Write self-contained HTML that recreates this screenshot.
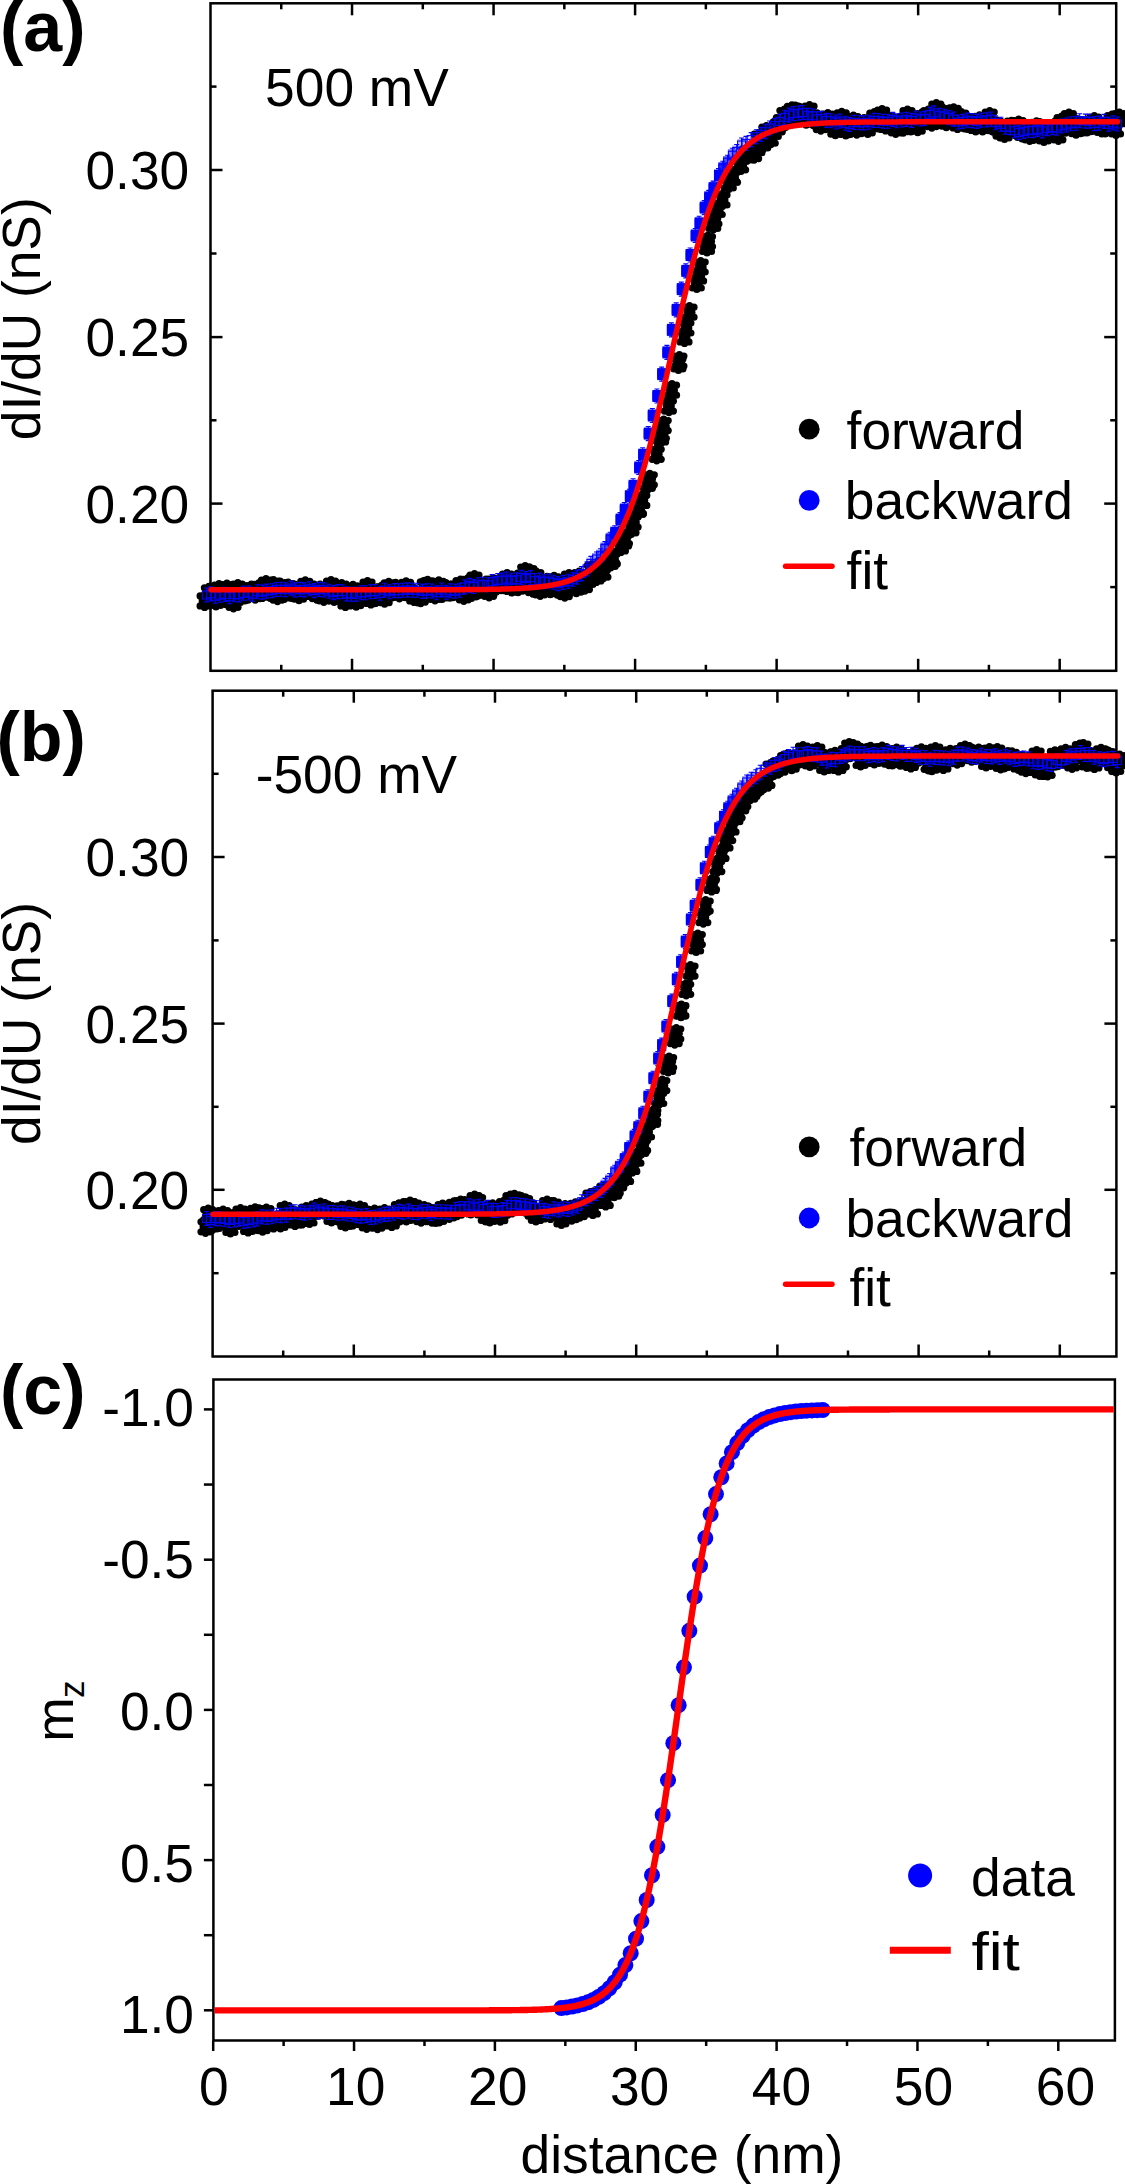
<!DOCTYPE html>
<html><head><meta charset="utf-8"><style>html,body{margin:0;padding:0;background:#fff;overflow:hidden}svg{display:block}</style></head><body>
<svg width="1125" height="2184" viewBox="0 0 1125 2184" font-family='"Liberation Sans", sans-serif'>
<rect width="1125" height="2184" fill="#fff"/>
<rect x="210.50" y="3.30" width="905.70" height="667.50" fill="none" stroke="#000" stroke-width="2.5"/>
<line x1="210.50" y1="170.00" x2="222.50" y2="170.00" stroke="#000" stroke-width="2.5" stroke-linecap="butt"/>
<line x1="1116.20" y1="170.00" x2="1104.20" y2="170.00" stroke="#000" stroke-width="2.5" stroke-linecap="butt"/>
<line x1="210.50" y1="337.10" x2="222.50" y2="337.10" stroke="#000" stroke-width="2.5" stroke-linecap="butt"/>
<line x1="1116.20" y1="337.10" x2="1104.20" y2="337.10" stroke="#000" stroke-width="2.5" stroke-linecap="butt"/>
<line x1="210.50" y1="503.60" x2="222.50" y2="503.60" stroke="#000" stroke-width="2.5" stroke-linecap="butt"/>
<line x1="1116.20" y1="503.60" x2="1104.20" y2="503.60" stroke="#000" stroke-width="2.5" stroke-linecap="butt"/>
<line x1="210.50" y1="86.60" x2="216.50" y2="86.60" stroke="#000" stroke-width="2.5" stroke-linecap="butt"/>
<line x1="1116.20" y1="86.60" x2="1110.20" y2="86.60" stroke="#000" stroke-width="2.5" stroke-linecap="butt"/>
<line x1="210.50" y1="253.50" x2="216.50" y2="253.50" stroke="#000" stroke-width="2.5" stroke-linecap="butt"/>
<line x1="1116.20" y1="253.50" x2="1110.20" y2="253.50" stroke="#000" stroke-width="2.5" stroke-linecap="butt"/>
<line x1="210.50" y1="420.30" x2="216.50" y2="420.30" stroke="#000" stroke-width="2.5" stroke-linecap="butt"/>
<line x1="1116.20" y1="420.30" x2="1110.20" y2="420.30" stroke="#000" stroke-width="2.5" stroke-linecap="butt"/>
<line x1="210.50" y1="587.10" x2="216.50" y2="587.10" stroke="#000" stroke-width="2.5" stroke-linecap="butt"/>
<line x1="1116.20" y1="587.10" x2="1110.20" y2="587.10" stroke="#000" stroke-width="2.5" stroke-linecap="butt"/>
<line x1="281.26" y1="3.30" x2="281.26" y2="9.30" stroke="#000" stroke-width="2.5" stroke-linecap="butt"/>
<line x1="281.26" y1="670.80" x2="281.26" y2="664.80" stroke="#000" stroke-width="2.5" stroke-linecap="butt"/>
<line x1="352.03" y1="3.30" x2="352.03" y2="15.30" stroke="#000" stroke-width="2.5" stroke-linecap="butt"/>
<line x1="352.03" y1="670.80" x2="352.03" y2="658.80" stroke="#000" stroke-width="2.5" stroke-linecap="butt"/>
<line x1="422.80" y1="3.30" x2="422.80" y2="9.30" stroke="#000" stroke-width="2.5" stroke-linecap="butt"/>
<line x1="422.80" y1="670.80" x2="422.80" y2="664.80" stroke="#000" stroke-width="2.5" stroke-linecap="butt"/>
<line x1="493.56" y1="3.30" x2="493.56" y2="15.30" stroke="#000" stroke-width="2.5" stroke-linecap="butt"/>
<line x1="493.56" y1="670.80" x2="493.56" y2="658.80" stroke="#000" stroke-width="2.5" stroke-linecap="butt"/>
<line x1="564.33" y1="3.30" x2="564.33" y2="9.30" stroke="#000" stroke-width="2.5" stroke-linecap="butt"/>
<line x1="564.33" y1="670.80" x2="564.33" y2="664.80" stroke="#000" stroke-width="2.5" stroke-linecap="butt"/>
<line x1="635.09" y1="3.30" x2="635.09" y2="15.30" stroke="#000" stroke-width="2.5" stroke-linecap="butt"/>
<line x1="635.09" y1="670.80" x2="635.09" y2="658.80" stroke="#000" stroke-width="2.5" stroke-linecap="butt"/>
<line x1="705.86" y1="3.30" x2="705.86" y2="9.30" stroke="#000" stroke-width="2.5" stroke-linecap="butt"/>
<line x1="705.86" y1="670.80" x2="705.86" y2="664.80" stroke="#000" stroke-width="2.5" stroke-linecap="butt"/>
<line x1="776.62" y1="3.30" x2="776.62" y2="15.30" stroke="#000" stroke-width="2.5" stroke-linecap="butt"/>
<line x1="776.62" y1="670.80" x2="776.62" y2="658.80" stroke="#000" stroke-width="2.5" stroke-linecap="butt"/>
<line x1="847.38" y1="3.30" x2="847.38" y2="9.30" stroke="#000" stroke-width="2.5" stroke-linecap="butt"/>
<line x1="847.38" y1="670.80" x2="847.38" y2="664.80" stroke="#000" stroke-width="2.5" stroke-linecap="butt"/>
<line x1="918.15" y1="3.30" x2="918.15" y2="15.30" stroke="#000" stroke-width="2.5" stroke-linecap="butt"/>
<line x1="918.15" y1="670.80" x2="918.15" y2="658.80" stroke="#000" stroke-width="2.5" stroke-linecap="butt"/>
<line x1="988.92" y1="3.30" x2="988.92" y2="9.30" stroke="#000" stroke-width="2.5" stroke-linecap="butt"/>
<line x1="988.92" y1="670.80" x2="988.92" y2="664.80" stroke="#000" stroke-width="2.5" stroke-linecap="butt"/>
<line x1="1059.68" y1="3.30" x2="1059.68" y2="15.30" stroke="#000" stroke-width="2.5" stroke-linecap="butt"/>
<line x1="1059.68" y1="670.80" x2="1059.68" y2="658.80" stroke="#000" stroke-width="2.5" stroke-linecap="butt"/>
<g fill="#000"><circle cx="204.6" cy="600.9" r="6"/><circle cx="200.1" cy="595.9" r="3.6"/><circle cx="209.1" cy="595.9" r="3.6"/><circle cx="200.1" cy="605.9" r="3.6"/><circle cx="209.1" cy="605.9" r="3.6"/><circle cx="204.6" cy="594.4" r="3.6"/><circle cx="204.6" cy="607.4" r="3.6"/><circle cx="208.9" cy="592.8" r="6"/><circle cx="204.4" cy="587.8" r="3.6"/><circle cx="213.4" cy="587.8" r="3.6"/><circle cx="204.4" cy="597.8" r="3.6"/><circle cx="213.4" cy="597.8" r="3.6"/><circle cx="208.9" cy="586.3" r="3.6"/><circle cx="208.9" cy="599.3" r="3.6"/><circle cx="212.2" cy="595.6" r="6"/><circle cx="207.7" cy="590.6" r="3.6"/><circle cx="216.7" cy="590.6" r="3.6"/><circle cx="207.7" cy="600.6" r="3.6"/><circle cx="216.7" cy="600.6" r="3.6"/><circle cx="212.2" cy="589.1" r="3.6"/><circle cx="212.2" cy="602.1" r="3.6"/><circle cx="216.0" cy="600.5" r="6"/><circle cx="211.5" cy="595.5" r="3.6"/><circle cx="220.5" cy="595.5" r="3.6"/><circle cx="211.5" cy="605.5" r="3.6"/><circle cx="220.5" cy="605.5" r="3.6"/><circle cx="216.0" cy="594.0" r="3.6"/><circle cx="216.0" cy="607.0" r="3.6"/><circle cx="219.0" cy="590.0" r="6"/><circle cx="214.5" cy="585.0" r="3.6"/><circle cx="223.5" cy="585.0" r="3.6"/><circle cx="214.5" cy="595.0" r="3.6"/><circle cx="223.5" cy="595.0" r="3.6"/><circle cx="219.0" cy="583.5" r="3.6"/><circle cx="219.0" cy="596.5" r="3.6"/><circle cx="223.3" cy="595.8" r="6"/><circle cx="218.8" cy="590.8" r="3.6"/><circle cx="227.8" cy="590.8" r="3.6"/><circle cx="218.8" cy="600.8" r="3.6"/><circle cx="227.8" cy="600.8" r="3.6"/><circle cx="223.3" cy="589.3" r="3.6"/><circle cx="223.3" cy="602.3" r="3.6"/><circle cx="226.9" cy="589.7" r="6"/><circle cx="222.4" cy="584.7" r="3.6"/><circle cx="231.4" cy="584.7" r="3.6"/><circle cx="222.4" cy="594.7" r="3.6"/><circle cx="231.4" cy="594.7" r="3.6"/><circle cx="226.9" cy="583.2" r="3.6"/><circle cx="226.9" cy="596.2" r="3.6"/><circle cx="230.1" cy="599.4" r="6"/><circle cx="225.6" cy="594.4" r="3.6"/><circle cx="234.6" cy="594.4" r="3.6"/><circle cx="225.6" cy="604.4" r="3.6"/><circle cx="234.6" cy="604.4" r="3.6"/><circle cx="230.1" cy="592.9" r="3.6"/><circle cx="230.1" cy="605.9" r="3.6"/><circle cx="233.5" cy="602.3" r="6"/><circle cx="229.0" cy="597.3" r="3.6"/><circle cx="238.0" cy="597.3" r="3.6"/><circle cx="229.0" cy="607.3" r="3.6"/><circle cx="238.0" cy="607.3" r="3.6"/><circle cx="233.5" cy="595.8" r="3.6"/><circle cx="233.5" cy="608.8" r="3.6"/><circle cx="237.8" cy="589.1" r="6"/><circle cx="233.3" cy="584.1" r="3.6"/><circle cx="242.3" cy="584.1" r="3.6"/><circle cx="233.3" cy="594.1" r="3.6"/><circle cx="242.3" cy="594.1" r="3.6"/><circle cx="237.8" cy="582.6" r="3.6"/><circle cx="237.8" cy="595.6" r="3.6"/><circle cx="240.5" cy="596.0" r="6"/><circle cx="236.0" cy="591.0" r="3.6"/><circle cx="245.0" cy="591.0" r="3.6"/><circle cx="236.0" cy="601.0" r="3.6"/><circle cx="245.0" cy="601.0" r="3.6"/><circle cx="240.5" cy="589.5" r="3.6"/><circle cx="240.5" cy="602.5" r="3.6"/><circle cx="245.0" cy="593.4" r="6"/><circle cx="240.5" cy="588.4" r="3.6"/><circle cx="249.5" cy="588.4" r="3.6"/><circle cx="240.5" cy="598.4" r="3.6"/><circle cx="249.5" cy="598.4" r="3.6"/><circle cx="245.0" cy="586.9" r="3.6"/><circle cx="245.0" cy="599.9" r="3.6"/><circle cx="247.9" cy="593.7" r="6"/><circle cx="243.4" cy="588.7" r="3.6"/><circle cx="252.4" cy="588.7" r="3.6"/><circle cx="243.4" cy="598.7" r="3.6"/><circle cx="252.4" cy="598.7" r="3.6"/><circle cx="247.9" cy="587.2" r="3.6"/><circle cx="247.9" cy="600.2" r="3.6"/><circle cx="251.3" cy="590.5" r="6"/><circle cx="246.8" cy="585.5" r="3.6"/><circle cx="255.8" cy="585.5" r="3.6"/><circle cx="246.8" cy="595.5" r="3.6"/><circle cx="255.8" cy="595.5" r="3.6"/><circle cx="251.3" cy="584.0" r="3.6"/><circle cx="251.3" cy="597.0" r="3.6"/><circle cx="255.3" cy="593.6" r="6"/><circle cx="250.8" cy="588.6" r="3.6"/><circle cx="259.8" cy="588.6" r="3.6"/><circle cx="250.8" cy="598.6" r="3.6"/><circle cx="259.8" cy="598.6" r="3.6"/><circle cx="255.3" cy="587.1" r="3.6"/><circle cx="255.3" cy="600.1" r="3.6"/><circle cx="258.7" cy="589.3" r="6"/><circle cx="254.2" cy="584.3" r="3.6"/><circle cx="263.2" cy="584.3" r="3.6"/><circle cx="254.2" cy="594.3" r="3.6"/><circle cx="263.2" cy="594.3" r="3.6"/><circle cx="258.7" cy="582.8" r="3.6"/><circle cx="258.7" cy="595.8" r="3.6"/><circle cx="262.3" cy="591.9" r="6"/><circle cx="257.8" cy="586.9" r="3.6"/><circle cx="266.8" cy="586.9" r="3.6"/><circle cx="257.8" cy="596.9" r="3.6"/><circle cx="266.8" cy="596.9" r="3.6"/><circle cx="262.3" cy="585.4" r="3.6"/><circle cx="262.3" cy="598.4" r="3.6"/><circle cx="266.0" cy="585.1" r="6"/><circle cx="261.5" cy="580.1" r="3.6"/><circle cx="270.5" cy="580.1" r="3.6"/><circle cx="261.5" cy="590.1" r="3.6"/><circle cx="270.5" cy="590.1" r="3.6"/><circle cx="266.0" cy="578.6" r="3.6"/><circle cx="266.0" cy="591.6" r="3.6"/><circle cx="270.1" cy="591.8" r="6"/><circle cx="265.6" cy="586.8" r="3.6"/><circle cx="274.6" cy="586.8" r="3.6"/><circle cx="265.6" cy="596.8" r="3.6"/><circle cx="274.6" cy="596.8" r="3.6"/><circle cx="270.1" cy="585.3" r="3.6"/><circle cx="270.1" cy="598.3" r="3.6"/><circle cx="273.5" cy="586.1" r="6"/><circle cx="269.0" cy="581.1" r="3.6"/><circle cx="278.0" cy="581.1" r="3.6"/><circle cx="269.0" cy="591.1" r="3.6"/><circle cx="278.0" cy="591.1" r="3.6"/><circle cx="273.5" cy="579.6" r="3.6"/><circle cx="273.5" cy="592.6" r="3.6"/><circle cx="277.5" cy="595.1" r="6"/><circle cx="273.0" cy="590.1" r="3.6"/><circle cx="282.0" cy="590.1" r="3.6"/><circle cx="273.0" cy="600.1" r="3.6"/><circle cx="282.0" cy="600.1" r="3.6"/><circle cx="277.5" cy="588.6" r="3.6"/><circle cx="277.5" cy="601.6" r="3.6"/><circle cx="280.2" cy="587.7" r="6"/><circle cx="275.7" cy="582.7" r="3.6"/><circle cx="284.7" cy="582.7" r="3.6"/><circle cx="275.7" cy="592.7" r="3.6"/><circle cx="284.7" cy="592.7" r="3.6"/><circle cx="280.2" cy="581.2" r="3.6"/><circle cx="280.2" cy="594.2" r="3.6"/><circle cx="284.4" cy="592.8" r="6"/><circle cx="279.9" cy="587.8" r="3.6"/><circle cx="288.9" cy="587.8" r="3.6"/><circle cx="279.9" cy="597.8" r="3.6"/><circle cx="288.9" cy="597.8" r="3.6"/><circle cx="284.4" cy="586.3" r="3.6"/><circle cx="284.4" cy="599.3" r="3.6"/><circle cx="288.2" cy="588.6" r="6"/><circle cx="283.7" cy="583.6" r="3.6"/><circle cx="292.7" cy="583.6" r="3.6"/><circle cx="283.7" cy="593.6" r="3.6"/><circle cx="292.7" cy="593.6" r="3.6"/><circle cx="288.2" cy="582.1" r="3.6"/><circle cx="288.2" cy="595.1" r="3.6"/><circle cx="291.7" cy="592.0" r="6"/><circle cx="287.2" cy="587.0" r="3.6"/><circle cx="296.2" cy="587.0" r="3.6"/><circle cx="287.2" cy="597.0" r="3.6"/><circle cx="296.2" cy="597.0" r="3.6"/><circle cx="291.7" cy="585.5" r="3.6"/><circle cx="291.7" cy="598.5" r="3.6"/><circle cx="294.8" cy="590.7" r="6"/><circle cx="290.3" cy="585.7" r="3.6"/><circle cx="299.3" cy="585.7" r="3.6"/><circle cx="290.3" cy="595.7" r="3.6"/><circle cx="299.3" cy="595.7" r="3.6"/><circle cx="294.8" cy="584.2" r="3.6"/><circle cx="294.8" cy="597.2" r="3.6"/><circle cx="299.0" cy="594.2" r="6"/><circle cx="294.5" cy="589.2" r="3.6"/><circle cx="303.5" cy="589.2" r="3.6"/><circle cx="294.5" cy="599.2" r="3.6"/><circle cx="303.5" cy="599.2" r="3.6"/><circle cx="299.0" cy="587.7" r="3.6"/><circle cx="299.0" cy="600.7" r="3.6"/><circle cx="302.2" cy="590.8" r="6"/><circle cx="297.7" cy="585.8" r="3.6"/><circle cx="306.7" cy="585.8" r="3.6"/><circle cx="297.7" cy="595.8" r="3.6"/><circle cx="306.7" cy="595.8" r="3.6"/><circle cx="302.2" cy="584.3" r="3.6"/><circle cx="302.2" cy="597.3" r="3.6"/><circle cx="305.3" cy="586.3" r="6"/><circle cx="300.8" cy="581.3" r="3.6"/><circle cx="309.8" cy="581.3" r="3.6"/><circle cx="300.8" cy="591.3" r="3.6"/><circle cx="309.8" cy="591.3" r="3.6"/><circle cx="305.3" cy="579.8" r="3.6"/><circle cx="305.3" cy="592.8" r="3.6"/><circle cx="309.7" cy="589.1" r="6"/><circle cx="305.2" cy="584.1" r="3.6"/><circle cx="314.2" cy="584.1" r="3.6"/><circle cx="305.2" cy="594.1" r="3.6"/><circle cx="314.2" cy="594.1" r="3.6"/><circle cx="309.7" cy="582.6" r="3.6"/><circle cx="309.7" cy="595.6" r="3.6"/><circle cx="312.7" cy="591.4" r="6"/><circle cx="308.2" cy="586.4" r="3.6"/><circle cx="317.2" cy="586.4" r="3.6"/><circle cx="308.2" cy="596.4" r="3.6"/><circle cx="317.2" cy="596.4" r="3.6"/><circle cx="312.7" cy="584.9" r="3.6"/><circle cx="312.7" cy="597.9" r="3.6"/><circle cx="316.8" cy="593.6" r="6"/><circle cx="312.3" cy="588.6" r="3.6"/><circle cx="321.3" cy="588.6" r="3.6"/><circle cx="312.3" cy="598.6" r="3.6"/><circle cx="321.3" cy="598.6" r="3.6"/><circle cx="316.8" cy="587.1" r="3.6"/><circle cx="316.8" cy="600.1" r="3.6"/><circle cx="320.1" cy="590.6" r="6"/><circle cx="315.6" cy="585.6" r="3.6"/><circle cx="324.6" cy="585.6" r="3.6"/><circle cx="315.6" cy="595.6" r="3.6"/><circle cx="324.6" cy="595.6" r="3.6"/><circle cx="320.1" cy="584.1" r="3.6"/><circle cx="320.1" cy="597.1" r="3.6"/><circle cx="323.8" cy="595.8" r="6"/><circle cx="319.3" cy="590.8" r="3.6"/><circle cx="328.3" cy="590.8" r="3.6"/><circle cx="319.3" cy="600.8" r="3.6"/><circle cx="328.3" cy="600.8" r="3.6"/><circle cx="323.8" cy="589.3" r="3.6"/><circle cx="323.8" cy="602.3" r="3.6"/><circle cx="327.4" cy="590.8" r="6"/><circle cx="322.9" cy="585.8" r="3.6"/><circle cx="331.9" cy="585.8" r="3.6"/><circle cx="322.9" cy="595.8" r="3.6"/><circle cx="331.9" cy="595.8" r="3.6"/><circle cx="327.4" cy="584.3" r="3.6"/><circle cx="327.4" cy="597.3" r="3.6"/><circle cx="331.0" cy="586.0" r="6"/><circle cx="326.5" cy="581.0" r="3.6"/><circle cx="335.5" cy="581.0" r="3.6"/><circle cx="326.5" cy="591.0" r="3.6"/><circle cx="335.5" cy="591.0" r="3.6"/><circle cx="331.0" cy="579.5" r="3.6"/><circle cx="331.0" cy="592.5" r="3.6"/><circle cx="334.1" cy="595.8" r="6"/><circle cx="329.6" cy="590.8" r="3.6"/><circle cx="338.6" cy="590.8" r="3.6"/><circle cx="329.6" cy="600.8" r="3.6"/><circle cx="338.6" cy="600.8" r="3.6"/><circle cx="334.1" cy="589.3" r="3.6"/><circle cx="334.1" cy="602.3" r="3.6"/><circle cx="338.7" cy="594.7" r="6"/><circle cx="334.2" cy="589.7" r="3.6"/><circle cx="343.2" cy="589.7" r="3.6"/><circle cx="334.2" cy="599.7" r="3.6"/><circle cx="343.2" cy="599.7" r="3.6"/><circle cx="338.7" cy="588.2" r="3.6"/><circle cx="338.7" cy="601.2" r="3.6"/><circle cx="341.7" cy="589.1" r="6"/><circle cx="337.2" cy="584.1" r="3.6"/><circle cx="346.2" cy="584.1" r="3.6"/><circle cx="337.2" cy="594.1" r="3.6"/><circle cx="346.2" cy="594.1" r="3.6"/><circle cx="341.7" cy="582.6" r="3.6"/><circle cx="341.7" cy="595.6" r="3.6"/><circle cx="345.4" cy="600.9" r="6"/><circle cx="340.9" cy="595.9" r="3.6"/><circle cx="349.9" cy="595.9" r="3.6"/><circle cx="340.9" cy="605.9" r="3.6"/><circle cx="349.9" cy="605.9" r="3.6"/><circle cx="345.4" cy="594.4" r="3.6"/><circle cx="345.4" cy="607.4" r="3.6"/><circle cx="349.3" cy="595.1" r="6"/><circle cx="344.8" cy="590.1" r="3.6"/><circle cx="353.8" cy="590.1" r="3.6"/><circle cx="344.8" cy="600.1" r="3.6"/><circle cx="353.8" cy="600.1" r="3.6"/><circle cx="349.3" cy="588.6" r="3.6"/><circle cx="349.3" cy="601.6" r="3.6"/><circle cx="353.0" cy="590.8" r="6"/><circle cx="348.5" cy="585.8" r="3.6"/><circle cx="357.5" cy="585.8" r="3.6"/><circle cx="348.5" cy="595.8" r="3.6"/><circle cx="357.5" cy="595.8" r="3.6"/><circle cx="353.0" cy="584.3" r="3.6"/><circle cx="353.0" cy="597.3" r="3.6"/><circle cx="356.2" cy="600.7" r="6"/><circle cx="351.7" cy="595.7" r="3.6"/><circle cx="360.7" cy="595.7" r="3.6"/><circle cx="351.7" cy="605.7" r="3.6"/><circle cx="360.7" cy="605.7" r="3.6"/><circle cx="356.2" cy="594.2" r="3.6"/><circle cx="356.2" cy="607.2" r="3.6"/><circle cx="359.9" cy="593.7" r="6"/><circle cx="355.4" cy="588.7" r="3.6"/><circle cx="364.4" cy="588.7" r="3.6"/><circle cx="355.4" cy="598.7" r="3.6"/><circle cx="364.4" cy="598.7" r="3.6"/><circle cx="359.9" cy="587.2" r="3.6"/><circle cx="359.9" cy="600.2" r="3.6"/><circle cx="363.2" cy="594.9" r="6"/><circle cx="358.7" cy="589.9" r="3.6"/><circle cx="367.7" cy="589.9" r="3.6"/><circle cx="358.7" cy="599.9" r="3.6"/><circle cx="367.7" cy="599.9" r="3.6"/><circle cx="363.2" cy="588.4" r="3.6"/><circle cx="363.2" cy="601.4" r="3.6"/><circle cx="367.5" cy="587.1" r="6"/><circle cx="363.0" cy="582.1" r="3.6"/><circle cx="372.0" cy="582.1" r="3.6"/><circle cx="363.0" cy="592.1" r="3.6"/><circle cx="372.0" cy="592.1" r="3.6"/><circle cx="367.5" cy="580.6" r="3.6"/><circle cx="367.5" cy="593.6" r="3.6"/><circle cx="370.9" cy="598.4" r="6"/><circle cx="366.4" cy="593.4" r="3.6"/><circle cx="375.4" cy="593.4" r="3.6"/><circle cx="366.4" cy="603.4" r="3.6"/><circle cx="375.4" cy="603.4" r="3.6"/><circle cx="370.9" cy="591.9" r="3.6"/><circle cx="370.9" cy="604.9" r="3.6"/><circle cx="374.6" cy="597.2" r="6"/><circle cx="370.1" cy="592.2" r="3.6"/><circle cx="379.1" cy="592.2" r="3.6"/><circle cx="370.1" cy="602.2" r="3.6"/><circle cx="379.1" cy="602.2" r="3.6"/><circle cx="374.6" cy="590.7" r="3.6"/><circle cx="374.6" cy="603.7" r="3.6"/><circle cx="378.1" cy="593.7" r="6"/><circle cx="373.6" cy="588.7" r="3.6"/><circle cx="382.6" cy="588.7" r="3.6"/><circle cx="373.6" cy="598.7" r="3.6"/><circle cx="382.6" cy="598.7" r="3.6"/><circle cx="378.1" cy="587.2" r="3.6"/><circle cx="378.1" cy="600.2" r="3.6"/><circle cx="381.5" cy="591.9" r="6"/><circle cx="377.0" cy="586.9" r="3.6"/><circle cx="386.0" cy="586.9" r="3.6"/><circle cx="377.0" cy="596.9" r="3.6"/><circle cx="386.0" cy="596.9" r="3.6"/><circle cx="381.5" cy="585.4" r="3.6"/><circle cx="381.5" cy="598.4" r="3.6"/><circle cx="384.6" cy="597.7" r="6"/><circle cx="380.1" cy="592.7" r="3.6"/><circle cx="389.1" cy="592.7" r="3.6"/><circle cx="380.1" cy="602.7" r="3.6"/><circle cx="389.1" cy="602.7" r="3.6"/><circle cx="384.6" cy="591.2" r="3.6"/><circle cx="384.6" cy="604.2" r="3.6"/><circle cx="388.7" cy="587.8" r="6"/><circle cx="384.2" cy="582.8" r="3.6"/><circle cx="393.2" cy="582.8" r="3.6"/><circle cx="384.2" cy="592.8" r="3.6"/><circle cx="393.2" cy="592.8" r="3.6"/><circle cx="388.7" cy="581.3" r="3.6"/><circle cx="388.7" cy="594.3" r="3.6"/><circle cx="392.2" cy="591.3" r="6"/><circle cx="387.7" cy="586.3" r="3.6"/><circle cx="396.7" cy="586.3" r="3.6"/><circle cx="387.7" cy="596.3" r="3.6"/><circle cx="396.7" cy="596.3" r="3.6"/><circle cx="392.2" cy="584.8" r="3.6"/><circle cx="392.2" cy="597.8" r="3.6"/><circle cx="395.7" cy="588.9" r="6"/><circle cx="391.2" cy="583.9" r="3.6"/><circle cx="400.2" cy="583.9" r="3.6"/><circle cx="391.2" cy="593.9" r="3.6"/><circle cx="400.2" cy="593.9" r="3.6"/><circle cx="395.7" cy="582.4" r="3.6"/><circle cx="395.7" cy="595.4" r="3.6"/><circle cx="399.4" cy="592.3" r="6"/><circle cx="394.9" cy="587.3" r="3.6"/><circle cx="403.9" cy="587.3" r="3.6"/><circle cx="394.9" cy="597.3" r="3.6"/><circle cx="403.9" cy="597.3" r="3.6"/><circle cx="399.4" cy="585.8" r="3.6"/><circle cx="399.4" cy="598.8" r="3.6"/><circle cx="403.1" cy="590.2" r="6"/><circle cx="398.6" cy="585.2" r="3.6"/><circle cx="407.6" cy="585.2" r="3.6"/><circle cx="398.6" cy="595.2" r="3.6"/><circle cx="407.6" cy="595.2" r="3.6"/><circle cx="403.1" cy="583.7" r="3.6"/><circle cx="403.1" cy="596.7" r="3.6"/><circle cx="406.1" cy="587.3" r="6"/><circle cx="401.6" cy="582.3" r="3.6"/><circle cx="410.6" cy="582.3" r="3.6"/><circle cx="401.6" cy="592.3" r="3.6"/><circle cx="410.6" cy="592.3" r="3.6"/><circle cx="406.1" cy="580.8" r="3.6"/><circle cx="406.1" cy="593.8" r="3.6"/><circle cx="409.9" cy="592.6" r="6"/><circle cx="405.4" cy="587.6" r="3.6"/><circle cx="414.4" cy="587.6" r="3.6"/><circle cx="405.4" cy="597.6" r="3.6"/><circle cx="414.4" cy="597.6" r="3.6"/><circle cx="409.9" cy="586.1" r="3.6"/><circle cx="409.9" cy="599.1" r="3.6"/><circle cx="414.2" cy="595.9" r="6"/><circle cx="409.7" cy="590.9" r="3.6"/><circle cx="418.7" cy="590.9" r="3.6"/><circle cx="409.7" cy="600.9" r="3.6"/><circle cx="418.7" cy="600.9" r="3.6"/><circle cx="414.2" cy="589.4" r="3.6"/><circle cx="414.2" cy="602.4" r="3.6"/><circle cx="417.7" cy="596.5" r="6"/><circle cx="413.2" cy="591.5" r="3.6"/><circle cx="422.2" cy="591.5" r="3.6"/><circle cx="413.2" cy="601.5" r="3.6"/><circle cx="422.2" cy="601.5" r="3.6"/><circle cx="417.7" cy="590.0" r="3.6"/><circle cx="417.7" cy="603.0" r="3.6"/><circle cx="420.8" cy="597.1" r="6"/><circle cx="416.3" cy="592.1" r="3.6"/><circle cx="425.3" cy="592.1" r="3.6"/><circle cx="416.3" cy="602.1" r="3.6"/><circle cx="425.3" cy="602.1" r="3.6"/><circle cx="420.8" cy="590.6" r="3.6"/><circle cx="420.8" cy="603.6" r="3.6"/><circle cx="424.8" cy="586.9" r="6"/><circle cx="420.3" cy="581.9" r="3.6"/><circle cx="429.3" cy="581.9" r="3.6"/><circle cx="420.3" cy="591.9" r="3.6"/><circle cx="429.3" cy="591.9" r="3.6"/><circle cx="424.8" cy="580.4" r="3.6"/><circle cx="424.8" cy="593.4" r="3.6"/><circle cx="427.7" cy="585.9" r="6"/><circle cx="423.2" cy="580.9" r="3.6"/><circle cx="432.2" cy="580.9" r="3.6"/><circle cx="423.2" cy="590.9" r="3.6"/><circle cx="432.2" cy="590.9" r="3.6"/><circle cx="427.7" cy="579.4" r="3.6"/><circle cx="427.7" cy="592.4" r="3.6"/><circle cx="432.1" cy="589.1" r="6"/><circle cx="427.6" cy="584.1" r="3.6"/><circle cx="436.6" cy="584.1" r="3.6"/><circle cx="427.6" cy="594.1" r="3.6"/><circle cx="436.6" cy="594.1" r="3.6"/><circle cx="432.1" cy="582.6" r="3.6"/><circle cx="432.1" cy="595.6" r="3.6"/><circle cx="435.0" cy="594.3" r="6"/><circle cx="430.5" cy="589.3" r="3.6"/><circle cx="439.5" cy="589.3" r="3.6"/><circle cx="430.5" cy="599.3" r="3.6"/><circle cx="439.5" cy="599.3" r="3.6"/><circle cx="435.0" cy="587.8" r="3.6"/><circle cx="435.0" cy="600.8" r="3.6"/><circle cx="438.8" cy="586.4" r="6"/><circle cx="434.3" cy="581.4" r="3.6"/><circle cx="443.3" cy="581.4" r="3.6"/><circle cx="434.3" cy="591.4" r="3.6"/><circle cx="443.3" cy="591.4" r="3.6"/><circle cx="438.8" cy="579.9" r="3.6"/><circle cx="438.8" cy="592.9" r="3.6"/><circle cx="442.3" cy="592.8" r="6"/><circle cx="437.8" cy="587.8" r="3.6"/><circle cx="446.8" cy="587.8" r="3.6"/><circle cx="437.8" cy="597.8" r="3.6"/><circle cx="446.8" cy="597.8" r="3.6"/><circle cx="442.3" cy="586.3" r="3.6"/><circle cx="442.3" cy="599.3" r="3.6"/><circle cx="445.9" cy="589.1" r="6"/><circle cx="441.4" cy="584.1" r="3.6"/><circle cx="450.4" cy="584.1" r="3.6"/><circle cx="441.4" cy="594.1" r="3.6"/><circle cx="450.4" cy="594.1" r="3.6"/><circle cx="445.9" cy="582.6" r="3.6"/><circle cx="445.9" cy="595.6" r="3.6"/><circle cx="450.0" cy="591.6" r="6"/><circle cx="445.5" cy="586.6" r="3.6"/><circle cx="454.5" cy="586.6" r="3.6"/><circle cx="445.5" cy="596.6" r="3.6"/><circle cx="454.5" cy="596.6" r="3.6"/><circle cx="450.0" cy="585.1" r="3.6"/><circle cx="450.0" cy="598.1" r="3.6"/><circle cx="453.2" cy="591.2" r="6"/><circle cx="448.7" cy="586.2" r="3.6"/><circle cx="457.7" cy="586.2" r="3.6"/><circle cx="448.7" cy="596.2" r="3.6"/><circle cx="457.7" cy="596.2" r="3.6"/><circle cx="453.2" cy="584.7" r="3.6"/><circle cx="453.2" cy="597.7" r="3.6"/><circle cx="456.5" cy="589.2" r="6"/><circle cx="452.0" cy="584.2" r="3.6"/><circle cx="461.0" cy="584.2" r="3.6"/><circle cx="452.0" cy="594.2" r="3.6"/><circle cx="461.0" cy="594.2" r="3.6"/><circle cx="456.5" cy="582.7" r="3.6"/><circle cx="456.5" cy="595.7" r="3.6"/><circle cx="460.5" cy="585.6" r="6"/><circle cx="456.0" cy="580.6" r="3.6"/><circle cx="465.0" cy="580.6" r="3.6"/><circle cx="456.0" cy="590.6" r="3.6"/><circle cx="465.0" cy="590.6" r="3.6"/><circle cx="460.5" cy="579.1" r="3.6"/><circle cx="460.5" cy="592.1" r="3.6"/><circle cx="463.8" cy="594.8" r="6"/><circle cx="459.3" cy="589.8" r="3.6"/><circle cx="468.3" cy="589.8" r="3.6"/><circle cx="459.3" cy="599.8" r="3.6"/><circle cx="468.3" cy="599.8" r="3.6"/><circle cx="463.8" cy="588.3" r="3.6"/><circle cx="463.8" cy="601.3" r="3.6"/><circle cx="467.8" cy="584.3" r="6"/><circle cx="463.3" cy="579.3" r="3.6"/><circle cx="472.3" cy="579.3" r="3.6"/><circle cx="463.3" cy="589.3" r="3.6"/><circle cx="472.3" cy="589.3" r="3.6"/><circle cx="467.8" cy="577.8" r="3.6"/><circle cx="467.8" cy="590.8" r="3.6"/><circle cx="471.5" cy="592.0" r="6"/><circle cx="467.0" cy="587.0" r="3.6"/><circle cx="476.0" cy="587.0" r="3.6"/><circle cx="467.0" cy="597.0" r="3.6"/><circle cx="476.0" cy="597.0" r="3.6"/><circle cx="471.5" cy="585.5" r="3.6"/><circle cx="471.5" cy="598.5" r="3.6"/><circle cx="474.5" cy="580.1" r="6"/><circle cx="470.0" cy="575.1" r="3.6"/><circle cx="479.0" cy="575.1" r="3.6"/><circle cx="470.0" cy="585.1" r="3.6"/><circle cx="479.0" cy="585.1" r="3.6"/><circle cx="474.5" cy="573.6" r="3.6"/><circle cx="474.5" cy="586.6" r="3.6"/><circle cx="478.2" cy="589.3" r="6"/><circle cx="473.7" cy="584.3" r="3.6"/><circle cx="482.7" cy="584.3" r="3.6"/><circle cx="473.7" cy="594.3" r="3.6"/><circle cx="482.7" cy="594.3" r="3.6"/><circle cx="478.2" cy="582.8" r="3.6"/><circle cx="478.2" cy="595.8" r="3.6"/><circle cx="481.9" cy="588.6" r="6"/><circle cx="477.4" cy="583.6" r="3.6"/><circle cx="486.4" cy="583.6" r="3.6"/><circle cx="477.4" cy="593.6" r="3.6"/><circle cx="486.4" cy="593.6" r="3.6"/><circle cx="481.9" cy="582.1" r="3.6"/><circle cx="481.9" cy="595.1" r="3.6"/><circle cx="486.0" cy="585.7" r="6"/><circle cx="481.5" cy="580.7" r="3.6"/><circle cx="490.5" cy="580.7" r="3.6"/><circle cx="481.5" cy="590.7" r="3.6"/><circle cx="490.5" cy="590.7" r="3.6"/><circle cx="486.0" cy="579.2" r="3.6"/><circle cx="486.0" cy="592.2" r="3.6"/><circle cx="489.1" cy="591.3" r="6"/><circle cx="484.6" cy="586.3" r="3.6"/><circle cx="493.6" cy="586.3" r="3.6"/><circle cx="484.6" cy="596.3" r="3.6"/><circle cx="493.6" cy="596.3" r="3.6"/><circle cx="489.1" cy="584.8" r="3.6"/><circle cx="489.1" cy="597.8" r="3.6"/><circle cx="493.3" cy="584.2" r="6"/><circle cx="488.8" cy="579.2" r="3.6"/><circle cx="497.8" cy="579.2" r="3.6"/><circle cx="488.8" cy="589.2" r="3.6"/><circle cx="497.8" cy="589.2" r="3.6"/><circle cx="493.3" cy="577.7" r="3.6"/><circle cx="493.3" cy="590.7" r="3.6"/><circle cx="496.3" cy="585.6" r="6"/><circle cx="491.8" cy="580.6" r="3.6"/><circle cx="500.8" cy="580.6" r="3.6"/><circle cx="491.8" cy="590.6" r="3.6"/><circle cx="500.8" cy="590.6" r="3.6"/><circle cx="496.3" cy="579.1" r="3.6"/><circle cx="496.3" cy="592.1" r="3.6"/><circle cx="500.1" cy="583.9" r="6"/><circle cx="495.6" cy="578.9" r="3.6"/><circle cx="504.6" cy="578.9" r="3.6"/><circle cx="495.6" cy="588.9" r="3.6"/><circle cx="504.6" cy="588.9" r="3.6"/><circle cx="500.1" cy="577.4" r="3.6"/><circle cx="500.1" cy="590.4" r="3.6"/><circle cx="503.6" cy="584.2" r="6"/><circle cx="499.1" cy="579.2" r="3.6"/><circle cx="508.1" cy="579.2" r="3.6"/><circle cx="499.1" cy="589.2" r="3.6"/><circle cx="508.1" cy="589.2" r="3.6"/><circle cx="503.6" cy="577.7" r="3.6"/><circle cx="503.6" cy="590.7" r="3.6"/><circle cx="507.0" cy="579.0" r="6"/><circle cx="502.5" cy="574.0" r="3.6"/><circle cx="511.5" cy="574.0" r="3.6"/><circle cx="502.5" cy="584.0" r="3.6"/><circle cx="511.5" cy="584.0" r="3.6"/><circle cx="507.0" cy="572.5" r="3.6"/><circle cx="507.0" cy="585.5" r="3.6"/><circle cx="511.5" cy="586.4" r="6"/><circle cx="507.0" cy="581.4" r="3.6"/><circle cx="516.0" cy="581.4" r="3.6"/><circle cx="507.0" cy="591.4" r="3.6"/><circle cx="516.0" cy="591.4" r="3.6"/><circle cx="511.5" cy="579.9" r="3.6"/><circle cx="511.5" cy="592.9" r="3.6"/><circle cx="514.4" cy="585.6" r="6"/><circle cx="509.9" cy="580.6" r="3.6"/><circle cx="518.9" cy="580.6" r="3.6"/><circle cx="509.9" cy="590.6" r="3.6"/><circle cx="518.9" cy="590.6" r="3.6"/><circle cx="514.4" cy="579.1" r="3.6"/><circle cx="514.4" cy="592.1" r="3.6"/><circle cx="518.0" cy="586.2" r="6"/><circle cx="513.5" cy="581.2" r="3.6"/><circle cx="522.5" cy="581.2" r="3.6"/><circle cx="513.5" cy="591.2" r="3.6"/><circle cx="522.5" cy="591.2" r="3.6"/><circle cx="518.0" cy="579.7" r="3.6"/><circle cx="518.0" cy="592.7" r="3.6"/><circle cx="522.0" cy="578.1" r="6"/><circle cx="517.5" cy="573.1" r="3.6"/><circle cx="526.5" cy="573.1" r="3.6"/><circle cx="517.5" cy="583.1" r="3.6"/><circle cx="526.5" cy="583.1" r="3.6"/><circle cx="522.0" cy="571.6" r="3.6"/><circle cx="522.0" cy="584.6" r="3.6"/><circle cx="525.2" cy="572.0" r="6"/><circle cx="520.7" cy="567.0" r="3.6"/><circle cx="529.7" cy="567.0" r="3.6"/><circle cx="520.7" cy="577.0" r="3.6"/><circle cx="529.7" cy="577.0" r="3.6"/><circle cx="525.2" cy="565.5" r="3.6"/><circle cx="525.2" cy="578.5" r="3.6"/><circle cx="529.4" cy="573.7" r="6"/><circle cx="524.9" cy="568.7" r="3.6"/><circle cx="533.9" cy="568.7" r="3.6"/><circle cx="524.9" cy="578.7" r="3.6"/><circle cx="533.9" cy="578.7" r="3.6"/><circle cx="529.4" cy="567.2" r="3.6"/><circle cx="529.4" cy="580.2" r="3.6"/><circle cx="532.9" cy="587.6" r="6"/><circle cx="528.4" cy="582.6" r="3.6"/><circle cx="537.4" cy="582.6" r="3.6"/><circle cx="528.4" cy="592.6" r="3.6"/><circle cx="537.4" cy="592.6" r="3.6"/><circle cx="532.9" cy="581.1" r="3.6"/><circle cx="532.9" cy="594.1" r="3.6"/><circle cx="536.3" cy="577.5" r="6"/><circle cx="531.8" cy="572.5" r="3.6"/><circle cx="540.8" cy="572.5" r="3.6"/><circle cx="531.8" cy="582.5" r="3.6"/><circle cx="540.8" cy="582.5" r="3.6"/><circle cx="536.3" cy="571.0" r="3.6"/><circle cx="536.3" cy="584.0" r="3.6"/><circle cx="540.2" cy="589.8" r="6"/><circle cx="535.7" cy="584.8" r="3.6"/><circle cx="544.7" cy="584.8" r="3.6"/><circle cx="535.7" cy="594.8" r="3.6"/><circle cx="544.7" cy="594.8" r="3.6"/><circle cx="540.2" cy="583.3" r="3.6"/><circle cx="540.2" cy="596.3" r="3.6"/><circle cx="543.6" cy="584.2" r="6"/><circle cx="539.1" cy="579.2" r="3.6"/><circle cx="548.1" cy="579.2" r="3.6"/><circle cx="539.1" cy="589.2" r="3.6"/><circle cx="548.1" cy="589.2" r="3.6"/><circle cx="543.6" cy="577.7" r="3.6"/><circle cx="543.6" cy="590.7" r="3.6"/><circle cx="546.9" cy="582.8" r="6"/><circle cx="542.4" cy="577.8" r="3.6"/><circle cx="551.4" cy="577.8" r="3.6"/><circle cx="542.4" cy="587.8" r="3.6"/><circle cx="551.4" cy="587.8" r="3.6"/><circle cx="546.9" cy="576.3" r="3.6"/><circle cx="546.9" cy="589.3" r="3.6"/><circle cx="550.3" cy="588.2" r="6"/><circle cx="545.8" cy="583.2" r="3.6"/><circle cx="554.8" cy="583.2" r="3.6"/><circle cx="545.8" cy="593.2" r="3.6"/><circle cx="554.8" cy="593.2" r="3.6"/><circle cx="550.3" cy="581.7" r="3.6"/><circle cx="550.3" cy="594.7" r="3.6"/><circle cx="554.1" cy="581.8" r="6"/><circle cx="549.6" cy="576.8" r="3.6"/><circle cx="558.6" cy="576.8" r="3.6"/><circle cx="549.6" cy="586.8" r="3.6"/><circle cx="558.6" cy="586.8" r="3.6"/><circle cx="554.1" cy="575.3" r="3.6"/><circle cx="554.1" cy="588.3" r="3.6"/><circle cx="557.4" cy="588.7" r="6"/><circle cx="552.9" cy="583.7" r="3.6"/><circle cx="561.9" cy="583.7" r="3.6"/><circle cx="552.9" cy="593.7" r="3.6"/><circle cx="561.9" cy="593.7" r="3.6"/><circle cx="557.4" cy="582.2" r="3.6"/><circle cx="557.4" cy="595.2" r="3.6"/><circle cx="561.2" cy="586.6" r="6"/><circle cx="556.7" cy="581.6" r="3.6"/><circle cx="565.7" cy="581.6" r="3.6"/><circle cx="556.7" cy="591.6" r="3.6"/><circle cx="565.7" cy="591.6" r="3.6"/><circle cx="561.2" cy="580.1" r="3.6"/><circle cx="561.2" cy="593.1" r="3.6"/><circle cx="564.8" cy="591.6" r="6"/><circle cx="560.3" cy="586.6" r="3.6"/><circle cx="569.3" cy="586.6" r="3.6"/><circle cx="560.3" cy="596.6" r="3.6"/><circle cx="569.3" cy="596.6" r="3.6"/><circle cx="564.8" cy="585.1" r="3.6"/><circle cx="564.8" cy="598.1" r="3.6"/><circle cx="569.0" cy="579.0" r="6"/><circle cx="564.5" cy="574.0" r="3.6"/><circle cx="573.5" cy="574.0" r="3.6"/><circle cx="564.5" cy="584.0" r="3.6"/><circle cx="573.5" cy="584.0" r="3.6"/><circle cx="569.0" cy="572.5" r="3.6"/><circle cx="569.0" cy="585.5" r="3.6"/><circle cx="571.9" cy="582.6" r="6"/><circle cx="567.4" cy="577.6" r="3.6"/><circle cx="576.4" cy="577.6" r="3.6"/><circle cx="567.4" cy="587.6" r="3.6"/><circle cx="576.4" cy="587.6" r="3.6"/><circle cx="571.9" cy="576.1" r="3.6"/><circle cx="571.9" cy="589.1" r="3.6"/><circle cx="576.3" cy="587.2" r="6"/><circle cx="571.8" cy="582.2" r="3.6"/><circle cx="580.8" cy="582.2" r="3.6"/><circle cx="571.8" cy="592.2" r="3.6"/><circle cx="580.8" cy="592.2" r="3.6"/><circle cx="576.3" cy="580.7" r="3.6"/><circle cx="576.3" cy="593.7" r="3.6"/><circle cx="579.2" cy="577.7" r="6"/><circle cx="574.7" cy="572.7" r="3.6"/><circle cx="583.7" cy="572.7" r="3.6"/><circle cx="574.7" cy="582.7" r="3.6"/><circle cx="583.7" cy="582.7" r="3.6"/><circle cx="579.2" cy="571.2" r="3.6"/><circle cx="579.2" cy="584.2" r="3.6"/><circle cx="584.9" cy="584.6" r="6"/><circle cx="580.4" cy="579.6" r="3.6"/><circle cx="589.4" cy="579.6" r="3.6"/><circle cx="580.4" cy="589.6" r="3.6"/><circle cx="589.4" cy="589.6" r="3.6"/><circle cx="584.9" cy="578.1" r="3.6"/><circle cx="584.9" cy="591.1" r="3.6"/><circle cx="588.4" cy="579.5" r="6"/><circle cx="583.9" cy="574.5" r="3.6"/><circle cx="592.9" cy="574.5" r="3.6"/><circle cx="583.9" cy="584.5" r="3.6"/><circle cx="592.9" cy="584.5" r="3.6"/><circle cx="588.4" cy="573.0" r="3.6"/><circle cx="588.4" cy="586.0" r="3.6"/><circle cx="592.6" cy="570.9" r="6"/><circle cx="588.1" cy="565.9" r="3.6"/><circle cx="597.1" cy="565.9" r="3.6"/><circle cx="588.1" cy="575.9" r="3.6"/><circle cx="597.1" cy="575.9" r="3.6"/><circle cx="592.6" cy="564.4" r="3.6"/><circle cx="592.6" cy="577.4" r="3.6"/><circle cx="591.9" cy="570.4" r="6"/><circle cx="587.4" cy="565.4" r="3.6"/><circle cx="596.4" cy="565.4" r="3.6"/><circle cx="587.4" cy="575.4" r="3.6"/><circle cx="596.4" cy="575.4" r="3.6"/><circle cx="591.9" cy="563.9" r="3.6"/><circle cx="591.9" cy="576.9" r="3.6"/><circle cx="596.4" cy="575.9" r="6"/><circle cx="591.9" cy="570.9" r="3.6"/><circle cx="600.9" cy="570.9" r="3.6"/><circle cx="591.9" cy="580.9" r="3.6"/><circle cx="600.9" cy="580.9" r="3.6"/><circle cx="596.4" cy="569.4" r="3.6"/><circle cx="596.4" cy="582.4" r="3.6"/><circle cx="602.8" cy="565.6" r="6"/><circle cx="598.3" cy="560.6" r="3.6"/><circle cx="607.3" cy="560.6" r="3.6"/><circle cx="598.3" cy="570.6" r="3.6"/><circle cx="607.3" cy="570.6" r="3.6"/><circle cx="602.8" cy="559.1" r="3.6"/><circle cx="602.8" cy="572.1" r="3.6"/><circle cx="603.4" cy="572.1" r="6"/><circle cx="598.9" cy="567.1" r="3.6"/><circle cx="607.9" cy="567.1" r="3.6"/><circle cx="598.9" cy="577.1" r="3.6"/><circle cx="607.9" cy="577.1" r="3.6"/><circle cx="603.4" cy="565.6" r="3.6"/><circle cx="603.4" cy="578.6" r="3.6"/><circle cx="610.6" cy="561.5" r="6"/><circle cx="606.1" cy="556.5" r="3.6"/><circle cx="615.1" cy="556.5" r="3.6"/><circle cx="606.1" cy="566.5" r="3.6"/><circle cx="615.1" cy="566.5" r="3.6"/><circle cx="610.6" cy="555.0" r="3.6"/><circle cx="610.6" cy="568.0" r="3.6"/><circle cx="611.7" cy="557.2" r="6"/><circle cx="607.2" cy="552.2" r="3.6"/><circle cx="616.2" cy="552.2" r="3.6"/><circle cx="607.2" cy="562.2" r="3.6"/><circle cx="616.2" cy="562.2" r="3.6"/><circle cx="611.7" cy="550.7" r="3.6"/><circle cx="611.7" cy="563.7" r="3.6"/><circle cx="612.8" cy="558.9" r="6"/><circle cx="608.3" cy="553.9" r="3.6"/><circle cx="617.3" cy="553.9" r="3.6"/><circle cx="608.3" cy="563.9" r="3.6"/><circle cx="617.3" cy="563.9" r="3.6"/><circle cx="612.8" cy="552.4" r="3.6"/><circle cx="612.8" cy="565.4" r="3.6"/><circle cx="620.9" cy="545.9" r="6"/><circle cx="616.4" cy="540.9" r="3.6"/><circle cx="625.4" cy="540.9" r="3.6"/><circle cx="616.4" cy="550.9" r="3.6"/><circle cx="625.4" cy="550.9" r="3.6"/><circle cx="620.9" cy="539.4" r="3.6"/><circle cx="620.9" cy="552.4" r="3.6"/><circle cx="624.1" cy="540.9" r="6"/><circle cx="619.6" cy="535.9" r="3.6"/><circle cx="628.6" cy="535.9" r="3.6"/><circle cx="619.6" cy="545.9" r="3.6"/><circle cx="628.6" cy="545.9" r="3.6"/><circle cx="624.1" cy="534.4" r="3.6"/><circle cx="624.1" cy="547.4" r="3.6"/><circle cx="624.9" cy="538.5" r="6"/><circle cx="620.4" cy="533.5" r="3.6"/><circle cx="629.4" cy="533.5" r="3.6"/><circle cx="620.4" cy="543.5" r="3.6"/><circle cx="629.4" cy="543.5" r="3.6"/><circle cx="624.9" cy="532.0" r="3.6"/><circle cx="624.9" cy="545.0" r="3.6"/><circle cx="631.5" cy="527.8" r="6"/><circle cx="627.0" cy="522.8" r="3.6"/><circle cx="636.0" cy="522.8" r="3.6"/><circle cx="627.0" cy="532.8" r="3.6"/><circle cx="636.0" cy="532.8" r="3.6"/><circle cx="631.5" cy="521.3" r="3.6"/><circle cx="631.5" cy="534.3" r="3.6"/><circle cx="633.6" cy="522.1" r="6"/><circle cx="629.1" cy="517.1" r="3.6"/><circle cx="638.1" cy="517.1" r="3.6"/><circle cx="629.1" cy="527.1" r="3.6"/><circle cx="638.1" cy="527.1" r="3.6"/><circle cx="633.6" cy="515.6" r="3.6"/><circle cx="633.6" cy="528.6" r="3.6"/><circle cx="638.9" cy="508.4" r="6"/><circle cx="634.4" cy="503.4" r="3.6"/><circle cx="643.4" cy="503.4" r="3.6"/><circle cx="634.4" cy="513.4" r="3.6"/><circle cx="643.4" cy="513.4" r="3.6"/><circle cx="638.9" cy="501.9" r="3.6"/><circle cx="638.9" cy="514.9" r="3.6"/><circle cx="638.7" cy="509.3" r="6"/><circle cx="634.2" cy="504.3" r="3.6"/><circle cx="643.2" cy="504.3" r="3.6"/><circle cx="634.2" cy="514.3" r="3.6"/><circle cx="643.2" cy="514.3" r="3.6"/><circle cx="638.7" cy="502.8" r="3.6"/><circle cx="638.7" cy="515.8" r="3.6"/><circle cx="642.3" cy="500.4" r="6"/><circle cx="637.8" cy="495.4" r="3.6"/><circle cx="646.8" cy="495.4" r="3.6"/><circle cx="637.8" cy="505.4" r="3.6"/><circle cx="646.8" cy="505.4" r="3.6"/><circle cx="642.3" cy="493.9" r="3.6"/><circle cx="642.3" cy="506.9" r="3.6"/><circle cx="647.9" cy="483.3" r="6"/><circle cx="643.4" cy="478.3" r="3.6"/><circle cx="652.4" cy="478.3" r="3.6"/><circle cx="643.4" cy="488.3" r="3.6"/><circle cx="652.4" cy="488.3" r="3.6"/><circle cx="647.9" cy="476.8" r="3.6"/><circle cx="647.9" cy="489.8" r="3.6"/><circle cx="649.8" cy="479.8" r="6"/><circle cx="645.3" cy="474.8" r="3.6"/><circle cx="654.3" cy="474.8" r="3.6"/><circle cx="645.3" cy="484.8" r="3.6"/><circle cx="654.3" cy="484.8" r="3.6"/><circle cx="649.8" cy="473.3" r="3.6"/><circle cx="649.8" cy="486.3" r="3.6"/><circle cx="656.7" cy="454.3" r="6"/><circle cx="652.2" cy="449.3" r="3.6"/><circle cx="661.2" cy="449.3" r="3.6"/><circle cx="652.2" cy="459.3" r="3.6"/><circle cx="661.2" cy="459.3" r="3.6"/><circle cx="656.7" cy="447.8" r="3.6"/><circle cx="656.7" cy="460.8" r="3.6"/><circle cx="661.1" cy="436.9" r="6"/><circle cx="656.6" cy="431.9" r="3.6"/><circle cx="665.6" cy="431.9" r="3.6"/><circle cx="656.6" cy="441.9" r="3.6"/><circle cx="665.6" cy="441.9" r="3.6"/><circle cx="661.1" cy="430.4" r="3.6"/><circle cx="661.1" cy="443.4" r="3.6"/><circle cx="661.8" cy="433.3" r="6"/><circle cx="657.3" cy="428.3" r="3.6"/><circle cx="666.3" cy="428.3" r="3.6"/><circle cx="657.3" cy="438.3" r="3.6"/><circle cx="666.3" cy="438.3" r="3.6"/><circle cx="661.8" cy="426.8" r="3.6"/><circle cx="661.8" cy="439.8" r="3.6"/><circle cx="663.7" cy="425.6" r="6"/><circle cx="659.2" cy="420.6" r="3.6"/><circle cx="668.2" cy="420.6" r="3.6"/><circle cx="659.2" cy="430.6" r="3.6"/><circle cx="668.2" cy="430.6" r="3.6"/><circle cx="663.7" cy="419.1" r="3.6"/><circle cx="663.7" cy="432.1" r="3.6"/><circle cx="668.9" cy="406.1" r="6"/><circle cx="664.4" cy="401.1" r="3.6"/><circle cx="673.4" cy="401.1" r="3.6"/><circle cx="664.4" cy="411.1" r="3.6"/><circle cx="673.4" cy="411.1" r="3.6"/><circle cx="668.9" cy="399.6" r="3.6"/><circle cx="668.9" cy="412.6" r="3.6"/><circle cx="672.0" cy="390.2" r="6"/><circle cx="667.5" cy="385.2" r="3.6"/><circle cx="676.5" cy="385.2" r="3.6"/><circle cx="667.5" cy="395.2" r="3.6"/><circle cx="676.5" cy="395.2" r="3.6"/><circle cx="672.0" cy="383.7" r="3.6"/><circle cx="672.0" cy="396.7" r="3.6"/><circle cx="679.4" cy="361.0" r="6"/><circle cx="674.9" cy="356.0" r="3.6"/><circle cx="683.9" cy="356.0" r="3.6"/><circle cx="674.9" cy="366.0" r="3.6"/><circle cx="683.9" cy="366.0" r="3.6"/><circle cx="679.4" cy="354.5" r="3.6"/><circle cx="679.4" cy="367.5" r="3.6"/><circle cx="678.4" cy="364.0" r="6"/><circle cx="673.9" cy="359.0" r="3.6"/><circle cx="682.9" cy="359.0" r="3.6"/><circle cx="673.9" cy="369.0" r="3.6"/><circle cx="682.9" cy="369.0" r="3.6"/><circle cx="678.4" cy="357.5" r="3.6"/><circle cx="678.4" cy="370.5" r="3.6"/><circle cx="684.5" cy="336.9" r="6"/><circle cx="680.0" cy="331.9" r="3.6"/><circle cx="689.0" cy="331.9" r="3.6"/><circle cx="680.0" cy="341.9" r="3.6"/><circle cx="689.0" cy="341.9" r="3.6"/><circle cx="684.5" cy="330.4" r="3.6"/><circle cx="684.5" cy="343.4" r="3.6"/><circle cx="686.4" cy="328.0" r="6"/><circle cx="681.9" cy="323.0" r="3.6"/><circle cx="690.9" cy="323.0" r="3.6"/><circle cx="681.9" cy="333.0" r="3.6"/><circle cx="690.9" cy="333.0" r="3.6"/><circle cx="686.4" cy="321.5" r="3.6"/><circle cx="686.4" cy="334.5" r="3.6"/><circle cx="689.5" cy="312.2" r="6"/><circle cx="685.0" cy="307.2" r="3.6"/><circle cx="694.0" cy="307.2" r="3.6"/><circle cx="685.0" cy="317.2" r="3.6"/><circle cx="694.0" cy="317.2" r="3.6"/><circle cx="689.5" cy="305.7" r="3.6"/><circle cx="689.5" cy="318.7" r="3.6"/><circle cx="696.8" cy="283.0" r="6"/><circle cx="692.3" cy="278.0" r="3.6"/><circle cx="701.3" cy="278.0" r="3.6"/><circle cx="692.3" cy="288.0" r="3.6"/><circle cx="701.3" cy="288.0" r="3.6"/><circle cx="696.8" cy="276.5" r="3.6"/><circle cx="696.8" cy="289.5" r="3.6"/><circle cx="699.1" cy="275.9" r="6"/><circle cx="694.6" cy="270.9" r="3.6"/><circle cx="703.6" cy="270.9" r="3.6"/><circle cx="694.6" cy="280.9" r="3.6"/><circle cx="703.6" cy="280.9" r="3.6"/><circle cx="699.1" cy="269.4" r="3.6"/><circle cx="699.1" cy="282.4" r="3.6"/><circle cx="700.7" cy="267.0" r="6"/><circle cx="696.2" cy="262.0" r="3.6"/><circle cx="705.2" cy="262.0" r="3.6"/><circle cx="696.2" cy="272.0" r="3.6"/><circle cx="705.2" cy="272.0" r="3.6"/><circle cx="700.7" cy="260.5" r="3.6"/><circle cx="700.7" cy="273.5" r="3.6"/><circle cx="707.0" cy="246.4" r="6"/><circle cx="702.5" cy="241.4" r="3.6"/><circle cx="711.5" cy="241.4" r="3.6"/><circle cx="702.5" cy="251.4" r="3.6"/><circle cx="711.5" cy="251.4" r="3.6"/><circle cx="707.0" cy="239.9" r="3.6"/><circle cx="707.0" cy="252.9" r="3.6"/><circle cx="708.0" cy="241.5" r="6"/><circle cx="703.5" cy="236.5" r="3.6"/><circle cx="712.5" cy="236.5" r="3.6"/><circle cx="703.5" cy="246.5" r="3.6"/><circle cx="712.5" cy="246.5" r="3.6"/><circle cx="708.0" cy="235.0" r="3.6"/><circle cx="708.0" cy="248.0" r="3.6"/><circle cx="713.2" cy="223.5" r="6"/><circle cx="708.7" cy="218.5" r="3.6"/><circle cx="717.7" cy="218.5" r="3.6"/><circle cx="708.7" cy="228.5" r="3.6"/><circle cx="717.7" cy="228.5" r="3.6"/><circle cx="713.2" cy="217.0" r="3.6"/><circle cx="713.2" cy="230.0" r="3.6"/><circle cx="714.4" cy="218.9" r="6"/><circle cx="709.9" cy="213.9" r="3.6"/><circle cx="718.9" cy="213.9" r="3.6"/><circle cx="709.9" cy="223.9" r="3.6"/><circle cx="718.9" cy="223.9" r="3.6"/><circle cx="714.4" cy="212.4" r="3.6"/><circle cx="714.4" cy="225.4" r="3.6"/><circle cx="717.7" cy="209.5" r="6"/><circle cx="713.2" cy="204.5" r="3.6"/><circle cx="722.2" cy="204.5" r="3.6"/><circle cx="713.2" cy="214.5" r="3.6"/><circle cx="722.2" cy="214.5" r="3.6"/><circle cx="717.7" cy="203.0" r="3.6"/><circle cx="717.7" cy="216.0" r="3.6"/><circle cx="722.5" cy="199.9" r="6"/><circle cx="718.0" cy="194.9" r="3.6"/><circle cx="727.0" cy="194.9" r="3.6"/><circle cx="718.0" cy="204.9" r="3.6"/><circle cx="727.0" cy="204.9" r="3.6"/><circle cx="722.5" cy="193.4" r="3.6"/><circle cx="722.5" cy="206.4" r="3.6"/><circle cx="728.8" cy="183.0" r="6"/><circle cx="724.3" cy="178.0" r="3.6"/><circle cx="733.3" cy="178.0" r="3.6"/><circle cx="724.3" cy="188.0" r="3.6"/><circle cx="733.3" cy="188.0" r="3.6"/><circle cx="728.8" cy="176.5" r="3.6"/><circle cx="728.8" cy="189.5" r="3.6"/><circle cx="732.1" cy="176.3" r="6"/><circle cx="727.6" cy="171.3" r="3.6"/><circle cx="736.6" cy="171.3" r="3.6"/><circle cx="727.6" cy="181.3" r="3.6"/><circle cx="736.6" cy="181.3" r="3.6"/><circle cx="732.1" cy="169.8" r="3.6"/><circle cx="732.1" cy="182.8" r="3.6"/><circle cx="733.0" cy="177.3" r="6"/><circle cx="728.5" cy="172.3" r="3.6"/><circle cx="737.5" cy="172.3" r="3.6"/><circle cx="728.5" cy="182.3" r="3.6"/><circle cx="737.5" cy="182.3" r="3.6"/><circle cx="733.0" cy="170.8" r="3.6"/><circle cx="733.0" cy="183.8" r="3.6"/><circle cx="739.9" cy="164.1" r="6"/><circle cx="735.4" cy="159.1" r="3.6"/><circle cx="744.4" cy="159.1" r="3.6"/><circle cx="735.4" cy="169.1" r="3.6"/><circle cx="744.4" cy="169.1" r="3.6"/><circle cx="739.9" cy="157.6" r="3.6"/><circle cx="739.9" cy="170.6" r="3.6"/><circle cx="741.1" cy="164.8" r="6"/><circle cx="736.6" cy="159.8" r="3.6"/><circle cx="745.6" cy="159.8" r="3.6"/><circle cx="736.6" cy="169.8" r="3.6"/><circle cx="745.6" cy="169.8" r="3.6"/><circle cx="741.1" cy="158.3" r="3.6"/><circle cx="741.1" cy="171.3" r="3.6"/><circle cx="746.8" cy="154.2" r="6"/><circle cx="742.3" cy="149.2" r="3.6"/><circle cx="751.3" cy="149.2" r="3.6"/><circle cx="742.3" cy="159.2" r="3.6"/><circle cx="751.3" cy="159.2" r="3.6"/><circle cx="746.8" cy="147.7" r="3.6"/><circle cx="746.8" cy="160.7" r="3.6"/><circle cx="746.7" cy="155.0" r="6"/><circle cx="742.2" cy="150.0" r="3.6"/><circle cx="751.2" cy="150.0" r="3.6"/><circle cx="742.2" cy="160.0" r="3.6"/><circle cx="751.2" cy="160.0" r="3.6"/><circle cx="746.7" cy="148.5" r="3.6"/><circle cx="746.7" cy="161.5" r="3.6"/><circle cx="754.1" cy="153.6" r="6"/><circle cx="749.6" cy="148.6" r="3.6"/><circle cx="758.6" cy="148.6" r="3.6"/><circle cx="749.6" cy="158.6" r="3.6"/><circle cx="758.6" cy="158.6" r="3.6"/><circle cx="754.1" cy="147.1" r="3.6"/><circle cx="754.1" cy="160.1" r="3.6"/><circle cx="757.4" cy="147.7" r="6"/><circle cx="752.9" cy="142.7" r="3.6"/><circle cx="761.9" cy="142.7" r="3.6"/><circle cx="752.9" cy="152.7" r="3.6"/><circle cx="761.9" cy="152.7" r="3.6"/><circle cx="757.4" cy="141.2" r="3.6"/><circle cx="757.4" cy="154.2" r="3.6"/><circle cx="758.7" cy="139.1" r="6"/><circle cx="754.2" cy="134.1" r="3.6"/><circle cx="763.2" cy="134.1" r="3.6"/><circle cx="754.2" cy="144.1" r="3.6"/><circle cx="763.2" cy="144.1" r="3.6"/><circle cx="758.7" cy="132.6" r="3.6"/><circle cx="758.7" cy="145.6" r="3.6"/><circle cx="763.2" cy="143.0" r="6"/><circle cx="758.7" cy="138.0" r="3.6"/><circle cx="767.7" cy="138.0" r="3.6"/><circle cx="758.7" cy="148.0" r="3.6"/><circle cx="767.7" cy="148.0" r="3.6"/><circle cx="763.2" cy="136.5" r="3.6"/><circle cx="763.2" cy="149.5" r="3.6"/><circle cx="766.4" cy="132.0" r="6"/><circle cx="761.9" cy="127.0" r="3.6"/><circle cx="770.9" cy="127.0" r="3.6"/><circle cx="761.9" cy="137.0" r="3.6"/><circle cx="770.9" cy="137.0" r="3.6"/><circle cx="766.4" cy="125.5" r="3.6"/><circle cx="766.4" cy="138.5" r="3.6"/><circle cx="770.7" cy="138.2" r="6"/><circle cx="766.2" cy="133.2" r="3.6"/><circle cx="775.2" cy="133.2" r="3.6"/><circle cx="766.2" cy="143.2" r="3.6"/><circle cx="775.2" cy="143.2" r="3.6"/><circle cx="770.7" cy="131.7" r="3.6"/><circle cx="770.7" cy="144.7" r="3.6"/><circle cx="773.8" cy="131.4" r="6"/><circle cx="769.3" cy="126.4" r="3.6"/><circle cx="778.3" cy="126.4" r="3.6"/><circle cx="769.3" cy="136.4" r="3.6"/><circle cx="778.3" cy="136.4" r="3.6"/><circle cx="773.8" cy="124.9" r="3.6"/><circle cx="773.8" cy="137.9" r="3.6"/><circle cx="777.8" cy="126.8" r="6"/><circle cx="773.3" cy="121.8" r="3.6"/><circle cx="782.3" cy="121.8" r="3.6"/><circle cx="773.3" cy="131.8" r="3.6"/><circle cx="782.3" cy="131.8" r="3.6"/><circle cx="777.8" cy="120.3" r="3.6"/><circle cx="777.8" cy="133.3" r="3.6"/><circle cx="780.9" cy="122.6" r="6"/><circle cx="776.4" cy="117.6" r="3.6"/><circle cx="785.4" cy="117.6" r="3.6"/><circle cx="776.4" cy="127.6" r="3.6"/><circle cx="785.4" cy="127.6" r="3.6"/><circle cx="780.9" cy="116.1" r="3.6"/><circle cx="780.9" cy="129.1" r="3.6"/><circle cx="784.4" cy="115.5" r="6"/><circle cx="779.9" cy="110.5" r="3.6"/><circle cx="788.9" cy="110.5" r="3.6"/><circle cx="779.9" cy="120.5" r="3.6"/><circle cx="788.9" cy="120.5" r="3.6"/><circle cx="784.4" cy="109.0" r="3.6"/><circle cx="784.4" cy="122.0" r="3.6"/><circle cx="788.3" cy="118.0" r="6"/><circle cx="783.8" cy="113.0" r="3.6"/><circle cx="792.8" cy="113.0" r="3.6"/><circle cx="783.8" cy="123.0" r="3.6"/><circle cx="792.8" cy="123.0" r="3.6"/><circle cx="788.3" cy="111.5" r="3.6"/><circle cx="788.3" cy="124.5" r="3.6"/><circle cx="791.9" cy="111.4" r="6"/><circle cx="787.4" cy="106.4" r="3.6"/><circle cx="796.4" cy="106.4" r="3.6"/><circle cx="787.4" cy="116.4" r="3.6"/><circle cx="796.4" cy="116.4" r="3.6"/><circle cx="791.9" cy="104.9" r="3.6"/><circle cx="791.9" cy="117.9" r="3.6"/><circle cx="795.3" cy="111.7" r="6"/><circle cx="790.8" cy="106.7" r="3.6"/><circle cx="799.8" cy="106.7" r="3.6"/><circle cx="790.8" cy="116.7" r="3.6"/><circle cx="799.8" cy="116.7" r="3.6"/><circle cx="795.3" cy="105.2" r="3.6"/><circle cx="795.3" cy="118.2" r="3.6"/><circle cx="798.6" cy="112.6" r="6"/><circle cx="794.1" cy="107.6" r="3.6"/><circle cx="803.1" cy="107.6" r="3.6"/><circle cx="794.1" cy="117.6" r="3.6"/><circle cx="803.1" cy="117.6" r="3.6"/><circle cx="798.6" cy="106.1" r="3.6"/><circle cx="798.6" cy="119.1" r="3.6"/><circle cx="802.9" cy="115.0" r="6"/><circle cx="798.4" cy="110.0" r="3.6"/><circle cx="807.4" cy="110.0" r="3.6"/><circle cx="798.4" cy="120.0" r="3.6"/><circle cx="807.4" cy="120.0" r="3.6"/><circle cx="802.9" cy="108.5" r="3.6"/><circle cx="802.9" cy="121.5" r="3.6"/><circle cx="806.1" cy="118.7" r="6"/><circle cx="801.6" cy="113.7" r="3.6"/><circle cx="810.6" cy="113.7" r="3.6"/><circle cx="801.6" cy="123.7" r="3.6"/><circle cx="810.6" cy="123.7" r="3.6"/><circle cx="806.1" cy="112.2" r="3.6"/><circle cx="806.1" cy="125.2" r="3.6"/><circle cx="809.5" cy="111.2" r="6"/><circle cx="805.0" cy="106.2" r="3.6"/><circle cx="814.0" cy="106.2" r="3.6"/><circle cx="805.0" cy="116.2" r="3.6"/><circle cx="814.0" cy="116.2" r="3.6"/><circle cx="809.5" cy="104.7" r="3.6"/><circle cx="809.5" cy="117.7" r="3.6"/><circle cx="813.4" cy="119.2" r="6"/><circle cx="808.9" cy="114.2" r="3.6"/><circle cx="817.9" cy="114.2" r="3.6"/><circle cx="808.9" cy="124.2" r="3.6"/><circle cx="817.9" cy="124.2" r="3.6"/><circle cx="813.4" cy="112.7" r="3.6"/><circle cx="813.4" cy="125.7" r="3.6"/><circle cx="817.1" cy="119.4" r="6"/><circle cx="812.6" cy="114.4" r="3.6"/><circle cx="821.6" cy="114.4" r="3.6"/><circle cx="812.6" cy="124.4" r="3.6"/><circle cx="821.6" cy="124.4" r="3.6"/><circle cx="817.1" cy="112.9" r="3.6"/><circle cx="817.1" cy="125.9" r="3.6"/><circle cx="820.8" cy="124.6" r="6"/><circle cx="816.3" cy="119.6" r="3.6"/><circle cx="825.3" cy="119.6" r="3.6"/><circle cx="816.3" cy="129.6" r="3.6"/><circle cx="825.3" cy="129.6" r="3.6"/><circle cx="820.8" cy="118.1" r="3.6"/><circle cx="820.8" cy="131.1" r="3.6"/><circle cx="823.9" cy="122.3" r="6"/><circle cx="819.4" cy="117.3" r="3.6"/><circle cx="828.4" cy="117.3" r="3.6"/><circle cx="819.4" cy="127.3" r="3.6"/><circle cx="828.4" cy="127.3" r="3.6"/><circle cx="823.9" cy="115.8" r="3.6"/><circle cx="823.9" cy="128.8" r="3.6"/><circle cx="827.8" cy="119.0" r="6"/><circle cx="823.3" cy="114.0" r="3.6"/><circle cx="832.3" cy="114.0" r="3.6"/><circle cx="823.3" cy="124.0" r="3.6"/><circle cx="832.3" cy="124.0" r="3.6"/><circle cx="827.8" cy="112.5" r="3.6"/><circle cx="827.8" cy="125.5" r="3.6"/><circle cx="831.3" cy="123.9" r="6"/><circle cx="826.8" cy="118.9" r="3.6"/><circle cx="835.8" cy="118.9" r="3.6"/><circle cx="826.8" cy="128.9" r="3.6"/><circle cx="835.8" cy="128.9" r="3.6"/><circle cx="831.3" cy="117.4" r="3.6"/><circle cx="831.3" cy="130.4" r="3.6"/><circle cx="835.4" cy="129.2" r="6"/><circle cx="830.9" cy="124.2" r="3.6"/><circle cx="839.9" cy="124.2" r="3.6"/><circle cx="830.9" cy="134.2" r="3.6"/><circle cx="839.9" cy="134.2" r="3.6"/><circle cx="835.4" cy="122.7" r="3.6"/><circle cx="835.4" cy="135.7" r="3.6"/><circle cx="838.4" cy="125.6" r="6"/><circle cx="833.9" cy="120.6" r="3.6"/><circle cx="842.9" cy="120.6" r="3.6"/><circle cx="833.9" cy="130.6" r="3.6"/><circle cx="842.9" cy="130.6" r="3.6"/><circle cx="838.4" cy="119.1" r="3.6"/><circle cx="838.4" cy="132.1" r="3.6"/><circle cx="841.7" cy="117.9" r="6"/><circle cx="837.2" cy="112.9" r="3.6"/><circle cx="846.2" cy="112.9" r="3.6"/><circle cx="837.2" cy="122.9" r="3.6"/><circle cx="846.2" cy="122.9" r="3.6"/><circle cx="841.7" cy="111.4" r="3.6"/><circle cx="841.7" cy="124.4" r="3.6"/><circle cx="845.8" cy="129.5" r="6"/><circle cx="841.3" cy="124.5" r="3.6"/><circle cx="850.3" cy="124.5" r="3.6"/><circle cx="841.3" cy="134.5" r="3.6"/><circle cx="850.3" cy="134.5" r="3.6"/><circle cx="845.8" cy="123.0" r="3.6"/><circle cx="845.8" cy="136.0" r="3.6"/><circle cx="849.1" cy="128.2" r="6"/><circle cx="844.6" cy="123.2" r="3.6"/><circle cx="853.6" cy="123.2" r="3.6"/><circle cx="844.6" cy="133.2" r="3.6"/><circle cx="853.6" cy="133.2" r="3.6"/><circle cx="849.1" cy="121.7" r="3.6"/><circle cx="849.1" cy="134.7" r="3.6"/><circle cx="853.4" cy="121.5" r="6"/><circle cx="848.9" cy="116.5" r="3.6"/><circle cx="857.9" cy="116.5" r="3.6"/><circle cx="848.9" cy="126.5" r="3.6"/><circle cx="857.9" cy="126.5" r="3.6"/><circle cx="853.4" cy="115.0" r="3.6"/><circle cx="853.4" cy="128.0" r="3.6"/><circle cx="856.8" cy="128.6" r="6"/><circle cx="852.3" cy="123.6" r="3.6"/><circle cx="861.3" cy="123.6" r="3.6"/><circle cx="852.3" cy="133.6" r="3.6"/><circle cx="861.3" cy="133.6" r="3.6"/><circle cx="856.8" cy="122.1" r="3.6"/><circle cx="856.8" cy="135.1" r="3.6"/><circle cx="860.1" cy="126.1" r="6"/><circle cx="855.6" cy="121.1" r="3.6"/><circle cx="864.6" cy="121.1" r="3.6"/><circle cx="855.6" cy="131.1" r="3.6"/><circle cx="864.6" cy="131.1" r="3.6"/><circle cx="860.1" cy="119.6" r="3.6"/><circle cx="860.1" cy="132.6" r="3.6"/><circle cx="864.0" cy="124.2" r="6"/><circle cx="859.5" cy="119.2" r="3.6"/><circle cx="868.5" cy="119.2" r="3.6"/><circle cx="859.5" cy="129.2" r="3.6"/><circle cx="868.5" cy="129.2" r="3.6"/><circle cx="864.0" cy="117.7" r="3.6"/><circle cx="864.0" cy="130.7" r="3.6"/><circle cx="867.8" cy="128.0" r="6"/><circle cx="863.3" cy="123.0" r="3.6"/><circle cx="872.3" cy="123.0" r="3.6"/><circle cx="863.3" cy="133.0" r="3.6"/><circle cx="872.3" cy="133.0" r="3.6"/><circle cx="867.8" cy="121.5" r="3.6"/><circle cx="867.8" cy="134.5" r="3.6"/><circle cx="871.5" cy="123.0" r="6"/><circle cx="867.0" cy="118.0" r="3.6"/><circle cx="876.0" cy="118.0" r="3.6"/><circle cx="867.0" cy="128.0" r="3.6"/><circle cx="876.0" cy="128.0" r="3.6"/><circle cx="871.5" cy="116.5" r="3.6"/><circle cx="871.5" cy="129.5" r="3.6"/><circle cx="874.3" cy="118.2" r="6"/><circle cx="869.8" cy="113.2" r="3.6"/><circle cx="878.8" cy="113.2" r="3.6"/><circle cx="869.8" cy="123.2" r="3.6"/><circle cx="878.8" cy="123.2" r="3.6"/><circle cx="874.3" cy="111.7" r="3.6"/><circle cx="874.3" cy="124.7" r="3.6"/><circle cx="877.9" cy="122.5" r="6"/><circle cx="873.4" cy="117.5" r="3.6"/><circle cx="882.4" cy="117.5" r="3.6"/><circle cx="873.4" cy="127.5" r="3.6"/><circle cx="882.4" cy="127.5" r="3.6"/><circle cx="877.9" cy="116.0" r="3.6"/><circle cx="877.9" cy="129.0" r="3.6"/><circle cx="882.1" cy="115.1" r="6"/><circle cx="877.6" cy="110.1" r="3.6"/><circle cx="886.6" cy="110.1" r="3.6"/><circle cx="877.6" cy="120.1" r="3.6"/><circle cx="886.6" cy="120.1" r="3.6"/><circle cx="882.1" cy="108.6" r="3.6"/><circle cx="882.1" cy="121.6" r="3.6"/><circle cx="885.6" cy="124.4" r="6"/><circle cx="881.1" cy="119.4" r="3.6"/><circle cx="890.1" cy="119.4" r="3.6"/><circle cx="881.1" cy="129.4" r="3.6"/><circle cx="890.1" cy="129.4" r="3.6"/><circle cx="885.6" cy="117.9" r="3.6"/><circle cx="885.6" cy="130.9" r="3.6"/><circle cx="888.8" cy="121.5" r="6"/><circle cx="884.3" cy="116.5" r="3.6"/><circle cx="893.3" cy="116.5" r="3.6"/><circle cx="884.3" cy="126.5" r="3.6"/><circle cx="893.3" cy="126.5" r="3.6"/><circle cx="888.8" cy="115.0" r="3.6"/><circle cx="888.8" cy="128.0" r="3.6"/><circle cx="892.3" cy="124.4" r="6"/><circle cx="887.8" cy="119.4" r="3.6"/><circle cx="896.8" cy="119.4" r="3.6"/><circle cx="887.8" cy="129.4" r="3.6"/><circle cx="896.8" cy="129.4" r="3.6"/><circle cx="892.3" cy="117.9" r="3.6"/><circle cx="892.3" cy="130.9" r="3.6"/><circle cx="895.7" cy="127.8" r="6"/><circle cx="891.2" cy="122.8" r="3.6"/><circle cx="900.2" cy="122.8" r="3.6"/><circle cx="891.2" cy="132.8" r="3.6"/><circle cx="900.2" cy="132.8" r="3.6"/><circle cx="895.7" cy="121.3" r="3.6"/><circle cx="895.7" cy="134.3" r="3.6"/><circle cx="900.1" cy="122.8" r="6"/><circle cx="895.6" cy="117.8" r="3.6"/><circle cx="904.6" cy="117.8" r="3.6"/><circle cx="895.6" cy="127.8" r="3.6"/><circle cx="904.6" cy="127.8" r="3.6"/><circle cx="900.1" cy="116.3" r="3.6"/><circle cx="900.1" cy="129.3" r="3.6"/><circle cx="903.2" cy="126.7" r="6"/><circle cx="898.7" cy="121.7" r="3.6"/><circle cx="907.7" cy="121.7" r="3.6"/><circle cx="898.7" cy="131.7" r="3.6"/><circle cx="907.7" cy="131.7" r="3.6"/><circle cx="903.2" cy="120.2" r="3.6"/><circle cx="903.2" cy="133.2" r="3.6"/><circle cx="907.5" cy="115.7" r="6"/><circle cx="903.0" cy="110.7" r="3.6"/><circle cx="912.0" cy="110.7" r="3.6"/><circle cx="903.0" cy="120.7" r="3.6"/><circle cx="912.0" cy="120.7" r="3.6"/><circle cx="907.5" cy="109.2" r="3.6"/><circle cx="907.5" cy="122.2" r="3.6"/><circle cx="910.9" cy="125.4" r="6"/><circle cx="906.4" cy="120.4" r="3.6"/><circle cx="915.4" cy="120.4" r="3.6"/><circle cx="906.4" cy="130.4" r="3.6"/><circle cx="915.4" cy="130.4" r="3.6"/><circle cx="910.9" cy="118.9" r="3.6"/><circle cx="910.9" cy="131.9" r="3.6"/><circle cx="914.4" cy="123.2" r="6"/><circle cx="909.9" cy="118.2" r="3.6"/><circle cx="918.9" cy="118.2" r="3.6"/><circle cx="909.9" cy="128.2" r="3.6"/><circle cx="918.9" cy="128.2" r="3.6"/><circle cx="914.4" cy="116.7" r="3.6"/><circle cx="914.4" cy="129.7" r="3.6"/><circle cx="917.7" cy="126.2" r="6"/><circle cx="913.2" cy="121.2" r="3.6"/><circle cx="922.2" cy="121.2" r="3.6"/><circle cx="913.2" cy="131.2" r="3.6"/><circle cx="922.2" cy="131.2" r="3.6"/><circle cx="917.7" cy="119.7" r="3.6"/><circle cx="917.7" cy="132.7" r="3.6"/><circle cx="921.9" cy="118.5" r="6"/><circle cx="917.4" cy="113.5" r="3.6"/><circle cx="926.4" cy="113.5" r="3.6"/><circle cx="917.4" cy="123.5" r="3.6"/><circle cx="926.4" cy="123.5" r="3.6"/><circle cx="921.9" cy="112.0" r="3.6"/><circle cx="921.9" cy="125.0" r="3.6"/><circle cx="925.3" cy="118.9" r="6"/><circle cx="920.8" cy="113.9" r="3.6"/><circle cx="929.8" cy="113.9" r="3.6"/><circle cx="920.8" cy="123.9" r="3.6"/><circle cx="929.8" cy="123.9" r="3.6"/><circle cx="925.3" cy="112.4" r="3.6"/><circle cx="925.3" cy="125.4" r="3.6"/><circle cx="928.3" cy="115.6" r="6"/><circle cx="923.8" cy="110.6" r="3.6"/><circle cx="932.8" cy="110.6" r="3.6"/><circle cx="923.8" cy="120.6" r="3.6"/><circle cx="932.8" cy="120.6" r="3.6"/><circle cx="928.3" cy="109.1" r="3.6"/><circle cx="928.3" cy="122.1" r="3.6"/><circle cx="931.8" cy="121.6" r="6"/><circle cx="927.3" cy="116.6" r="3.6"/><circle cx="936.3" cy="116.6" r="3.6"/><circle cx="927.3" cy="126.6" r="3.6"/><circle cx="936.3" cy="126.6" r="3.6"/><circle cx="931.8" cy="115.1" r="3.6"/><circle cx="931.8" cy="128.1" r="3.6"/><circle cx="936.3" cy="109.0" r="6"/><circle cx="931.8" cy="104.0" r="3.6"/><circle cx="940.8" cy="104.0" r="3.6"/><circle cx="931.8" cy="114.0" r="3.6"/><circle cx="940.8" cy="114.0" r="3.6"/><circle cx="936.3" cy="102.5" r="3.6"/><circle cx="936.3" cy="115.5" r="3.6"/><circle cx="939.5" cy="114.1" r="6"/><circle cx="935.0" cy="109.1" r="3.6"/><circle cx="944.0" cy="109.1" r="3.6"/><circle cx="935.0" cy="119.1" r="3.6"/><circle cx="944.0" cy="119.1" r="3.6"/><circle cx="939.5" cy="107.6" r="3.6"/><circle cx="939.5" cy="120.6" r="3.6"/><circle cx="942.6" cy="113.6" r="6"/><circle cx="938.1" cy="108.6" r="3.6"/><circle cx="947.1" cy="108.6" r="3.6"/><circle cx="938.1" cy="118.6" r="3.6"/><circle cx="947.1" cy="118.6" r="3.6"/><circle cx="942.6" cy="107.1" r="3.6"/><circle cx="942.6" cy="120.1" r="3.6"/><circle cx="946.3" cy="121.2" r="6"/><circle cx="941.8" cy="116.2" r="3.6"/><circle cx="950.8" cy="116.2" r="3.6"/><circle cx="941.8" cy="126.2" r="3.6"/><circle cx="950.8" cy="126.2" r="3.6"/><circle cx="946.3" cy="114.7" r="3.6"/><circle cx="946.3" cy="127.7" r="3.6"/><circle cx="949.7" cy="114.4" r="6"/><circle cx="945.2" cy="109.4" r="3.6"/><circle cx="954.2" cy="109.4" r="3.6"/><circle cx="945.2" cy="119.4" r="3.6"/><circle cx="954.2" cy="119.4" r="3.6"/><circle cx="949.7" cy="107.9" r="3.6"/><circle cx="949.7" cy="120.9" r="3.6"/><circle cx="953.7" cy="113.4" r="6"/><circle cx="949.2" cy="108.4" r="3.6"/><circle cx="958.2" cy="108.4" r="3.6"/><circle cx="949.2" cy="118.4" r="3.6"/><circle cx="958.2" cy="118.4" r="3.6"/><circle cx="953.7" cy="106.9" r="3.6"/><circle cx="953.7" cy="119.9" r="3.6"/><circle cx="957.5" cy="122.9" r="6"/><circle cx="953.0" cy="117.9" r="3.6"/><circle cx="962.0" cy="117.9" r="3.6"/><circle cx="953.0" cy="127.9" r="3.6"/><circle cx="962.0" cy="127.9" r="3.6"/><circle cx="957.5" cy="116.4" r="3.6"/><circle cx="957.5" cy="129.4" r="3.6"/><circle cx="961.3" cy="118.0" r="6"/><circle cx="956.8" cy="113.0" r="3.6"/><circle cx="965.8" cy="113.0" r="3.6"/><circle cx="956.8" cy="123.0" r="3.6"/><circle cx="965.8" cy="123.0" r="3.6"/><circle cx="961.3" cy="111.5" r="3.6"/><circle cx="961.3" cy="124.5" r="3.6"/><circle cx="964.4" cy="122.5" r="6"/><circle cx="959.9" cy="117.5" r="3.6"/><circle cx="968.9" cy="117.5" r="3.6"/><circle cx="959.9" cy="127.5" r="3.6"/><circle cx="968.9" cy="127.5" r="3.6"/><circle cx="964.4" cy="116.0" r="3.6"/><circle cx="964.4" cy="129.0" r="3.6"/><circle cx="968.0" cy="122.8" r="6"/><circle cx="963.5" cy="117.8" r="3.6"/><circle cx="972.5" cy="117.8" r="3.6"/><circle cx="963.5" cy="127.8" r="3.6"/><circle cx="972.5" cy="127.8" r="3.6"/><circle cx="968.0" cy="116.3" r="3.6"/><circle cx="968.0" cy="129.3" r="3.6"/><circle cx="971.6" cy="123.9" r="6"/><circle cx="967.1" cy="118.9" r="3.6"/><circle cx="976.1" cy="118.9" r="3.6"/><circle cx="967.1" cy="128.9" r="3.6"/><circle cx="976.1" cy="128.9" r="3.6"/><circle cx="971.6" cy="117.4" r="3.6"/><circle cx="971.6" cy="130.4" r="3.6"/><circle cx="975.7" cy="125.4" r="6"/><circle cx="971.2" cy="120.4" r="3.6"/><circle cx="980.2" cy="120.4" r="3.6"/><circle cx="971.2" cy="130.4" r="3.6"/><circle cx="980.2" cy="130.4" r="3.6"/><circle cx="975.7" cy="118.9" r="3.6"/><circle cx="975.7" cy="131.9" r="3.6"/><circle cx="979.5" cy="121.4" r="6"/><circle cx="975.0" cy="116.4" r="3.6"/><circle cx="984.0" cy="116.4" r="3.6"/><circle cx="975.0" cy="126.4" r="3.6"/><circle cx="984.0" cy="126.4" r="3.6"/><circle cx="979.5" cy="114.9" r="3.6"/><circle cx="979.5" cy="127.9" r="3.6"/><circle cx="982.6" cy="125.5" r="6"/><circle cx="978.1" cy="120.5" r="3.6"/><circle cx="987.1" cy="120.5" r="3.6"/><circle cx="978.1" cy="130.5" r="3.6"/><circle cx="987.1" cy="130.5" r="3.6"/><circle cx="982.6" cy="119.0" r="3.6"/><circle cx="982.6" cy="132.0" r="3.6"/><circle cx="986.5" cy="121.2" r="6"/><circle cx="982.0" cy="116.2" r="3.6"/><circle cx="991.0" cy="116.2" r="3.6"/><circle cx="982.0" cy="126.2" r="3.6"/><circle cx="991.0" cy="126.2" r="3.6"/><circle cx="986.5" cy="114.7" r="3.6"/><circle cx="986.5" cy="127.7" r="3.6"/><circle cx="989.7" cy="117.0" r="6"/><circle cx="985.2" cy="112.0" r="3.6"/><circle cx="994.2" cy="112.0" r="3.6"/><circle cx="985.2" cy="122.0" r="3.6"/><circle cx="994.2" cy="122.0" r="3.6"/><circle cx="989.7" cy="110.5" r="3.6"/><circle cx="989.7" cy="123.5" r="3.6"/><circle cx="993.0" cy="125.6" r="6"/><circle cx="988.5" cy="120.6" r="3.6"/><circle cx="997.5" cy="120.6" r="3.6"/><circle cx="988.5" cy="130.6" r="3.6"/><circle cx="997.5" cy="130.6" r="3.6"/><circle cx="993.0" cy="119.1" r="3.6"/><circle cx="993.0" cy="132.1" r="3.6"/><circle cx="996.6" cy="126.4" r="6"/><circle cx="992.1" cy="121.4" r="3.6"/><circle cx="1001.1" cy="121.4" r="3.6"/><circle cx="992.1" cy="131.4" r="3.6"/><circle cx="1001.1" cy="131.4" r="3.6"/><circle cx="996.6" cy="119.9" r="3.6"/><circle cx="996.6" cy="132.9" r="3.6"/><circle cx="1000.6" cy="131.2" r="6"/><circle cx="996.1" cy="126.2" r="3.6"/><circle cx="1005.1" cy="126.2" r="3.6"/><circle cx="996.1" cy="136.2" r="3.6"/><circle cx="1005.1" cy="136.2" r="3.6"/><circle cx="1000.6" cy="124.7" r="3.6"/><circle cx="1000.6" cy="137.7" r="3.6"/><circle cx="1004.5" cy="133.0" r="6"/><circle cx="1000.0" cy="128.0" r="3.6"/><circle cx="1009.0" cy="128.0" r="3.6"/><circle cx="1000.0" cy="138.0" r="3.6"/><circle cx="1009.0" cy="138.0" r="3.6"/><circle cx="1004.5" cy="126.5" r="3.6"/><circle cx="1004.5" cy="139.5" r="3.6"/><circle cx="1007.4" cy="127.7" r="6"/><circle cx="1002.9" cy="122.7" r="3.6"/><circle cx="1011.9" cy="122.7" r="3.6"/><circle cx="1002.9" cy="132.7" r="3.6"/><circle cx="1011.9" cy="132.7" r="3.6"/><circle cx="1007.4" cy="121.2" r="3.6"/><circle cx="1007.4" cy="134.2" r="3.6"/><circle cx="1011.5" cy="126.9" r="6"/><circle cx="1007.0" cy="121.9" r="3.6"/><circle cx="1016.0" cy="121.9" r="3.6"/><circle cx="1007.0" cy="131.9" r="3.6"/><circle cx="1016.0" cy="131.9" r="3.6"/><circle cx="1011.5" cy="120.4" r="3.6"/><circle cx="1011.5" cy="133.4" r="3.6"/><circle cx="1015.0" cy="129.1" r="6"/><circle cx="1010.5" cy="124.1" r="3.6"/><circle cx="1019.5" cy="124.1" r="3.6"/><circle cx="1010.5" cy="134.1" r="3.6"/><circle cx="1019.5" cy="134.1" r="3.6"/><circle cx="1015.0" cy="122.6" r="3.6"/><circle cx="1015.0" cy="135.6" r="3.6"/><circle cx="1018.6" cy="125.7" r="6"/><circle cx="1014.1" cy="120.7" r="3.6"/><circle cx="1023.1" cy="120.7" r="3.6"/><circle cx="1014.1" cy="130.7" r="3.6"/><circle cx="1023.1" cy="130.7" r="3.6"/><circle cx="1018.6" cy="119.2" r="3.6"/><circle cx="1018.6" cy="132.2" r="3.6"/><circle cx="1022.1" cy="132.4" r="6"/><circle cx="1017.6" cy="127.4" r="3.6"/><circle cx="1026.6" cy="127.4" r="3.6"/><circle cx="1017.6" cy="137.4" r="3.6"/><circle cx="1026.6" cy="137.4" r="3.6"/><circle cx="1022.1" cy="125.9" r="3.6"/><circle cx="1022.1" cy="138.9" r="3.6"/><circle cx="1025.6" cy="131.3" r="6"/><circle cx="1021.1" cy="126.3" r="3.6"/><circle cx="1030.1" cy="126.3" r="3.6"/><circle cx="1021.1" cy="136.3" r="3.6"/><circle cx="1030.1" cy="136.3" r="3.6"/><circle cx="1025.6" cy="124.8" r="3.6"/><circle cx="1025.6" cy="137.8" r="3.6"/><circle cx="1029.7" cy="134.8" r="6"/><circle cx="1025.2" cy="129.8" r="3.6"/><circle cx="1034.2" cy="129.8" r="3.6"/><circle cx="1025.2" cy="139.8" r="3.6"/><circle cx="1034.2" cy="139.8" r="3.6"/><circle cx="1029.7" cy="128.3" r="3.6"/><circle cx="1029.7" cy="141.3" r="3.6"/><circle cx="1033.0" cy="133.9" r="6"/><circle cx="1028.5" cy="128.9" r="3.6"/><circle cx="1037.5" cy="128.9" r="3.6"/><circle cx="1028.5" cy="138.9" r="3.6"/><circle cx="1037.5" cy="138.9" r="3.6"/><circle cx="1033.0" cy="127.4" r="3.6"/><circle cx="1033.0" cy="140.4" r="3.6"/><circle cx="1036.5" cy="127.3" r="6"/><circle cx="1032.0" cy="122.3" r="3.6"/><circle cx="1041.0" cy="122.3" r="3.6"/><circle cx="1032.0" cy="132.3" r="3.6"/><circle cx="1041.0" cy="132.3" r="3.6"/><circle cx="1036.5" cy="120.8" r="3.6"/><circle cx="1036.5" cy="133.8" r="3.6"/><circle cx="1039.7" cy="128.0" r="6"/><circle cx="1035.2" cy="123.0" r="3.6"/><circle cx="1044.2" cy="123.0" r="3.6"/><circle cx="1035.2" cy="133.0" r="3.6"/><circle cx="1044.2" cy="133.0" r="3.6"/><circle cx="1039.7" cy="121.5" r="3.6"/><circle cx="1039.7" cy="134.5" r="3.6"/><circle cx="1043.9" cy="136.0" r="6"/><circle cx="1039.4" cy="131.0" r="3.6"/><circle cx="1048.4" cy="131.0" r="3.6"/><circle cx="1039.4" cy="141.0" r="3.6"/><circle cx="1048.4" cy="141.0" r="3.6"/><circle cx="1043.9" cy="129.5" r="3.6"/><circle cx="1043.9" cy="142.5" r="3.6"/><circle cx="1047.7" cy="130.4" r="6"/><circle cx="1043.2" cy="125.4" r="3.6"/><circle cx="1052.2" cy="125.4" r="3.6"/><circle cx="1043.2" cy="135.4" r="3.6"/><circle cx="1052.2" cy="135.4" r="3.6"/><circle cx="1047.7" cy="123.9" r="3.6"/><circle cx="1047.7" cy="136.9" r="3.6"/><circle cx="1051.5" cy="129.1" r="6"/><circle cx="1047.0" cy="124.1" r="3.6"/><circle cx="1056.0" cy="124.1" r="3.6"/><circle cx="1047.0" cy="134.1" r="3.6"/><circle cx="1056.0" cy="134.1" r="3.6"/><circle cx="1051.5" cy="122.6" r="3.6"/><circle cx="1051.5" cy="135.6" r="3.6"/><circle cx="1054.9" cy="127.5" r="6"/><circle cx="1050.4" cy="122.5" r="3.6"/><circle cx="1059.4" cy="122.5" r="3.6"/><circle cx="1050.4" cy="132.5" r="3.6"/><circle cx="1059.4" cy="132.5" r="3.6"/><circle cx="1054.9" cy="121.0" r="3.6"/><circle cx="1054.9" cy="134.0" r="3.6"/><circle cx="1058.4" cy="134.8" r="6"/><circle cx="1053.9" cy="129.8" r="3.6"/><circle cx="1062.9" cy="129.8" r="3.6"/><circle cx="1053.9" cy="139.8" r="3.6"/><circle cx="1062.9" cy="139.8" r="3.6"/><circle cx="1058.4" cy="128.3" r="3.6"/><circle cx="1058.4" cy="141.3" r="3.6"/><circle cx="1061.6" cy="122.6" r="6"/><circle cx="1057.1" cy="117.6" r="3.6"/><circle cx="1066.1" cy="117.6" r="3.6"/><circle cx="1057.1" cy="127.6" r="3.6"/><circle cx="1066.1" cy="127.6" r="3.6"/><circle cx="1061.6" cy="116.1" r="3.6"/><circle cx="1061.6" cy="129.1" r="3.6"/><circle cx="1065.5" cy="126.7" r="6"/><circle cx="1061.0" cy="121.7" r="3.6"/><circle cx="1070.0" cy="121.7" r="3.6"/><circle cx="1061.0" cy="131.7" r="3.6"/><circle cx="1070.0" cy="131.7" r="3.6"/><circle cx="1065.5" cy="120.2" r="3.6"/><circle cx="1065.5" cy="133.2" r="3.6"/><circle cx="1068.9" cy="118.5" r="6"/><circle cx="1064.4" cy="113.5" r="3.6"/><circle cx="1073.4" cy="113.5" r="3.6"/><circle cx="1064.4" cy="123.5" r="3.6"/><circle cx="1073.4" cy="123.5" r="3.6"/><circle cx="1068.9" cy="112.0" r="3.6"/><circle cx="1068.9" cy="125.0" r="3.6"/><circle cx="1072.5" cy="123.5" r="6"/><circle cx="1068.0" cy="118.5" r="3.6"/><circle cx="1077.0" cy="118.5" r="3.6"/><circle cx="1068.0" cy="128.5" r="3.6"/><circle cx="1077.0" cy="128.5" r="3.6"/><circle cx="1072.5" cy="117.0" r="3.6"/><circle cx="1072.5" cy="130.0" r="3.6"/><circle cx="1076.1" cy="128.7" r="6"/><circle cx="1071.6" cy="123.7" r="3.6"/><circle cx="1080.6" cy="123.7" r="3.6"/><circle cx="1071.6" cy="133.7" r="3.6"/><circle cx="1080.6" cy="133.7" r="3.6"/><circle cx="1076.1" cy="122.2" r="3.6"/><circle cx="1076.1" cy="135.2" r="3.6"/><circle cx="1079.9" cy="126.0" r="6"/><circle cx="1075.4" cy="121.0" r="3.6"/><circle cx="1084.4" cy="121.0" r="3.6"/><circle cx="1075.4" cy="131.0" r="3.6"/><circle cx="1084.4" cy="131.0" r="3.6"/><circle cx="1079.9" cy="119.5" r="3.6"/><circle cx="1079.9" cy="132.5" r="3.6"/><circle cx="1083.8" cy="126.3" r="6"/><circle cx="1079.3" cy="121.3" r="3.6"/><circle cx="1088.3" cy="121.3" r="3.6"/><circle cx="1079.3" cy="131.3" r="3.6"/><circle cx="1088.3" cy="131.3" r="3.6"/><circle cx="1083.8" cy="119.8" r="3.6"/><circle cx="1083.8" cy="132.8" r="3.6"/><circle cx="1087.0" cy="126.4" r="6"/><circle cx="1082.5" cy="121.4" r="3.6"/><circle cx="1091.5" cy="121.4" r="3.6"/><circle cx="1082.5" cy="131.4" r="3.6"/><circle cx="1091.5" cy="131.4" r="3.6"/><circle cx="1087.0" cy="119.9" r="3.6"/><circle cx="1087.0" cy="132.9" r="3.6"/><circle cx="1090.7" cy="125.2" r="6"/><circle cx="1086.2" cy="120.2" r="3.6"/><circle cx="1095.2" cy="120.2" r="3.6"/><circle cx="1086.2" cy="130.2" r="3.6"/><circle cx="1095.2" cy="130.2" r="3.6"/><circle cx="1090.7" cy="118.7" r="3.6"/><circle cx="1090.7" cy="131.7" r="3.6"/><circle cx="1094.3" cy="122.0" r="6"/><circle cx="1089.8" cy="117.0" r="3.6"/><circle cx="1098.8" cy="117.0" r="3.6"/><circle cx="1089.8" cy="127.0" r="3.6"/><circle cx="1098.8" cy="127.0" r="3.6"/><circle cx="1094.3" cy="115.5" r="3.6"/><circle cx="1094.3" cy="128.5" r="3.6"/><circle cx="1097.9" cy="125.3" r="6"/><circle cx="1093.4" cy="120.3" r="3.6"/><circle cx="1102.4" cy="120.3" r="3.6"/><circle cx="1093.4" cy="130.3" r="3.6"/><circle cx="1102.4" cy="130.3" r="3.6"/><circle cx="1097.9" cy="118.8" r="3.6"/><circle cx="1097.9" cy="131.8" r="3.6"/><circle cx="1101.8" cy="127.5" r="6"/><circle cx="1097.3" cy="122.5" r="3.6"/><circle cx="1106.3" cy="122.5" r="3.6"/><circle cx="1097.3" cy="132.5" r="3.6"/><circle cx="1106.3" cy="132.5" r="3.6"/><circle cx="1101.8" cy="121.0" r="3.6"/><circle cx="1101.8" cy="134.0" r="3.6"/><circle cx="1105.3" cy="127.5" r="6"/><circle cx="1100.8" cy="122.5" r="3.6"/><circle cx="1109.8" cy="122.5" r="3.6"/><circle cx="1100.8" cy="132.5" r="3.6"/><circle cx="1109.8" cy="132.5" r="3.6"/><circle cx="1105.3" cy="121.0" r="3.6"/><circle cx="1105.3" cy="134.0" r="3.6"/><circle cx="1108.9" cy="125.3" r="6"/><circle cx="1104.4" cy="120.3" r="3.6"/><circle cx="1113.4" cy="120.3" r="3.6"/><circle cx="1104.4" cy="130.3" r="3.6"/><circle cx="1113.4" cy="130.3" r="3.6"/><circle cx="1108.9" cy="118.8" r="3.6"/><circle cx="1108.9" cy="131.8" r="3.6"/><circle cx="1112.0" cy="120.5" r="6"/><circle cx="1107.5" cy="115.5" r="3.6"/><circle cx="1116.5" cy="115.5" r="3.6"/><circle cx="1107.5" cy="125.5" r="3.6"/><circle cx="1116.5" cy="125.5" r="3.6"/><circle cx="1112.0" cy="114.0" r="3.6"/><circle cx="1112.0" cy="127.0" r="3.6"/><circle cx="1116.0" cy="128.9" r="6"/><circle cx="1111.5" cy="123.9" r="3.6"/><circle cx="1120.5" cy="123.9" r="3.6"/><circle cx="1111.5" cy="133.9" r="3.6"/><circle cx="1120.5" cy="133.9" r="3.6"/><circle cx="1116.0" cy="122.4" r="3.6"/><circle cx="1116.0" cy="135.4" r="3.6"/><circle cx="1119.4" cy="118.7" r="6"/><circle cx="1114.9" cy="113.7" r="3.6"/><circle cx="1123.9" cy="113.7" r="3.6"/><circle cx="1114.9" cy="123.7" r="3.6"/><circle cx="1123.9" cy="123.7" r="3.6"/><circle cx="1119.4" cy="112.2" r="3.6"/><circle cx="1119.4" cy="125.2" r="3.6"/></g>
<g fill="#0000ff"><rect x="577.1" y="567.6" width="9" height="12" fill-opacity="0.04"/><rect x="582.6" y="562.9" width="9" height="12" fill-opacity="0.16"/><rect x="586.4" y="557.4" width="9" height="12" fill-opacity="0.25"/><rect x="592.0" y="553.0" width="9" height="12" fill-opacity="0.41"/><rect x="596.1" y="549.7" width="9" height="12" fill-opacity="0.54"/><rect x="600.4" y="542.6" width="9" height="12" fill-opacity="0.69"/><rect x="605.6" y="533.3" width="9" height="12" fill-opacity="0.90"/><rect x="610.3" y="526.7" width="9" height="12" fill-opacity="1.00"/><rect x="615.6" y="513.6" width="9" height="12" fill-opacity="1.00"/><rect x="619.8" y="503.6" width="9" height="12" fill-opacity="1.00"/><rect x="624.9" y="490.2" width="9" height="12" fill-opacity="1.00"/><rect x="628.6" y="479.8" width="9" height="12" fill-opacity="1.00"/><rect x="634.2" y="461.5" width="9" height="12" fill-opacity="1.00"/><rect x="638.2" y="448.7" width="9" height="12" fill-opacity="1.00"/><rect x="643.7" y="427.6" width="9" height="12" fill-opacity="1.00"/><rect x="647.8" y="409.5" width="9" height="12" fill-opacity="1.00"/><rect x="652.4" y="390.0" width="9" height="12" fill-opacity="1.00"/><rect x="657.2" y="368.1" width="9" height="12" fill-opacity="1.00"/><rect x="662.4" y="346.4" width="9" height="12" fill-opacity="1.00"/><rect x="666.9" y="323.9" width="9" height="12" fill-opacity="1.00"/><rect x="671.7" y="303.9" width="9" height="12" fill-opacity="1.00"/><rect x="676.8" y="283.1" width="9" height="12" fill-opacity="1.00"/><rect x="681.3" y="264.9" width="9" height="12" fill-opacity="1.00"/><rect x="685.6" y="249.0" width="9" height="12" fill-opacity="1.00"/><rect x="690.7" y="229.5" width="9" height="12" fill-opacity="1.00"/><rect x="694.6" y="217.3" width="9" height="12" fill-opacity="1.00"/><rect x="699.7" y="201.6" width="9" height="12" fill-opacity="1.00"/><rect x="704.2" y="191.4" width="9" height="12" fill-opacity="1.00"/><rect x="708.6" y="182.1" width="9" height="12" fill-opacity="1.00"/><rect x="714.0" y="169.6" width="9" height="12" fill-opacity="1.00"/><rect x="718.3" y="162.3" width="9" height="12" fill-opacity="0.87"/><rect x="723.0" y="156.2" width="9" height="12" fill-opacity="0.68"/><rect x="727.9" y="149.2" width="9" height="12" fill-opacity="0.50"/><rect x="732.2" y="145.5" width="9" height="12" fill-opacity="0.37"/><rect x="737.1" y="139.0" width="9" height="12" fill-opacity="0.24"/><rect x="741.5" y="137.4" width="9" height="12" fill-opacity="0.13"/><rect x="746.7" y="133.6" width="9" height="12" fill-opacity="0.03"/></g>
<g fill="none" stroke="#0000ff" stroke-width="1.1"><rect x="202.4" y="591.0" width="8" height="8"/><path d="M206.4 588.0V602.0M203.9 588.0H208.9M203.9 602.0H208.9"/><rect x="206.7" y="589.9" width="8" height="8"/><path d="M210.7 586.9V600.9M208.2 586.9H213.2M208.2 600.9H213.2"/><rect x="211.4" y="592.2" width="8" height="8"/><path d="M215.4 589.2V603.2M212.9 589.2H217.9M212.9 603.2H217.9"/><rect x="216.0" y="591.2" width="8" height="8"/><path d="M220.0 588.2V602.2M217.5 588.2H222.5M217.5 602.2H222.5"/><rect x="221.0" y="590.4" width="8" height="8"/><path d="M225.0 587.4V601.4M222.5 587.4H227.5M222.5 601.4H227.5"/><rect x="225.5" y="592.7" width="8" height="8"/><path d="M229.5 589.7V603.7M227.0 589.7H232.0M227.0 603.7H232.0"/><rect x="230.4" y="590.7" width="8" height="8"/><path d="M234.4 587.7V601.7M231.9 587.7H236.9M231.9 601.7H236.9"/><rect x="235.1" y="590.9" width="8" height="8"/><path d="M239.1 587.9V601.9M236.6 587.9H241.6M236.6 601.9H241.6"/><rect x="239.3" y="589.3" width="8" height="8"/><path d="M243.3 586.3V600.3M240.8 586.3H245.8M240.8 600.3H245.8"/><rect x="244.8" y="589.0" width="8" height="8"/><path d="M248.8 586.0V600.0M246.3 586.0H251.3M246.3 600.0H251.3"/><rect x="248.5" y="590.2" width="8" height="8"/><path d="M252.5 587.2V601.2M250.0 587.2H255.0M250.0 601.2H255.0"/><rect x="253.7" y="587.8" width="8" height="8"/><path d="M257.7 584.8V598.8M255.2 584.8H260.2M255.2 598.8H260.2"/><rect x="258.4" y="588.1" width="8" height="8"/><path d="M262.4 585.1V599.1M259.9 585.1H264.9M259.9 599.1H264.9"/><rect x="262.7" y="587.1" width="8" height="8"/><path d="M266.7 584.1V598.1M264.2 584.1H269.2M264.2 598.1H269.2"/><rect x="268.1" y="586.7" width="8" height="8"/><path d="M272.1 583.7V597.7M269.6 583.7H274.6M269.6 597.7H274.6"/><rect x="272.2" y="585.5" width="8" height="8"/><path d="M276.2 582.5V596.5M273.7 582.5H278.7M273.7 596.5H278.7"/><rect x="276.9" y="585.2" width="8" height="8"/><path d="M280.9 582.2V596.2M278.4 582.2H283.4M278.4 596.2H283.4"/><rect x="281.5" y="585.7" width="8" height="8"/><path d="M285.5 582.7V596.7M283.0 582.7H288.0M283.0 596.7H288.0"/><rect x="287.0" y="584.1" width="8" height="8"/><path d="M291.0 581.1V595.1M288.5 581.1H293.5M288.5 595.1H293.5"/><rect x="291.0" y="585.9" width="8" height="8"/><path d="M295.0 582.9V596.9M292.5 582.9H297.5M292.5 596.9H297.5"/><rect x="296.2" y="585.4" width="8" height="8"/><path d="M300.2 582.4V596.4M297.7 582.4H302.7M297.7 596.4H302.7"/><rect x="300.1" y="585.9" width="8" height="8"/><path d="M304.1 582.9V596.9M301.6 582.9H306.6M301.6 596.9H306.6"/><rect x="305.5" y="584.8" width="8" height="8"/><path d="M309.5 581.8V595.8M307.0 581.8H312.0M307.0 595.8H312.0"/><rect x="310.0" y="586.6" width="8" height="8"/><path d="M314.0 583.6V597.6M311.5 583.6H316.5M311.5 597.6H316.5"/><rect x="315.1" y="585.4" width="8" height="8"/><path d="M319.1 582.4V596.4M316.6 582.4H321.6M316.6 596.4H321.6"/><rect x="319.7" y="585.9" width="8" height="8"/><path d="M323.7 582.9V596.9M321.2 582.9H326.2M321.2 596.9H326.2"/><rect x="324.8" y="587.2" width="8" height="8"/><path d="M328.8 584.2V598.2M326.3 584.2H331.3M326.3 598.2H331.3"/><rect x="329.4" y="588.6" width="8" height="8"/><path d="M333.4 585.6V599.6M330.9 585.6H335.9M330.9 599.6H335.9"/><rect x="333.7" y="587.6" width="8" height="8"/><path d="M337.7 584.6V598.6M335.2 584.6H340.2M335.2 598.6H340.2"/><rect x="338.3" y="587.7" width="8" height="8"/><path d="M342.3 584.7V598.7M339.8 584.7H344.8M339.8 598.7H344.8"/><rect x="342.6" y="589.9" width="8" height="8"/><path d="M346.6 586.9V600.9M344.1 586.9H349.1M344.1 600.9H349.1"/><rect x="347.5" y="590.3" width="8" height="8"/><path d="M351.5 587.3V601.3M349.0 587.3H354.0M349.0 601.3H354.0"/><rect x="352.1" y="590.1" width="8" height="8"/><path d="M356.1 587.1V601.1M353.6 587.1H358.6M353.6 601.1H358.6"/><rect x="357.4" y="588.7" width="8" height="8"/><path d="M361.4 585.7V599.7M358.9 585.7H363.9M358.9 599.7H363.9"/><rect x="361.3" y="588.8" width="8" height="8"/><path d="M365.3 585.8V599.8M362.8 585.8H367.8M362.8 599.8H367.8"/><rect x="366.5" y="587.7" width="8" height="8"/><path d="M370.5 584.7V598.7M368.0 584.7H373.0M368.0 598.7H373.0"/><rect x="370.8" y="587.5" width="8" height="8"/><path d="M374.8 584.5V598.5M372.3 584.5H377.3M372.3 598.5H377.3"/><rect x="376.0" y="589.3" width="8" height="8"/><path d="M380.0 586.3V600.3M377.5 586.3H382.5M377.5 600.3H382.5"/><rect x="380.3" y="586.2" width="8" height="8"/><path d="M384.3 583.2V597.2M381.8 583.2H386.8M381.8 597.2H386.8"/><rect x="385.5" y="587.8" width="8" height="8"/><path d="M389.5 584.8V598.8M387.0 584.8H392.0M387.0 598.8H392.0"/><rect x="390.6" y="586.6" width="8" height="8"/><path d="M394.6 583.6V597.6M392.1 583.6H397.1M392.1 597.6H397.1"/><rect x="394.5" y="586.7" width="8" height="8"/><path d="M398.5 583.7V597.7M396.0 583.7H401.0M396.0 597.7H401.0"/><rect x="398.9" y="586.3" width="8" height="8"/><path d="M402.9 583.3V597.3M400.4 583.3H405.4M400.4 597.3H405.4"/><rect x="403.6" y="585.9" width="8" height="8"/><path d="M407.6 582.9V596.9M405.1 582.9H410.1M405.1 596.9H410.1"/><rect x="408.8" y="586.3" width="8" height="8"/><path d="M412.8 583.3V597.3M410.3 583.3H415.3M410.3 597.3H415.3"/><rect x="413.1" y="586.2" width="8" height="8"/><path d="M417.1 583.2V597.2M414.6 583.2H419.6M414.6 597.2H419.6"/><rect x="418.6" y="587.4" width="8" height="8"/><path d="M422.6 584.4V598.4M420.1 584.4H425.1M420.1 598.4H425.1"/><rect x="423.0" y="586.8" width="8" height="8"/><path d="M427.0 583.8V597.8M424.5 583.8H429.5M424.5 597.8H429.5"/><rect x="427.9" y="587.0" width="8" height="8"/><path d="M431.9 584.0V598.0M429.4 584.0H434.4M429.4 598.0H434.4"/><rect x="432.4" y="588.7" width="8" height="8"/><path d="M436.4 585.7V599.7M433.9 585.7H438.9M433.9 599.7H438.9"/><rect x="437.6" y="586.0" width="8" height="8"/><path d="M441.6 583.0V597.0M439.1 583.0H444.1M439.1 597.0H444.1"/><rect x="442.1" y="588.3" width="8" height="8"/><path d="M446.1 585.3V599.3M443.6 585.3H448.6M443.6 599.3H448.6"/><rect x="446.2" y="586.8" width="8" height="8"/><path d="M450.2 583.8V597.8M447.7 583.8H452.7M447.7 597.8H452.7"/><rect x="451.2" y="587.3" width="8" height="8"/><path d="M455.2 584.3V598.3M452.7 584.3H457.7M452.7 598.3H457.7"/><rect x="455.7" y="586.2" width="8" height="8"/><path d="M459.7 583.2V597.2M457.2 583.2H462.2M457.2 597.2H462.2"/><rect x="460.8" y="582.9" width="8" height="8"/><path d="M464.8 579.9V593.9M462.3 579.9H467.3M462.3 593.9H467.3"/><rect x="465.7" y="581.4" width="8" height="8"/><path d="M469.7 578.4V592.4M467.2 578.4H472.2M467.2 592.4H472.2"/><rect x="469.5" y="582.5" width="8" height="8"/><path d="M473.5 579.5V593.5M471.0 579.5H476.0M471.0 593.5H476.0"/><rect x="474.1" y="580.8" width="8" height="8"/><path d="M478.1 577.8V591.8M475.6 577.8H480.6M475.6 591.8H480.6"/><rect x="478.9" y="580.3" width="8" height="8"/><path d="M482.9 577.3V591.3M480.4 577.3H485.4M480.4 591.3H485.4"/><rect x="484.4" y="580.7" width="8" height="8"/><path d="M488.4 577.7V591.7M485.9 577.7H490.9M485.9 591.7H490.9"/><rect x="488.1" y="577.6" width="8" height="8"/><path d="M492.1 574.6V588.6M489.6 574.6H494.6M489.6 588.6H494.6"/><rect x="493.8" y="576.6" width="8" height="8"/><path d="M497.8 573.6V587.6M495.3 573.6H500.3M495.3 587.6H500.3"/><rect x="497.8" y="576.1" width="8" height="8"/><path d="M501.8 573.1V587.1M499.3 573.1H504.3M499.3 587.1H504.3"/><rect x="502.3" y="575.1" width="8" height="8"/><path d="M506.3 572.1V586.1M503.8 572.1H508.8M503.8 586.1H508.8"/><rect x="507.7" y="576.3" width="8" height="8"/><path d="M511.7 573.3V587.3M509.2 573.3H514.2M509.2 587.3H514.2"/><rect x="512.4" y="575.7" width="8" height="8"/><path d="M516.4 572.7V586.7M513.9 572.7H518.9M513.9 586.7H518.9"/><rect x="517.1" y="573.4" width="8" height="8"/><path d="M521.1 570.4V584.4M518.6 570.4H523.6M518.6 584.4H523.6"/><rect x="521.8" y="574.6" width="8" height="8"/><path d="M525.8 571.6V585.6M523.3 571.6H528.3M523.3 585.6H528.3"/><rect x="526.5" y="573.6" width="8" height="8"/><path d="M530.5 570.6V584.6M528.0 570.6H533.0M528.0 584.6H533.0"/><rect x="530.5" y="576.7" width="8" height="8"/><path d="M534.5 573.7V587.7M532.0 573.7H537.0M532.0 587.7H537.0"/><rect x="535.8" y="576.1" width="8" height="8"/><path d="M539.8 573.1V587.1M537.3 573.1H542.3M537.3 587.1H542.3"/><rect x="540.5" y="577.7" width="8" height="8"/><path d="M544.5 574.7V588.7M542.0 574.7H547.0M542.0 588.7H547.0"/><rect x="545.1" y="577.0" width="8" height="8"/><path d="M549.1 574.0V588.0M546.6 574.0H551.6M546.6 588.0H551.6"/><rect x="549.6" y="578.3" width="8" height="8"/><path d="M553.6 575.3V589.3M551.1 575.3H556.1M551.1 589.3H556.1"/><rect x="554.1" y="579.6" width="8" height="8"/><path d="M558.1 576.6V590.6M555.6 576.6H560.6M555.6 590.6H560.6"/><rect x="559.1" y="578.4" width="8" height="8"/><path d="M563.1 575.4V589.4M560.6 575.4H565.6M560.6 589.4H565.6"/><rect x="564.2" y="577.3" width="8" height="8"/><path d="M568.2 574.3V588.3M565.7 574.3H570.7M565.7 588.3H570.7"/><rect x="568.9" y="575.3" width="8" height="8"/><path d="M572.9 572.3V586.3M570.4 572.3H575.4M570.4 586.3H575.4"/><rect x="573.0" y="573.3" width="8" height="8"/><path d="M577.0 570.3V584.3M574.5 570.3H579.5M574.5 584.3H579.5"/><rect x="577.6" y="569.6" width="8" height="8"/><path d="M581.6 566.6V580.6M579.1 566.6H584.1M579.1 580.6H584.1"/><rect x="583.1" y="564.9" width="8" height="8"/><path d="M587.1 561.9V575.9M584.6 561.9H589.6M584.6 575.9H589.6"/><rect x="586.9" y="559.4" width="8" height="8"/><path d="M590.9 556.4V570.4M588.4 556.4H593.4M588.4 570.4H593.4"/><rect x="592.5" y="555.0" width="8" height="8"/><path d="M596.5 552.0V566.0M594.0 552.0H599.0M594.0 566.0H599.0"/><rect x="596.6" y="551.7" width="8" height="8"/><path d="M600.6 548.7V562.7M598.1 548.7H603.1M598.1 562.7H603.1"/><rect x="600.9" y="544.6" width="8" height="8"/><path d="M604.9 541.6V555.6M602.4 541.6H607.4M602.4 555.6H607.4"/><rect x="606.1" y="535.3" width="8" height="8"/><path d="M610.1 532.3V546.3M607.6 532.3H612.6M607.6 546.3H612.6"/><rect x="610.8" y="528.7" width="8" height="8"/><path d="M614.8 525.7V539.7M612.3 525.7H617.3M612.3 539.7H617.3"/><rect x="616.1" y="515.6" width="8" height="8"/><path d="M620.1 512.6V526.6M617.6 512.6H622.6M617.6 526.6H622.6"/><rect x="620.3" y="505.6" width="8" height="8"/><path d="M624.3 502.6V516.6M621.8 502.6H626.8M621.8 516.6H626.8"/><rect x="625.4" y="492.2" width="8" height="8"/><path d="M629.4 489.2V503.2M626.9 489.2H631.9M626.9 503.2H631.9"/><rect x="629.1" y="481.8" width="8" height="8"/><path d="M633.1 478.8V492.8M630.6 478.8H635.6M630.6 492.8H635.6"/><rect x="634.7" y="463.5" width="8" height="8"/><path d="M638.7 460.5V474.5M636.2 460.5H641.2M636.2 474.5H641.2"/><rect x="638.7" y="450.7" width="8" height="8"/><path d="M642.7 447.7V461.7M640.2 447.7H645.2M640.2 461.7H645.2"/><rect x="644.2" y="429.6" width="8" height="8"/><path d="M648.2 426.6V440.6M645.7 426.6H650.7M645.7 440.6H650.7"/><rect x="648.3" y="411.5" width="8" height="8"/><path d="M652.3 408.5V422.5M649.8 408.5H654.8M649.8 422.5H654.8"/><rect x="652.9" y="392.0" width="8" height="8"/><path d="M656.9 389.0V403.0M654.4 389.0H659.4M654.4 403.0H659.4"/><rect x="657.7" y="370.1" width="8" height="8"/><path d="M661.7 367.1V381.1M659.2 367.1H664.2M659.2 381.1H664.2"/><rect x="662.9" y="348.4" width="8" height="8"/><path d="M666.9 345.4V359.4M664.4 345.4H669.4M664.4 359.4H669.4"/><rect x="667.4" y="325.9" width="8" height="8"/><path d="M671.4 322.9V336.9M668.9 322.9H673.9M668.9 336.9H673.9"/><rect x="672.2" y="305.9" width="8" height="8"/><path d="M676.2 302.9V316.9M673.7 302.9H678.7M673.7 316.9H678.7"/><rect x="677.3" y="285.1" width="8" height="8"/><path d="M681.3 282.1V296.1M678.8 282.1H683.8M678.8 296.1H683.8"/><rect x="681.8" y="266.9" width="8" height="8"/><path d="M685.8 263.9V277.9M683.3 263.9H688.3M683.3 277.9H688.3"/><rect x="686.1" y="251.0" width="8" height="8"/><path d="M690.1 248.0V262.0M687.6 248.0H692.6M687.6 262.0H692.6"/><rect x="691.2" y="231.5" width="8" height="8"/><path d="M695.2 228.5V242.5M692.7 228.5H697.7M692.7 242.5H697.7"/><rect x="695.1" y="219.3" width="8" height="8"/><path d="M699.1 216.3V230.3M696.6 216.3H701.6M696.6 230.3H701.6"/><rect x="700.2" y="203.6" width="8" height="8"/><path d="M704.2 200.6V214.6M701.7 200.6H706.7M701.7 214.6H706.7"/><rect x="704.7" y="193.4" width="8" height="8"/><path d="M708.7 190.4V204.4M706.2 190.4H711.2M706.2 204.4H711.2"/><rect x="709.1" y="184.1" width="8" height="8"/><path d="M713.1 181.1V195.1M710.6 181.1H715.6M710.6 195.1H715.6"/><rect x="714.5" y="171.6" width="8" height="8"/><path d="M718.5 168.6V182.6M716.0 168.6H721.0M716.0 182.6H721.0"/><rect x="718.8" y="164.3" width="8" height="8"/><path d="M722.8 161.3V175.3M720.3 161.3H725.3M720.3 175.3H725.3"/><rect x="723.5" y="158.2" width="8" height="8"/><path d="M727.5 155.2V169.2M725.0 155.2H730.0M725.0 169.2H730.0"/><rect x="728.4" y="151.2" width="8" height="8"/><path d="M732.4 148.2V162.2M729.9 148.2H734.9M729.9 162.2H734.9"/><rect x="732.7" y="147.5" width="8" height="8"/><path d="M736.7 144.5V158.5M734.2 144.5H739.2M734.2 158.5H739.2"/><rect x="737.6" y="141.0" width="8" height="8"/><path d="M741.6 138.0V152.0M739.1 138.0H744.1M739.1 152.0H744.1"/><rect x="742.0" y="139.4" width="8" height="8"/><path d="M746.0 136.4V150.4M743.5 136.4H748.5M743.5 150.4H748.5"/><rect x="747.2" y="135.6" width="8" height="8"/><path d="M751.2 132.6V146.6M748.7 132.6H753.7M748.7 146.6H753.7"/><rect x="752.4" y="132.7" width="8" height="8"/><path d="M756.4 129.7V143.7M753.9 129.7H758.9M753.9 143.7H758.9"/><rect x="757.0" y="130.4" width="8" height="8"/><path d="M761.0 127.4V141.4M758.5 127.4H763.5M758.5 141.4H763.5"/><rect x="761.8" y="127.7" width="8" height="8"/><path d="M765.8 124.7V138.7M763.3 124.7H768.3M763.3 138.7H768.3"/><rect x="765.6" y="124.0" width="8" height="8"/><path d="M769.6 121.0V135.0M767.1 121.0H772.1M767.1 135.0H772.1"/><rect x="770.8" y="121.6" width="8" height="8"/><path d="M774.8 118.6V132.6M772.3 118.6H777.3M772.3 132.6H777.3"/><rect x="775.7" y="117.4" width="8" height="8"/><path d="M779.7 114.4V128.4M777.2 114.4H782.2M777.2 128.4H782.2"/><rect x="780.4" y="113.3" width="8" height="8"/><path d="M784.4 110.3V124.3M781.9 110.3H786.9M781.9 124.3H786.9"/><rect x="785.3" y="111.1" width="8" height="8"/><path d="M789.3 108.1V122.1M786.8 108.1H791.8M786.8 122.1H791.8"/><rect x="789.4" y="109.6" width="8" height="8"/><path d="M793.4 106.6V120.6M790.9 106.6H795.9M790.9 120.6H795.9"/><rect x="794.8" y="109.1" width="8" height="8"/><path d="M798.8 106.1V120.1M796.3 106.1H801.3M796.3 120.1H801.3"/><rect x="798.5" y="108.5" width="8" height="8"/><path d="M802.5 105.5V119.5M800.0 105.5H805.0M800.0 119.5H805.0"/><rect x="803.8" y="111.4" width="8" height="8"/><path d="M807.8 108.4V122.4M805.3 108.4H810.3M805.3 122.4H810.3"/><rect x="808.8" y="111.9" width="8" height="8"/><path d="M812.8 108.9V122.9M810.3 108.9H815.3M810.3 122.9H815.3"/><rect x="812.9" y="114.9" width="8" height="8"/><path d="M816.9 111.9V125.9M814.4 111.9H819.4M814.4 125.9H819.4"/><rect x="817.2" y="114.4" width="8" height="8"/><path d="M821.2 111.4V125.4M818.7 111.4H823.7M818.7 125.4H823.7"/><rect x="822.5" y="116.4" width="8" height="8"/><path d="M826.5 113.4V127.4M824.0 113.4H829.0M824.0 127.4H829.0"/><rect x="826.6" y="116.7" width="8" height="8"/><path d="M830.6 113.7V127.7M828.1 113.7H833.1M828.1 127.7H833.1"/><rect x="832.0" y="118.0" width="8" height="8"/><path d="M836.0 115.0V129.0M833.5 115.0H838.5M833.5 129.0H838.5"/><rect x="836.0" y="117.0" width="8" height="8"/><path d="M840.0 114.0V128.0M837.5 114.0H842.5M837.5 128.0H842.5"/><rect x="841.6" y="119.3" width="8" height="8"/><path d="M845.6 116.3V130.3M843.1 116.3H848.1M843.1 130.3H848.1"/><rect x="845.5" y="120.4" width="8" height="8"/><path d="M849.5 117.4V131.4M847.0 117.4H852.0M847.0 131.4H852.0"/><rect x="850.0" y="118.4" width="8" height="8"/><path d="M854.0 115.4V129.4M851.5 115.4H856.5M851.5 129.4H856.5"/><rect x="855.7" y="118.8" width="8" height="8"/><path d="M859.7 115.8V129.8M857.2 115.8H862.2M857.2 129.8H862.2"/><rect x="859.7" y="118.9" width="8" height="8"/><path d="M863.7 115.9V129.9M861.2 115.9H866.2M861.2 129.9H866.2"/><rect x="864.8" y="118.2" width="8" height="8"/><path d="M868.8 115.2V129.2M866.3 115.2H871.3M866.3 129.2H871.3"/><rect x="869.9" y="116.4" width="8" height="8"/><path d="M873.9 113.4V127.4M871.4 113.4H876.4M871.4 127.4H876.4"/><rect x="874.3" y="116.5" width="8" height="8"/><path d="M878.3 113.5V127.5M875.8 113.5H880.8M875.8 127.5H880.8"/><rect x="879.3" y="117.2" width="8" height="8"/><path d="M883.3 114.2V128.2M880.8 114.2H885.8M880.8 128.2H885.8"/><rect x="883.8" y="117.2" width="8" height="8"/><path d="M887.8 114.2V128.2M885.3 114.2H890.3M885.3 128.2H890.3"/><rect x="888.8" y="115.4" width="8" height="8"/><path d="M892.8 112.4V126.4M890.3 112.4H895.3M890.3 126.4H895.3"/><rect x="892.5" y="116.8" width="8" height="8"/><path d="M896.5 113.8V127.8M894.0 113.8H899.0M894.0 127.8H899.0"/><rect x="897.9" y="116.0" width="8" height="8"/><path d="M901.9 113.0V127.0M899.4 113.0H904.4M899.4 127.0H904.4"/><rect x="902.3" y="115.4" width="8" height="8"/><path d="M906.3 112.4V126.4M903.8 112.4H908.8M903.8 126.4H908.8"/><rect x="907.5" y="116.4" width="8" height="8"/><path d="M911.5 113.4V127.4M909.0 113.4H914.0M909.0 127.4H914.0"/><rect x="911.8" y="114.0" width="8" height="8"/><path d="M915.8 111.0V125.0M913.3 111.0H918.3M913.3 125.0H918.3"/><rect x="916.8" y="115.0" width="8" height="8"/><path d="M920.8 112.0V126.0M918.3 112.0H923.3M918.3 126.0H923.3"/><rect x="920.7" y="114.4" width="8" height="8"/><path d="M924.7 111.4V125.4M922.2 111.4H927.2M922.2 125.4H927.2"/><rect x="926.0" y="110.4" width="8" height="8"/><path d="M930.0 107.4V121.4M927.5 107.4H932.5M927.5 121.4H932.5"/><rect x="930.0" y="108.9" width="8" height="8"/><path d="M934.0 105.9V119.9M931.5 105.9H936.5M931.5 119.9H936.5"/><rect x="935.7" y="111.2" width="8" height="8"/><path d="M939.7 108.2V122.2M937.2 108.2H942.2M937.2 122.2H942.2"/><rect x="940.5" y="112.2" width="8" height="8"/><path d="M944.5 109.2V123.2M942.0 109.2H947.0M942.0 123.2H947.0"/><rect x="944.7" y="113.6" width="8" height="8"/><path d="M948.7 110.6V124.6M946.2 110.6H951.2M946.2 124.6H951.2"/><rect x="949.3" y="115.1" width="8" height="8"/><path d="M953.3 112.1V126.1M950.8 112.1H955.8M950.8 126.1H955.8"/><rect x="954.4" y="118.0" width="8" height="8"/><path d="M958.4 115.0V129.0M955.9 115.0H960.9M955.9 129.0H960.9"/><rect x="958.6" y="117.4" width="8" height="8"/><path d="M962.6 114.4V128.4M960.1 114.4H965.1M960.1 128.4H965.1"/><rect x="963.2" y="116.1" width="8" height="8"/><path d="M967.2 113.1V127.1M964.7 113.1H969.7M964.7 127.1H969.7"/><rect x="968.1" y="116.6" width="8" height="8"/><path d="M972.1 113.6V127.6M969.6 113.6H974.6M969.6 127.6H974.6"/><rect x="972.9" y="117.4" width="8" height="8"/><path d="M976.9 114.4V128.4M974.4 114.4H979.4M974.4 128.4H979.4"/><rect x="977.1" y="116.1" width="8" height="8"/><path d="M981.1 113.1V127.1M978.6 113.1H983.6M978.6 127.1H983.6"/><rect x="982.8" y="115.9" width="8" height="8"/><path d="M986.8 112.9V126.9M984.3 112.9H989.3M984.3 126.9H989.3"/><rect x="987.0" y="115.0" width="8" height="8"/><path d="M991.0 112.0V126.0M988.5 112.0H993.5M988.5 126.0H993.5"/><rect x="991.5" y="118.7" width="8" height="8"/><path d="M995.5 115.7V129.7M993.0 115.7H998.0M993.0 129.7H998.0"/><rect x="996.8" y="120.3" width="8" height="8"/><path d="M1000.8 117.3V131.3M998.3 117.3H1003.3M998.3 131.3H1003.3"/><rect x="1001.5" y="123.1" width="8" height="8"/><path d="M1005.5 120.1V134.1M1003.0 120.1H1008.0M1003.0 134.1H1008.0"/><rect x="1006.1" y="123.6" width="8" height="8"/><path d="M1010.1 120.6V134.6M1007.6 120.6H1012.6M1007.6 134.6H1012.6"/><rect x="1010.4" y="126.7" width="8" height="8"/><path d="M1014.4 123.7V137.7M1011.9 123.7H1016.9M1011.9 137.7H1016.9"/><rect x="1014.9" y="128.6" width="8" height="8"/><path d="M1018.9 125.6V139.6M1016.4 125.6H1021.4M1016.4 139.6H1021.4"/><rect x="1019.8" y="127.4" width="8" height="8"/><path d="M1023.8 124.4V138.4M1021.3 124.4H1026.3M1021.3 138.4H1026.3"/><rect x="1024.4" y="126.2" width="8" height="8"/><path d="M1028.4 123.2V137.2M1025.9 123.2H1030.9M1025.9 137.2H1030.9"/><rect x="1029.0" y="126.6" width="8" height="8"/><path d="M1033.0 123.6V137.6M1030.5 123.6H1035.5M1030.5 137.6H1035.5"/><rect x="1033.3" y="125.4" width="8" height="8"/><path d="M1037.3 122.4V136.4M1034.8 122.4H1039.8M1034.8 136.4H1039.8"/><rect x="1038.3" y="126.9" width="8" height="8"/><path d="M1042.3 123.9V137.9M1039.8 123.9H1044.8M1039.8 137.9H1044.8"/><rect x="1043.4" y="124.6" width="8" height="8"/><path d="M1047.4 121.6V135.6M1044.9 121.6H1049.9M1044.9 135.6H1049.9"/><rect x="1048.6" y="123.6" width="8" height="8"/><path d="M1052.6 120.6V134.6M1050.1 120.6H1055.1M1050.1 134.6H1055.1"/><rect x="1052.7" y="124.1" width="8" height="8"/><path d="M1056.7 121.1V135.1M1054.2 121.1H1059.2M1054.2 135.1H1059.2"/><rect x="1057.6" y="122.0" width="8" height="8"/><path d="M1061.6 119.0V133.0M1059.1 119.0H1064.1M1059.1 133.0H1064.1"/><rect x="1062.4" y="121.0" width="8" height="8"/><path d="M1066.4 118.0V132.0M1063.9 118.0H1068.9M1063.9 132.0H1068.9"/><rect x="1067.1" y="119.8" width="8" height="8"/><path d="M1071.1 116.8V130.8M1068.6 116.8H1073.6M1068.6 130.8H1073.6"/><rect x="1072.1" y="119.3" width="8" height="8"/><path d="M1076.1 116.3V130.3M1073.6 116.3H1078.6M1073.6 130.3H1078.6"/><rect x="1075.7" y="116.7" width="8" height="8"/><path d="M1079.7 113.7V127.7M1077.2 113.7H1082.2M1077.2 127.7H1082.2"/><rect x="1081.5" y="117.1" width="8" height="8"/><path d="M1085.5 114.1V128.1M1083.0 114.1H1088.0M1083.0 128.1H1088.0"/><rect x="1085.0" y="117.3" width="8" height="8"/><path d="M1089.0 114.3V128.3M1086.5 114.3H1091.5M1086.5 128.3H1091.5"/><rect x="1090.3" y="119.6" width="8" height="8"/><path d="M1094.3 116.6V130.6M1091.8 116.6H1096.8M1091.8 130.6H1096.8"/><rect x="1094.9" y="119.1" width="8" height="8"/><path d="M1098.9 116.1V130.1M1096.4 116.1H1101.4M1096.4 130.1H1101.4"/><rect x="1100.1" y="117.4" width="8" height="8"/><path d="M1104.1 114.4V128.4M1101.6 114.4H1106.6M1101.6 128.4H1106.6"/><rect x="1104.5" y="120.3" width="8" height="8"/><path d="M1108.5 117.3V131.3M1106.0 117.3H1111.0M1106.0 131.3H1111.0"/><rect x="1109.2" y="118.9" width="8" height="8"/><path d="M1113.2 115.9V129.9M1110.7 115.9H1115.7M1110.7 129.9H1115.7"/><rect x="1113.6" y="120.0" width="8" height="8"/><path d="M1117.6 117.0V131.0M1115.1 117.0H1120.1M1115.1 131.0H1120.1"/></g>
<path d="M211.00 589.80 L212.00 589.80 L213.00 589.80 L214.00 589.80 L215.00 589.80 L216.00 589.80 L217.00 589.80 L218.00 589.80 L219.00 589.80 L220.00 589.80 L221.00 589.80 L222.00 589.80 L223.00 589.80 L224.00 589.80 L225.00 589.80 L226.00 589.80 L227.00 589.80 L228.00 589.80 L229.00 589.80 L230.00 589.80 L231.00 589.80 L232.00 589.80 L233.00 589.80 L234.00 589.80 L235.00 589.80 L236.00 589.80 L237.00 589.80 L238.00 589.80 L239.00 589.80 L240.00 589.80 L241.00 589.80 L242.00 589.80 L243.00 589.80 L244.00 589.80 L245.00 589.80 L246.00 589.80 L247.00 589.80 L248.00 589.80 L249.00 589.80 L250.00 589.80 L251.00 589.80 L252.00 589.80 L253.00 589.80 L254.00 589.80 L255.00 589.80 L256.00 589.80 L257.00 589.80 L258.00 589.80 L259.00 589.80 L260.00 589.80 L261.00 589.80 L262.00 589.80 L263.00 589.80 L264.00 589.80 L265.00 589.80 L266.00 589.80 L267.00 589.80 L268.00 589.80 L269.00 589.80 L270.00 589.80 L271.00 589.80 L272.00 589.80 L273.00 589.80 L274.00 589.80 L275.00 589.80 L276.00 589.80 L277.00 589.80 L278.00 589.80 L279.00 589.80 L280.00 589.80 L281.00 589.80 L282.00 589.80 L283.00 589.80 L284.00 589.80 L285.00 589.80 L286.00 589.80 L287.00 589.80 L288.00 589.80 L289.00 589.80 L290.00 589.80 L291.00 589.80 L292.00 589.80 L293.00 589.80 L294.00 589.80 L295.00 589.80 L296.00 589.80 L297.00 589.80 L298.00 589.80 L299.00 589.80 L300.00 589.80 L301.00 589.80 L302.00 589.80 L303.00 589.80 L304.00 589.80 L305.00 589.80 L306.00 589.80 L307.00 589.80 L308.00 589.80 L309.00 589.80 L310.00 589.80 L311.00 589.80 L312.00 589.80 L313.00 589.80 L314.00 589.80 L315.00 589.80 L316.00 589.80 L317.00 589.80 L318.00 589.80 L319.00 589.80 L320.00 589.80 L321.00 589.80 L322.00 589.80 L323.00 589.80 L324.00 589.80 L325.00 589.80 L326.00 589.80 L327.00 589.80 L328.00 589.80 L329.00 589.80 L330.00 589.80 L331.00 589.80 L332.00 589.80 L333.00 589.80 L334.00 589.80 L335.00 589.80 L336.00 589.80 L337.00 589.80 L338.00 589.80 L339.00 589.80 L340.00 589.80 L341.00 589.80 L342.00 589.80 L343.00 589.80 L344.00 589.80 L345.00 589.80 L346.00 589.80 L347.00 589.80 L348.00 589.80 L349.00 589.80 L350.00 589.80 L351.00 589.80 L352.00 589.80 L353.00 589.80 L354.00 589.80 L355.00 589.80 L356.00 589.80 L357.00 589.80 L358.00 589.80 L359.00 589.80 L360.00 589.80 L361.00 589.80 L362.00 589.80 L363.00 589.80 L364.00 589.80 L365.00 589.80 L366.00 589.80 L367.00 589.80 L368.00 589.80 L369.00 589.80 L370.00 589.80 L371.00 589.80 L372.00 589.80 L373.00 589.80 L374.00 589.79 L375.00 589.79 L376.00 589.79 L377.00 589.79 L378.00 589.79 L379.00 589.79 L380.00 589.79 L381.00 589.79 L382.00 589.79 L383.00 589.79 L384.00 589.79 L385.00 589.79 L386.00 589.79 L387.00 589.79 L388.00 589.79 L389.00 589.79 L390.00 589.79 L391.00 589.79 L392.00 589.79 L393.00 589.79 L394.00 589.79 L395.00 589.79 L396.00 589.79 L397.00 589.79 L398.00 589.79 L399.00 589.79 L400.00 589.79 L401.00 589.79 L402.00 589.78 L403.00 589.78 L404.00 589.78 L405.00 589.78 L406.00 589.78 L407.00 589.78 L408.00 589.78 L409.00 589.78 L410.00 589.78 L411.00 589.78 L412.00 589.78 L413.00 589.78 L414.00 589.78 L415.00 589.78 L416.00 589.77 L417.00 589.77 L418.00 589.77 L419.00 589.77 L420.00 589.77 L421.00 589.77 L422.00 589.77 L423.00 589.77 L424.00 589.76 L425.00 589.76 L426.00 589.76 L427.00 589.76 L428.00 589.76 L429.00 589.76 L430.00 589.76 L431.00 589.75 L432.00 589.75 L433.00 589.75 L434.00 589.75 L435.00 589.75 L436.00 589.74 L437.00 589.74 L438.00 589.74 L439.00 589.74 L440.00 589.74 L441.00 589.73 L442.00 589.73 L443.00 589.73 L444.00 589.72 L445.00 589.72 L446.00 589.72 L447.00 589.72 L448.00 589.71 L449.00 589.71 L450.00 589.70 L451.00 589.70 L452.00 589.70 L453.00 589.69 L454.00 589.69 L455.00 589.68 L456.00 589.68 L457.00 589.68 L458.00 589.67 L459.00 589.67 L460.00 589.66 L461.00 589.65 L462.00 589.65 L463.00 589.64 L464.00 589.64 L465.00 589.63 L466.00 589.62 L467.00 589.62 L468.00 589.61 L469.00 589.60 L470.00 589.59 L471.00 589.59 L472.00 589.58 L473.00 589.57 L474.00 589.56 L475.00 589.55 L476.00 589.54 L477.00 589.53 L478.00 589.52 L479.00 589.51 L480.00 589.50 L481.00 589.49 L482.00 589.47 L483.00 589.46 L484.00 589.45 L485.00 589.43 L486.00 589.42 L487.00 589.41 L488.00 589.39 L489.00 589.37 L490.00 589.36 L491.00 589.34 L492.00 589.32 L493.00 589.30 L494.00 589.28 L495.00 589.26 L496.00 589.24 L497.00 589.22 L498.00 589.20 L499.00 589.17 L500.00 589.15 L501.00 589.12 L502.00 589.10 L503.00 589.07 L504.00 589.04 L505.00 589.01 L506.00 588.98 L507.00 588.95 L508.00 588.92 L509.00 588.88 L510.00 588.84 L511.00 588.81 L512.00 588.77 L513.00 588.73 L514.00 588.69 L515.00 588.64 L516.00 588.60 L517.00 588.55 L518.00 588.50 L519.00 588.45 L520.00 588.40 L521.00 588.34 L522.00 588.29 L523.00 588.23 L524.00 588.17 L525.00 588.10 L526.00 588.04 L527.00 587.97 L528.00 587.90 L529.00 587.82 L530.00 587.74 L531.00 587.66 L532.00 587.58 L533.00 587.49 L534.00 587.40 L535.00 587.31 L536.00 587.21 L537.00 587.11 L538.00 587.01 L539.00 586.90 L540.00 586.79 L541.00 586.67 L542.00 586.55 L543.00 586.42 L544.00 586.29 L545.00 586.15 L546.00 586.01 L547.00 585.86 L548.00 585.71 L549.00 585.55 L550.00 585.38 L551.00 585.21 L552.00 585.03 L553.00 584.85 L554.00 584.66 L555.00 584.46 L556.00 584.25 L557.00 584.04 L558.00 583.81 L559.00 583.58 L560.00 583.34 L561.00 583.09 L562.00 582.83 L563.00 582.56 L564.00 582.29 L565.00 582.00 L566.00 581.69 L567.00 581.38 L568.00 581.06 L569.00 580.72 L570.00 580.37 L571.00 580.01 L572.00 579.64 L573.00 579.25 L574.00 578.84 L575.00 578.42 L576.00 577.99 L577.00 577.54 L578.00 577.07 L579.00 576.58 L580.00 576.08 L581.00 575.56 L582.00 575.02 L583.00 574.46 L584.00 573.88 L585.00 573.28 L586.00 572.65 L587.00 572.00 L588.00 571.33 L589.00 570.64 L590.00 569.92 L591.00 569.18 L592.00 568.40 L593.00 567.60 L594.00 566.78 L595.00 565.92 L596.00 565.03 L597.00 564.12 L598.00 563.17 L599.00 562.18 L600.00 561.17 L601.00 560.12 L602.00 559.03 L603.00 557.90 L604.00 556.74 L605.00 555.54 L606.00 554.30 L607.00 553.02 L608.00 551.69 L609.00 550.32 L610.00 548.91 L611.00 547.45 L612.00 545.95 L613.00 544.39 L614.00 542.79 L615.00 541.14 L616.00 539.44 L617.00 537.68 L618.00 535.88 L619.00 534.01 L620.00 532.10 L621.00 530.12 L622.00 528.09 L623.00 526.00 L624.00 523.85 L625.00 521.64 L626.00 519.37 L627.00 517.04 L628.00 514.64 L629.00 512.19 L630.00 509.66 L631.00 507.08 L632.00 504.42 L633.00 501.71 L634.00 498.92 L635.00 496.07 L636.00 493.16 L637.00 490.18 L638.00 487.13 L639.00 484.01 L640.00 480.83 L641.00 477.58 L642.00 474.27 L643.00 470.89 L644.00 467.44 L645.00 463.94 L646.00 460.37 L647.00 456.73 L648.00 453.04 L649.00 449.29 L650.00 445.48 L651.00 441.61 L652.00 437.69 L653.00 433.71 L654.00 429.69 L655.00 425.61 L656.00 421.49 L657.00 417.32 L658.00 413.11 L659.00 408.86 L660.00 404.57 L661.00 400.25 L662.00 395.90 L663.00 391.52 L664.00 387.11 L665.00 382.68 L666.00 378.23 L667.00 373.76 L668.00 369.29 L669.00 364.80 L670.00 360.30 L671.00 355.80 L672.00 351.30 L673.00 346.80 L674.00 342.31 L675.00 337.84 L676.00 333.37 L677.00 328.92 L678.00 324.49 L679.00 320.08 L680.00 315.70 L681.00 311.35 L682.00 307.03 L683.00 302.74 L684.00 298.49 L685.00 294.28 L686.00 290.11 L687.00 285.99 L688.00 281.91 L689.00 277.89 L690.00 273.91 L691.00 269.99 L692.00 266.12 L693.00 262.31 L694.00 258.56 L695.00 254.87 L696.00 251.23 L697.00 247.66 L698.00 244.16 L699.00 240.71 L700.00 237.33 L701.00 234.02 L702.00 230.77 L703.00 227.59 L704.00 224.47 L705.00 221.42 L706.00 218.44 L707.00 215.53 L708.00 212.68 L709.00 209.89 L710.00 207.18 L711.00 204.52 L712.00 201.94 L713.00 199.41 L714.00 196.96 L715.00 194.56 L716.00 192.23 L717.00 189.96 L718.00 187.75 L719.00 185.60 L720.00 183.51 L721.00 181.48 L722.00 179.50 L723.00 177.59 L724.00 175.72 L725.00 173.92 L726.00 172.16 L727.00 170.46 L728.00 168.81 L729.00 167.21 L730.00 165.65 L731.00 164.15 L732.00 162.69 L733.00 161.28 L734.00 159.91 L735.00 158.58 L736.00 157.30 L737.00 156.06 L738.00 154.86 L739.00 153.70 L740.00 152.57 L741.00 151.48 L742.00 150.43 L743.00 149.42 L744.00 148.43 L745.00 147.48 L746.00 146.57 L747.00 145.68 L748.00 144.82 L749.00 144.00 L750.00 143.20 L751.00 142.42 L752.00 141.68 L753.00 140.96 L754.00 140.27 L755.00 139.60 L756.00 138.95 L757.00 138.32 L758.00 137.72 L759.00 137.14 L760.00 136.58 L761.00 136.04 L762.00 135.52 L763.00 135.02 L764.00 134.53 L765.00 134.06 L766.00 133.61 L767.00 133.18 L768.00 132.76 L769.00 132.35 L770.00 131.96 L771.00 131.59 L772.00 131.23 L773.00 130.88 L774.00 130.54 L775.00 130.22 L776.00 129.91 L777.00 129.60 L778.00 129.31 L779.00 129.04 L780.00 128.77 L781.00 128.51 L782.00 128.26 L783.00 128.02 L784.00 127.79 L785.00 127.56 L786.00 127.35 L787.00 127.14 L788.00 126.94 L789.00 126.75 L790.00 126.57 L791.00 126.39 L792.00 126.22 L793.00 126.05 L794.00 125.89 L795.00 125.74 L796.00 125.59 L797.00 125.45 L798.00 125.31 L799.00 125.18 L800.00 125.05 L801.00 124.93 L802.00 124.81 L803.00 124.70 L804.00 124.59 L805.00 124.49 L806.00 124.39 L807.00 124.29 L808.00 124.20 L809.00 124.11 L810.00 124.02 L811.00 123.94 L812.00 123.86 L813.00 123.78 L814.00 123.70 L815.00 123.63 L816.00 123.56 L817.00 123.50 L818.00 123.43 L819.00 123.37 L820.00 123.31 L821.00 123.26 L822.00 123.20 L823.00 123.15 L824.00 123.10 L825.00 123.05 L826.00 123.00 L827.00 122.96 L828.00 122.91 L829.00 122.87 L830.00 122.83 L831.00 122.79 L832.00 122.76 L833.00 122.72 L834.00 122.68 L835.00 122.65 L836.00 122.62 L837.00 122.59 L838.00 122.56 L839.00 122.53 L840.00 122.50 L841.00 122.48 L842.00 122.45 L843.00 122.43 L844.00 122.40 L845.00 122.38 L846.00 122.36 L847.00 122.34 L848.00 122.32 L849.00 122.30 L850.00 122.28 L851.00 122.26 L852.00 122.24 L853.00 122.23 L854.00 122.21 L855.00 122.19 L856.00 122.18 L857.00 122.17 L858.00 122.15 L859.00 122.14 L860.00 122.13 L861.00 122.11 L862.00 122.10 L863.00 122.09 L864.00 122.08 L865.00 122.07 L866.00 122.06 L867.00 122.05 L868.00 122.04 L869.00 122.03 L870.00 122.02 L871.00 122.01 L872.00 122.01 L873.00 122.00 L874.00 121.99 L875.00 121.98 L876.00 121.98 L877.00 121.97 L878.00 121.96 L879.00 121.96 L880.00 121.95 L881.00 121.95 L882.00 121.94 L883.00 121.93 L884.00 121.93 L885.00 121.92 L886.00 121.92 L887.00 121.92 L888.00 121.91 L889.00 121.91 L890.00 121.90 L891.00 121.90 L892.00 121.90 L893.00 121.89 L894.00 121.89 L895.00 121.88 L896.00 121.88 L897.00 121.88 L898.00 121.88 L899.00 121.87 L900.00 121.87 L901.00 121.87 L902.00 121.86 L903.00 121.86 L904.00 121.86 L905.00 121.86 L906.00 121.86 L907.00 121.85 L908.00 121.85 L909.00 121.85 L910.00 121.85 L911.00 121.85 L912.00 121.84 L913.00 121.84 L914.00 121.84 L915.00 121.84 L916.00 121.84 L917.00 121.84 L918.00 121.84 L919.00 121.83 L920.00 121.83 L921.00 121.83 L922.00 121.83 L923.00 121.83 L924.00 121.83 L925.00 121.83 L926.00 121.83 L927.00 121.82 L928.00 121.82 L929.00 121.82 L930.00 121.82 L931.00 121.82 L932.00 121.82 L933.00 121.82 L934.00 121.82 L935.00 121.82 L936.00 121.82 L937.00 121.82 L938.00 121.82 L939.00 121.82 L940.00 121.82 L941.00 121.81 L942.00 121.81 L943.00 121.81 L944.00 121.81 L945.00 121.81 L946.00 121.81 L947.00 121.81 L948.00 121.81 L949.00 121.81 L950.00 121.81 L951.00 121.81 L952.00 121.81 L953.00 121.81 L954.00 121.81 L955.00 121.81 L956.00 121.81 L957.00 121.81 L958.00 121.81 L959.00 121.81 L960.00 121.81 L961.00 121.81 L962.00 121.81 L963.00 121.81 L964.00 121.81 L965.00 121.81 L966.00 121.81 L967.00 121.81 L968.00 121.81 L969.00 121.80 L970.00 121.80 L971.00 121.80 L972.00 121.80 L973.00 121.80 L974.00 121.80 L975.00 121.80 L976.00 121.80 L977.00 121.80 L978.00 121.80 L979.00 121.80 L980.00 121.80 L981.00 121.80 L982.00 121.80 L983.00 121.80 L984.00 121.80 L985.00 121.80 L986.00 121.80 L987.00 121.80 L988.00 121.80 L989.00 121.80 L990.00 121.80 L991.00 121.80 L992.00 121.80 L993.00 121.80 L994.00 121.80 L995.00 121.80 L996.00 121.80 L997.00 121.80 L998.00 121.80 L999.00 121.80 L1000.00 121.80 L1001.00 121.80 L1002.00 121.80 L1003.00 121.80 L1004.00 121.80 L1005.00 121.80 L1006.00 121.80 L1007.00 121.80 L1008.00 121.80 L1009.00 121.80 L1010.00 121.80 L1011.00 121.80 L1012.00 121.80 L1013.00 121.80 L1014.00 121.80 L1015.00 121.80 L1016.00 121.80 L1017.00 121.80 L1018.00 121.80 L1019.00 121.80 L1020.00 121.80 L1021.00 121.80 L1022.00 121.80 L1023.00 121.80 L1024.00 121.80 L1025.00 121.80 L1026.00 121.80 L1027.00 121.80 L1028.00 121.80 L1029.00 121.80 L1030.00 121.80 L1031.00 121.80 L1032.00 121.80 L1033.00 121.80 L1034.00 121.80 L1035.00 121.80 L1036.00 121.80 L1037.00 121.80 L1038.00 121.80 L1039.00 121.80 L1040.00 121.80 L1041.00 121.80 L1042.00 121.80 L1043.00 121.80 L1044.00 121.80 L1045.00 121.80 L1046.00 121.80 L1047.00 121.80 L1048.00 121.80 L1049.00 121.80 L1050.00 121.80 L1051.00 121.80 L1052.00 121.80 L1053.00 121.80 L1054.00 121.80 L1055.00 121.80 L1056.00 121.80 L1057.00 121.80 L1058.00 121.80 L1059.00 121.80 L1060.00 121.80 L1061.00 121.80 L1062.00 121.80 L1063.00 121.80 L1064.00 121.80 L1065.00 121.80 L1066.00 121.80 L1067.00 121.80 L1068.00 121.80 L1069.00 121.80 L1070.00 121.80 L1071.00 121.80 L1072.00 121.80 L1073.00 121.80 L1074.00 121.80 L1075.00 121.80 L1076.00 121.80 L1077.00 121.80 L1078.00 121.80 L1079.00 121.80 L1080.00 121.80 L1081.00 121.80 L1082.00 121.80 L1083.00 121.80 L1084.00 121.80 L1085.00 121.80 L1086.00 121.80 L1087.00 121.80 L1088.00 121.80 L1089.00 121.80 L1090.00 121.80 L1091.00 121.80 L1092.00 121.80 L1093.00 121.80 L1094.00 121.80 L1095.00 121.80 L1096.00 121.80 L1097.00 121.80 L1098.00 121.80 L1099.00 121.80 L1100.00 121.80 L1101.00 121.80 L1102.00 121.80 L1103.00 121.80 L1104.00 121.80 L1105.00 121.80 L1106.00 121.80 L1107.00 121.80 L1108.00 121.80 L1109.00 121.80 L1110.00 121.80 L1111.00 121.80 L1112.00 121.80 L1113.00 121.80 L1114.00 121.80 L1115.00 121.80 L1116.00 121.80 L1117.00 121.80 L1117.50 121.80" fill="none" stroke="#ff0000" stroke-width="5.5" stroke-linecap="round" stroke-linejoin="round"/>
<text x="0.0" y="51.3" font-size="70" text-anchor="start" font-weight="bold" >(a)</text>
<text x="265.1" y="106.2" font-size="53.3" text-anchor="start" font-weight="normal" >500 mV</text>
<text x="189.2" y="189.0" font-size="53.3" text-anchor="end" font-weight="normal" >0.30</text>
<text x="189.2" y="356.1" font-size="53.3" text-anchor="end" font-weight="normal" >0.25</text>
<text x="189.2" y="522.6" font-size="53.3" text-anchor="end" font-weight="normal" >0.20</text>
<text transform="translate(40.2 318.8) rotate(-90)" font-size="53.3" text-anchor="middle">dI/dU (nS)</text>
<circle cx="809.2" cy="429.2" r="10.4" fill="#000"/>
<text x="846.6" y="448.7" font-size="53.3" text-anchor="start" font-weight="normal" >forward</text>
<circle cx="809.2" cy="500.4" r="10.4" fill="#0000ff"/>
<text x="844.8" y="518.9" font-size="53.3" text-anchor="start" font-weight="normal" >backward</text>
<line x1="785.60" y1="566.30" x2="832.00" y2="566.30" stroke="#ff0000" stroke-width="5.5" stroke-linecap="round"/>
<text x="846.6" y="588.6" font-size="53.3" text-anchor="start" font-weight="normal" >fit</text>
<rect x="212.60" y="690.70" width="903.80" height="665.80" fill="none" stroke="#000" stroke-width="2.5"/>
<line x1="212.60" y1="857.00" x2="224.60" y2="857.00" stroke="#000" stroke-width="2.5" stroke-linecap="butt"/>
<line x1="1116.40" y1="857.00" x2="1104.40" y2="857.00" stroke="#000" stroke-width="2.5" stroke-linecap="butt"/>
<line x1="212.60" y1="1023.60" x2="224.60" y2="1023.60" stroke="#000" stroke-width="2.5" stroke-linecap="butt"/>
<line x1="1116.40" y1="1023.60" x2="1104.40" y2="1023.60" stroke="#000" stroke-width="2.5" stroke-linecap="butt"/>
<line x1="212.60" y1="1189.80" x2="224.60" y2="1189.80" stroke="#000" stroke-width="2.5" stroke-linecap="butt"/>
<line x1="1116.40" y1="1189.80" x2="1104.40" y2="1189.80" stroke="#000" stroke-width="2.5" stroke-linecap="butt"/>
<line x1="212.60" y1="773.80" x2="218.60" y2="773.80" stroke="#000" stroke-width="2.5" stroke-linecap="butt"/>
<line x1="1116.40" y1="773.80" x2="1110.40" y2="773.80" stroke="#000" stroke-width="2.5" stroke-linecap="butt"/>
<line x1="212.60" y1="940.40" x2="218.60" y2="940.40" stroke="#000" stroke-width="2.5" stroke-linecap="butt"/>
<line x1="1116.40" y1="940.40" x2="1110.40" y2="940.40" stroke="#000" stroke-width="2.5" stroke-linecap="butt"/>
<line x1="212.60" y1="1106.80" x2="218.60" y2="1106.80" stroke="#000" stroke-width="2.5" stroke-linecap="butt"/>
<line x1="1116.40" y1="1106.80" x2="1110.40" y2="1106.80" stroke="#000" stroke-width="2.5" stroke-linecap="butt"/>
<line x1="212.60" y1="1273.20" x2="218.60" y2="1273.20" stroke="#000" stroke-width="2.5" stroke-linecap="butt"/>
<line x1="1116.40" y1="1273.20" x2="1110.40" y2="1273.20" stroke="#000" stroke-width="2.5" stroke-linecap="butt"/>
<line x1="283.20" y1="690.70" x2="283.20" y2="696.70" stroke="#000" stroke-width="2.5" stroke-linecap="butt"/>
<line x1="283.20" y1="1356.50" x2="283.20" y2="1350.50" stroke="#000" stroke-width="2.5" stroke-linecap="butt"/>
<line x1="353.80" y1="690.70" x2="353.80" y2="702.70" stroke="#000" stroke-width="2.5" stroke-linecap="butt"/>
<line x1="353.80" y1="1356.50" x2="353.80" y2="1344.50" stroke="#000" stroke-width="2.5" stroke-linecap="butt"/>
<line x1="424.40" y1="690.70" x2="424.40" y2="696.70" stroke="#000" stroke-width="2.5" stroke-linecap="butt"/>
<line x1="424.40" y1="1356.50" x2="424.40" y2="1350.50" stroke="#000" stroke-width="2.5" stroke-linecap="butt"/>
<line x1="495.00" y1="690.70" x2="495.00" y2="702.70" stroke="#000" stroke-width="2.5" stroke-linecap="butt"/>
<line x1="495.00" y1="1356.50" x2="495.00" y2="1344.50" stroke="#000" stroke-width="2.5" stroke-linecap="butt"/>
<line x1="565.60" y1="690.70" x2="565.60" y2="696.70" stroke="#000" stroke-width="2.5" stroke-linecap="butt"/>
<line x1="565.60" y1="1356.50" x2="565.60" y2="1350.50" stroke="#000" stroke-width="2.5" stroke-linecap="butt"/>
<line x1="636.20" y1="690.70" x2="636.20" y2="702.70" stroke="#000" stroke-width="2.5" stroke-linecap="butt"/>
<line x1="636.20" y1="1356.50" x2="636.20" y2="1344.50" stroke="#000" stroke-width="2.5" stroke-linecap="butt"/>
<line x1="706.80" y1="690.70" x2="706.80" y2="696.70" stroke="#000" stroke-width="2.5" stroke-linecap="butt"/>
<line x1="706.80" y1="1356.50" x2="706.80" y2="1350.50" stroke="#000" stroke-width="2.5" stroke-linecap="butt"/>
<line x1="777.40" y1="690.70" x2="777.40" y2="702.70" stroke="#000" stroke-width="2.5" stroke-linecap="butt"/>
<line x1="777.40" y1="1356.50" x2="777.40" y2="1344.50" stroke="#000" stroke-width="2.5" stroke-linecap="butt"/>
<line x1="848.00" y1="690.70" x2="848.00" y2="696.70" stroke="#000" stroke-width="2.5" stroke-linecap="butt"/>
<line x1="848.00" y1="1356.50" x2="848.00" y2="1350.50" stroke="#000" stroke-width="2.5" stroke-linecap="butt"/>
<line x1="918.60" y1="690.70" x2="918.60" y2="702.70" stroke="#000" stroke-width="2.5" stroke-linecap="butt"/>
<line x1="918.60" y1="1356.50" x2="918.60" y2="1344.50" stroke="#000" stroke-width="2.5" stroke-linecap="butt"/>
<line x1="989.20" y1="690.70" x2="989.20" y2="696.70" stroke="#000" stroke-width="2.5" stroke-linecap="butt"/>
<line x1="989.20" y1="1356.50" x2="989.20" y2="1350.50" stroke="#000" stroke-width="2.5" stroke-linecap="butt"/>
<line x1="1059.80" y1="690.70" x2="1059.80" y2="702.70" stroke="#000" stroke-width="2.5" stroke-linecap="butt"/>
<line x1="1059.80" y1="1356.50" x2="1059.80" y2="1344.50" stroke="#000" stroke-width="2.5" stroke-linecap="butt"/>
<g fill="#000"><circle cx="205.5" cy="1226.8" r="6"/><circle cx="201.0" cy="1221.8" r="3.6"/><circle cx="210.0" cy="1221.8" r="3.6"/><circle cx="201.0" cy="1231.8" r="3.6"/><circle cx="210.0" cy="1231.8" r="3.6"/><circle cx="205.5" cy="1220.3" r="3.6"/><circle cx="205.5" cy="1233.3" r="3.6"/><circle cx="208.2" cy="1214.7" r="6"/><circle cx="203.7" cy="1209.7" r="3.6"/><circle cx="212.7" cy="1209.7" r="3.6"/><circle cx="203.7" cy="1219.7" r="3.6"/><circle cx="212.7" cy="1219.7" r="3.6"/><circle cx="208.2" cy="1208.2" r="3.6"/><circle cx="208.2" cy="1221.2" r="3.6"/><circle cx="212.5" cy="1223.8" r="6"/><circle cx="208.0" cy="1218.8" r="3.6"/><circle cx="217.0" cy="1218.8" r="3.6"/><circle cx="208.0" cy="1228.8" r="3.6"/><circle cx="217.0" cy="1228.8" r="3.6"/><circle cx="212.5" cy="1217.3" r="3.6"/><circle cx="212.5" cy="1230.3" r="3.6"/><circle cx="216.0" cy="1217.8" r="6"/><circle cx="211.5" cy="1212.8" r="3.6"/><circle cx="220.5" cy="1212.8" r="3.6"/><circle cx="211.5" cy="1222.8" r="3.6"/><circle cx="220.5" cy="1222.8" r="3.6"/><circle cx="216.0" cy="1211.3" r="3.6"/><circle cx="216.0" cy="1224.3" r="3.6"/><circle cx="219.5" cy="1222.0" r="6"/><circle cx="215.0" cy="1217.0" r="3.6"/><circle cx="224.0" cy="1217.0" r="3.6"/><circle cx="215.0" cy="1227.0" r="3.6"/><circle cx="224.0" cy="1227.0" r="3.6"/><circle cx="219.5" cy="1215.5" r="3.6"/><circle cx="219.5" cy="1228.5" r="3.6"/><circle cx="223.1" cy="1215.7" r="6"/><circle cx="218.6" cy="1210.7" r="3.6"/><circle cx="227.6" cy="1210.7" r="3.6"/><circle cx="218.6" cy="1220.7" r="3.6"/><circle cx="227.6" cy="1220.7" r="3.6"/><circle cx="223.1" cy="1209.2" r="3.6"/><circle cx="223.1" cy="1222.2" r="3.6"/><circle cx="226.5" cy="1219.0" r="6"/><circle cx="222.0" cy="1214.0" r="3.6"/><circle cx="231.0" cy="1214.0" r="3.6"/><circle cx="222.0" cy="1224.0" r="3.6"/><circle cx="231.0" cy="1224.0" r="3.6"/><circle cx="226.5" cy="1212.5" r="3.6"/><circle cx="226.5" cy="1225.5" r="3.6"/><circle cx="230.4" cy="1227.5" r="6"/><circle cx="225.9" cy="1222.5" r="3.6"/><circle cx="234.9" cy="1222.5" r="3.6"/><circle cx="225.9" cy="1232.5" r="3.6"/><circle cx="234.9" cy="1232.5" r="3.6"/><circle cx="230.4" cy="1221.0" r="3.6"/><circle cx="230.4" cy="1234.0" r="3.6"/><circle cx="234.2" cy="1221.3" r="6"/><circle cx="229.7" cy="1216.3" r="3.6"/><circle cx="238.7" cy="1216.3" r="3.6"/><circle cx="229.7" cy="1226.3" r="3.6"/><circle cx="238.7" cy="1226.3" r="3.6"/><circle cx="234.2" cy="1214.8" r="3.6"/><circle cx="234.2" cy="1227.8" r="3.6"/><circle cx="237.3" cy="1217.5" r="6"/><circle cx="232.8" cy="1212.5" r="3.6"/><circle cx="241.8" cy="1212.5" r="3.6"/><circle cx="232.8" cy="1222.5" r="3.6"/><circle cx="241.8" cy="1222.5" r="3.6"/><circle cx="237.3" cy="1211.0" r="3.6"/><circle cx="237.3" cy="1224.0" r="3.6"/><circle cx="240.5" cy="1214.2" r="6"/><circle cx="236.0" cy="1209.2" r="3.6"/><circle cx="245.0" cy="1209.2" r="3.6"/><circle cx="236.0" cy="1219.2" r="3.6"/><circle cx="245.0" cy="1219.2" r="3.6"/><circle cx="240.5" cy="1207.7" r="3.6"/><circle cx="240.5" cy="1220.7" r="3.6"/><circle cx="244.6" cy="1218.3" r="6"/><circle cx="240.1" cy="1213.3" r="3.6"/><circle cx="249.1" cy="1213.3" r="3.6"/><circle cx="240.1" cy="1223.3" r="3.6"/><circle cx="249.1" cy="1223.3" r="3.6"/><circle cx="244.6" cy="1211.8" r="3.6"/><circle cx="244.6" cy="1224.8" r="3.6"/><circle cx="248.1" cy="1226.4" r="6"/><circle cx="243.6" cy="1221.4" r="3.6"/><circle cx="252.6" cy="1221.4" r="3.6"/><circle cx="243.6" cy="1231.4" r="3.6"/><circle cx="252.6" cy="1231.4" r="3.6"/><circle cx="248.1" cy="1219.9" r="3.6"/><circle cx="248.1" cy="1232.9" r="3.6"/><circle cx="251.8" cy="1221.5" r="6"/><circle cx="247.3" cy="1216.5" r="3.6"/><circle cx="256.3" cy="1216.5" r="3.6"/><circle cx="247.3" cy="1226.5" r="3.6"/><circle cx="256.3" cy="1226.5" r="3.6"/><circle cx="251.8" cy="1215.0" r="3.6"/><circle cx="251.8" cy="1228.0" r="3.6"/><circle cx="255.1" cy="1213.4" r="6"/><circle cx="250.6" cy="1208.4" r="3.6"/><circle cx="259.6" cy="1208.4" r="3.6"/><circle cx="250.6" cy="1218.4" r="3.6"/><circle cx="259.6" cy="1218.4" r="3.6"/><circle cx="255.1" cy="1206.9" r="3.6"/><circle cx="255.1" cy="1219.9" r="3.6"/><circle cx="258.8" cy="1214.3" r="6"/><circle cx="254.3" cy="1209.3" r="3.6"/><circle cx="263.3" cy="1209.3" r="3.6"/><circle cx="254.3" cy="1219.3" r="3.6"/><circle cx="263.3" cy="1219.3" r="3.6"/><circle cx="258.8" cy="1207.8" r="3.6"/><circle cx="258.8" cy="1220.8" r="3.6"/><circle cx="262.6" cy="1225.7" r="6"/><circle cx="258.1" cy="1220.7" r="3.6"/><circle cx="267.1" cy="1220.7" r="3.6"/><circle cx="258.1" cy="1230.7" r="3.6"/><circle cx="267.1" cy="1230.7" r="3.6"/><circle cx="262.6" cy="1219.2" r="3.6"/><circle cx="262.6" cy="1232.2" r="3.6"/><circle cx="266.4" cy="1213.6" r="6"/><circle cx="261.9" cy="1208.6" r="3.6"/><circle cx="270.9" cy="1208.6" r="3.6"/><circle cx="261.9" cy="1218.6" r="3.6"/><circle cx="270.9" cy="1218.6" r="3.6"/><circle cx="266.4" cy="1207.1" r="3.6"/><circle cx="266.4" cy="1220.1" r="3.6"/><circle cx="270.2" cy="1221.5" r="6"/><circle cx="265.7" cy="1216.5" r="3.6"/><circle cx="274.7" cy="1216.5" r="3.6"/><circle cx="265.7" cy="1226.5" r="3.6"/><circle cx="274.7" cy="1226.5" r="3.6"/><circle cx="270.2" cy="1215.0" r="3.6"/><circle cx="270.2" cy="1228.0" r="3.6"/><circle cx="273.6" cy="1222.4" r="6"/><circle cx="269.1" cy="1217.4" r="3.6"/><circle cx="278.1" cy="1217.4" r="3.6"/><circle cx="269.1" cy="1227.4" r="3.6"/><circle cx="278.1" cy="1227.4" r="3.6"/><circle cx="273.6" cy="1215.9" r="3.6"/><circle cx="273.6" cy="1228.9" r="3.6"/><circle cx="277.3" cy="1220.3" r="6"/><circle cx="272.8" cy="1215.3" r="3.6"/><circle cx="281.8" cy="1215.3" r="3.6"/><circle cx="272.8" cy="1225.3" r="3.6"/><circle cx="281.8" cy="1225.3" r="3.6"/><circle cx="277.3" cy="1213.8" r="3.6"/><circle cx="277.3" cy="1226.8" r="3.6"/><circle cx="280.5" cy="1222.5" r="6"/><circle cx="276.0" cy="1217.5" r="3.6"/><circle cx="285.0" cy="1217.5" r="3.6"/><circle cx="276.0" cy="1227.5" r="3.6"/><circle cx="285.0" cy="1227.5" r="3.6"/><circle cx="280.5" cy="1216.0" r="3.6"/><circle cx="280.5" cy="1229.0" r="3.6"/><circle cx="284.7" cy="1210.5" r="6"/><circle cx="280.2" cy="1205.5" r="3.6"/><circle cx="289.2" cy="1205.5" r="3.6"/><circle cx="280.2" cy="1215.5" r="3.6"/><circle cx="289.2" cy="1215.5" r="3.6"/><circle cx="284.7" cy="1204.0" r="3.6"/><circle cx="284.7" cy="1217.0" r="3.6"/><circle cx="288.1" cy="1217.8" r="6"/><circle cx="283.6" cy="1212.8" r="3.6"/><circle cx="292.6" cy="1212.8" r="3.6"/><circle cx="283.6" cy="1222.8" r="3.6"/><circle cx="292.6" cy="1222.8" r="3.6"/><circle cx="288.1" cy="1211.3" r="3.6"/><circle cx="288.1" cy="1224.3" r="3.6"/><circle cx="291.4" cy="1214.8" r="6"/><circle cx="286.9" cy="1209.8" r="3.6"/><circle cx="295.9" cy="1209.8" r="3.6"/><circle cx="286.9" cy="1219.8" r="3.6"/><circle cx="295.9" cy="1219.8" r="3.6"/><circle cx="291.4" cy="1208.3" r="3.6"/><circle cx="291.4" cy="1221.3" r="3.6"/><circle cx="295.0" cy="1219.9" r="6"/><circle cx="290.5" cy="1214.9" r="3.6"/><circle cx="299.5" cy="1214.9" r="3.6"/><circle cx="290.5" cy="1224.9" r="3.6"/><circle cx="299.5" cy="1224.9" r="3.6"/><circle cx="295.0" cy="1213.4" r="3.6"/><circle cx="295.0" cy="1226.4" r="3.6"/><circle cx="298.6" cy="1218.1" r="6"/><circle cx="294.1" cy="1213.1" r="3.6"/><circle cx="303.1" cy="1213.1" r="3.6"/><circle cx="294.1" cy="1223.1" r="3.6"/><circle cx="303.1" cy="1223.1" r="3.6"/><circle cx="298.6" cy="1211.6" r="3.6"/><circle cx="298.6" cy="1224.6" r="3.6"/><circle cx="302.1" cy="1218.4" r="6"/><circle cx="297.6" cy="1213.4" r="3.6"/><circle cx="306.6" cy="1213.4" r="3.6"/><circle cx="297.6" cy="1223.4" r="3.6"/><circle cx="306.6" cy="1223.4" r="3.6"/><circle cx="302.1" cy="1211.9" r="3.6"/><circle cx="302.1" cy="1224.9" r="3.6"/><circle cx="306.2" cy="1212.0" r="6"/><circle cx="301.7" cy="1207.0" r="3.6"/><circle cx="310.7" cy="1207.0" r="3.6"/><circle cx="301.7" cy="1217.0" r="3.6"/><circle cx="310.7" cy="1217.0" r="3.6"/><circle cx="306.2" cy="1205.5" r="3.6"/><circle cx="306.2" cy="1218.5" r="3.6"/><circle cx="309.5" cy="1218.0" r="6"/><circle cx="305.0" cy="1213.0" r="3.6"/><circle cx="314.0" cy="1213.0" r="3.6"/><circle cx="305.0" cy="1223.0" r="3.6"/><circle cx="314.0" cy="1223.0" r="3.6"/><circle cx="309.5" cy="1211.5" r="3.6"/><circle cx="309.5" cy="1224.5" r="3.6"/><circle cx="313.2" cy="1211.5" r="6"/><circle cx="308.7" cy="1206.5" r="3.6"/><circle cx="317.7" cy="1206.5" r="3.6"/><circle cx="308.7" cy="1216.5" r="3.6"/><circle cx="317.7" cy="1216.5" r="3.6"/><circle cx="313.2" cy="1205.0" r="3.6"/><circle cx="313.2" cy="1218.0" r="3.6"/><circle cx="316.3" cy="1209.2" r="6"/><circle cx="311.8" cy="1204.2" r="3.6"/><circle cx="320.8" cy="1204.2" r="3.6"/><circle cx="311.8" cy="1214.2" r="3.6"/><circle cx="320.8" cy="1214.2" r="3.6"/><circle cx="316.3" cy="1202.7" r="3.6"/><circle cx="316.3" cy="1215.7" r="3.6"/><circle cx="320.4" cy="1207.5" r="6"/><circle cx="315.9" cy="1202.5" r="3.6"/><circle cx="324.9" cy="1202.5" r="3.6"/><circle cx="315.9" cy="1212.5" r="3.6"/><circle cx="324.9" cy="1212.5" r="3.6"/><circle cx="320.4" cy="1201.0" r="3.6"/><circle cx="320.4" cy="1214.0" r="3.6"/><circle cx="324.2" cy="1209.4" r="6"/><circle cx="319.7" cy="1204.4" r="3.6"/><circle cx="328.7" cy="1204.4" r="3.6"/><circle cx="319.7" cy="1214.4" r="3.6"/><circle cx="328.7" cy="1214.4" r="3.6"/><circle cx="324.2" cy="1202.9" r="3.6"/><circle cx="324.2" cy="1215.9" r="3.6"/><circle cx="327.8" cy="1210.5" r="6"/><circle cx="323.3" cy="1205.5" r="3.6"/><circle cx="332.3" cy="1205.5" r="3.6"/><circle cx="323.3" cy="1215.5" r="3.6"/><circle cx="332.3" cy="1215.5" r="3.6"/><circle cx="327.8" cy="1204.0" r="3.6"/><circle cx="327.8" cy="1217.0" r="3.6"/><circle cx="331.5" cy="1216.5" r="6"/><circle cx="327.0" cy="1211.5" r="3.6"/><circle cx="336.0" cy="1211.5" r="3.6"/><circle cx="327.0" cy="1221.5" r="3.6"/><circle cx="336.0" cy="1221.5" r="3.6"/><circle cx="331.5" cy="1210.0" r="3.6"/><circle cx="331.5" cy="1223.0" r="3.6"/><circle cx="334.6" cy="1214.3" r="6"/><circle cx="330.1" cy="1209.3" r="3.6"/><circle cx="339.1" cy="1209.3" r="3.6"/><circle cx="330.1" cy="1219.3" r="3.6"/><circle cx="339.1" cy="1219.3" r="3.6"/><circle cx="334.6" cy="1207.8" r="3.6"/><circle cx="334.6" cy="1220.8" r="3.6"/><circle cx="338.4" cy="1215.7" r="6"/><circle cx="333.9" cy="1210.7" r="3.6"/><circle cx="342.9" cy="1210.7" r="3.6"/><circle cx="333.9" cy="1220.7" r="3.6"/><circle cx="342.9" cy="1220.7" r="3.6"/><circle cx="338.4" cy="1209.2" r="3.6"/><circle cx="338.4" cy="1222.2" r="3.6"/><circle cx="341.6" cy="1210.8" r="6"/><circle cx="337.1" cy="1205.8" r="3.6"/><circle cx="346.1" cy="1205.8" r="3.6"/><circle cx="337.1" cy="1215.8" r="3.6"/><circle cx="346.1" cy="1215.8" r="3.6"/><circle cx="341.6" cy="1204.3" r="3.6"/><circle cx="341.6" cy="1217.3" r="3.6"/><circle cx="345.4" cy="1221.5" r="6"/><circle cx="340.9" cy="1216.5" r="3.6"/><circle cx="349.9" cy="1216.5" r="3.6"/><circle cx="340.9" cy="1226.5" r="3.6"/><circle cx="349.9" cy="1226.5" r="3.6"/><circle cx="345.4" cy="1215.0" r="3.6"/><circle cx="345.4" cy="1228.0" r="3.6"/><circle cx="349.1" cy="1209.9" r="6"/><circle cx="344.6" cy="1204.9" r="3.6"/><circle cx="353.6" cy="1204.9" r="3.6"/><circle cx="344.6" cy="1214.9" r="3.6"/><circle cx="353.6" cy="1214.9" r="3.6"/><circle cx="349.1" cy="1203.4" r="3.6"/><circle cx="349.1" cy="1216.4" r="3.6"/><circle cx="352.9" cy="1219.4" r="6"/><circle cx="348.4" cy="1214.4" r="3.6"/><circle cx="357.4" cy="1214.4" r="3.6"/><circle cx="348.4" cy="1224.4" r="3.6"/><circle cx="357.4" cy="1224.4" r="3.6"/><circle cx="352.9" cy="1212.9" r="3.6"/><circle cx="352.9" cy="1225.9" r="3.6"/><circle cx="356.6" cy="1212.3" r="6"/><circle cx="352.1" cy="1207.3" r="3.6"/><circle cx="361.1" cy="1207.3" r="3.6"/><circle cx="352.1" cy="1217.3" r="3.6"/><circle cx="361.1" cy="1217.3" r="3.6"/><circle cx="356.6" cy="1205.8" r="3.6"/><circle cx="356.6" cy="1218.8" r="3.6"/><circle cx="360.0" cy="1210.7" r="6"/><circle cx="355.5" cy="1205.7" r="3.6"/><circle cx="364.5" cy="1205.7" r="3.6"/><circle cx="355.5" cy="1215.7" r="3.6"/><circle cx="364.5" cy="1215.7" r="3.6"/><circle cx="360.0" cy="1204.2" r="3.6"/><circle cx="360.0" cy="1217.2" r="3.6"/><circle cx="363.6" cy="1214.1" r="6"/><circle cx="359.1" cy="1209.1" r="3.6"/><circle cx="368.1" cy="1209.1" r="3.6"/><circle cx="359.1" cy="1219.1" r="3.6"/><circle cx="368.1" cy="1219.1" r="3.6"/><circle cx="363.6" cy="1207.6" r="3.6"/><circle cx="363.6" cy="1220.6" r="3.6"/><circle cx="366.7" cy="1222.8" r="6"/><circle cx="362.2" cy="1217.8" r="3.6"/><circle cx="371.2" cy="1217.8" r="3.6"/><circle cx="362.2" cy="1227.8" r="3.6"/><circle cx="371.2" cy="1227.8" r="3.6"/><circle cx="366.7" cy="1216.3" r="3.6"/><circle cx="366.7" cy="1229.3" r="3.6"/><circle cx="370.2" cy="1218.2" r="6"/><circle cx="365.7" cy="1213.2" r="3.6"/><circle cx="374.7" cy="1213.2" r="3.6"/><circle cx="365.7" cy="1223.2" r="3.6"/><circle cx="374.7" cy="1223.2" r="3.6"/><circle cx="370.2" cy="1211.7" r="3.6"/><circle cx="370.2" cy="1224.7" r="3.6"/><circle cx="374.6" cy="1214.7" r="6"/><circle cx="370.1" cy="1209.7" r="3.6"/><circle cx="379.1" cy="1209.7" r="3.6"/><circle cx="370.1" cy="1219.7" r="3.6"/><circle cx="379.1" cy="1219.7" r="3.6"/><circle cx="374.6" cy="1208.2" r="3.6"/><circle cx="374.6" cy="1221.2" r="3.6"/><circle cx="377.5" cy="1223.1" r="6"/><circle cx="373.0" cy="1218.1" r="3.6"/><circle cx="382.0" cy="1218.1" r="3.6"/><circle cx="373.0" cy="1228.1" r="3.6"/><circle cx="382.0" cy="1228.1" r="3.6"/><circle cx="377.5" cy="1216.6" r="3.6"/><circle cx="377.5" cy="1229.6" r="3.6"/><circle cx="381.3" cy="1219.9" r="6"/><circle cx="376.8" cy="1214.9" r="3.6"/><circle cx="385.8" cy="1214.9" r="3.6"/><circle cx="376.8" cy="1224.9" r="3.6"/><circle cx="385.8" cy="1224.9" r="3.6"/><circle cx="381.3" cy="1213.4" r="3.6"/><circle cx="381.3" cy="1226.4" r="3.6"/><circle cx="384.5" cy="1214.2" r="6"/><circle cx="380.0" cy="1209.2" r="3.6"/><circle cx="389.0" cy="1209.2" r="3.6"/><circle cx="380.0" cy="1219.2" r="3.6"/><circle cx="389.0" cy="1219.2" r="3.6"/><circle cx="384.5" cy="1207.7" r="3.6"/><circle cx="384.5" cy="1220.7" r="3.6"/><circle cx="388.3" cy="1217.7" r="6"/><circle cx="383.8" cy="1212.7" r="3.6"/><circle cx="392.8" cy="1212.7" r="3.6"/><circle cx="383.8" cy="1222.7" r="3.6"/><circle cx="392.8" cy="1222.7" r="3.6"/><circle cx="388.3" cy="1211.2" r="3.6"/><circle cx="388.3" cy="1224.2" r="3.6"/><circle cx="391.8" cy="1220.9" r="6"/><circle cx="387.3" cy="1215.9" r="3.6"/><circle cx="396.3" cy="1215.9" r="3.6"/><circle cx="387.3" cy="1225.9" r="3.6"/><circle cx="396.3" cy="1225.9" r="3.6"/><circle cx="391.8" cy="1214.4" r="3.6"/><circle cx="391.8" cy="1227.4" r="3.6"/><circle cx="395.3" cy="1217.0" r="6"/><circle cx="390.8" cy="1212.0" r="3.6"/><circle cx="399.8" cy="1212.0" r="3.6"/><circle cx="390.8" cy="1222.0" r="3.6"/><circle cx="399.8" cy="1222.0" r="3.6"/><circle cx="395.3" cy="1210.5" r="3.6"/><circle cx="395.3" cy="1223.5" r="3.6"/><circle cx="398.9" cy="1209.5" r="6"/><circle cx="394.4" cy="1204.5" r="3.6"/><circle cx="403.4" cy="1204.5" r="3.6"/><circle cx="394.4" cy="1214.5" r="3.6"/><circle cx="403.4" cy="1214.5" r="3.6"/><circle cx="398.9" cy="1203.0" r="3.6"/><circle cx="398.9" cy="1216.0" r="3.6"/><circle cx="403.3" cy="1208.0" r="6"/><circle cx="398.8" cy="1203.0" r="3.6"/><circle cx="407.8" cy="1203.0" r="3.6"/><circle cx="398.8" cy="1213.0" r="3.6"/><circle cx="407.8" cy="1213.0" r="3.6"/><circle cx="403.3" cy="1201.5" r="3.6"/><circle cx="403.3" cy="1214.5" r="3.6"/><circle cx="406.3" cy="1215.5" r="6"/><circle cx="401.8" cy="1210.5" r="3.6"/><circle cx="410.8" cy="1210.5" r="3.6"/><circle cx="401.8" cy="1220.5" r="3.6"/><circle cx="410.8" cy="1220.5" r="3.6"/><circle cx="406.3" cy="1209.0" r="3.6"/><circle cx="406.3" cy="1222.0" r="3.6"/><circle cx="410.1" cy="1206.6" r="6"/><circle cx="405.6" cy="1201.6" r="3.6"/><circle cx="414.6" cy="1201.6" r="3.6"/><circle cx="405.6" cy="1211.6" r="3.6"/><circle cx="414.6" cy="1211.6" r="3.6"/><circle cx="410.1" cy="1200.1" r="3.6"/><circle cx="410.1" cy="1213.1" r="3.6"/><circle cx="414.3" cy="1208.2" r="6"/><circle cx="409.8" cy="1203.2" r="3.6"/><circle cx="418.8" cy="1203.2" r="3.6"/><circle cx="409.8" cy="1213.2" r="3.6"/><circle cx="418.8" cy="1213.2" r="3.6"/><circle cx="414.3" cy="1201.7" r="3.6"/><circle cx="414.3" cy="1214.7" r="3.6"/><circle cx="416.9" cy="1210.9" r="6"/><circle cx="412.4" cy="1205.9" r="3.6"/><circle cx="421.4" cy="1205.9" r="3.6"/><circle cx="412.4" cy="1215.9" r="3.6"/><circle cx="421.4" cy="1215.9" r="3.6"/><circle cx="416.9" cy="1204.4" r="3.6"/><circle cx="416.9" cy="1217.4" r="3.6"/><circle cx="421.1" cy="1216.6" r="6"/><circle cx="416.6" cy="1211.6" r="3.6"/><circle cx="425.6" cy="1211.6" r="3.6"/><circle cx="416.6" cy="1221.6" r="3.6"/><circle cx="425.6" cy="1221.6" r="3.6"/><circle cx="421.1" cy="1210.1" r="3.6"/><circle cx="421.1" cy="1223.1" r="3.6"/><circle cx="424.2" cy="1211.0" r="6"/><circle cx="419.7" cy="1206.0" r="3.6"/><circle cx="428.7" cy="1206.0" r="3.6"/><circle cx="419.7" cy="1216.0" r="3.6"/><circle cx="428.7" cy="1216.0" r="3.6"/><circle cx="424.2" cy="1204.5" r="3.6"/><circle cx="424.2" cy="1217.5" r="3.6"/><circle cx="427.7" cy="1212.6" r="6"/><circle cx="423.2" cy="1207.6" r="3.6"/><circle cx="432.2" cy="1207.6" r="3.6"/><circle cx="423.2" cy="1217.6" r="3.6"/><circle cx="432.2" cy="1217.6" r="3.6"/><circle cx="427.7" cy="1206.1" r="3.6"/><circle cx="427.7" cy="1219.1" r="3.6"/><circle cx="432.1" cy="1216.7" r="6"/><circle cx="427.6" cy="1211.7" r="3.6"/><circle cx="436.6" cy="1211.7" r="3.6"/><circle cx="427.6" cy="1221.7" r="3.6"/><circle cx="436.6" cy="1221.7" r="3.6"/><circle cx="432.1" cy="1210.2" r="3.6"/><circle cx="432.1" cy="1223.2" r="3.6"/><circle cx="435.8" cy="1217.0" r="6"/><circle cx="431.3" cy="1212.0" r="3.6"/><circle cx="440.3" cy="1212.0" r="3.6"/><circle cx="431.3" cy="1222.0" r="3.6"/><circle cx="440.3" cy="1222.0" r="3.6"/><circle cx="435.8" cy="1210.5" r="3.6"/><circle cx="435.8" cy="1223.5" r="3.6"/><circle cx="439.4" cy="1216.3" r="6"/><circle cx="434.9" cy="1211.3" r="3.6"/><circle cx="443.9" cy="1211.3" r="3.6"/><circle cx="434.9" cy="1221.3" r="3.6"/><circle cx="443.9" cy="1221.3" r="3.6"/><circle cx="439.4" cy="1209.8" r="3.6"/><circle cx="439.4" cy="1222.8" r="3.6"/><circle cx="442.6" cy="1209.6" r="6"/><circle cx="438.1" cy="1204.6" r="3.6"/><circle cx="447.1" cy="1204.6" r="3.6"/><circle cx="438.1" cy="1214.6" r="3.6"/><circle cx="447.1" cy="1214.6" r="3.6"/><circle cx="442.6" cy="1203.1" r="3.6"/><circle cx="442.6" cy="1216.1" r="3.6"/><circle cx="446.4" cy="1210.9" r="6"/><circle cx="441.9" cy="1205.9" r="3.6"/><circle cx="450.9" cy="1205.9" r="3.6"/><circle cx="441.9" cy="1215.9" r="3.6"/><circle cx="450.9" cy="1215.9" r="3.6"/><circle cx="446.4" cy="1204.4" r="3.6"/><circle cx="446.4" cy="1217.4" r="3.6"/><circle cx="449.4" cy="1212.8" r="6"/><circle cx="444.9" cy="1207.8" r="3.6"/><circle cx="453.9" cy="1207.8" r="3.6"/><circle cx="444.9" cy="1217.8" r="3.6"/><circle cx="453.9" cy="1217.8" r="3.6"/><circle cx="449.4" cy="1206.3" r="3.6"/><circle cx="449.4" cy="1219.3" r="3.6"/><circle cx="453.8" cy="1207.3" r="6"/><circle cx="449.3" cy="1202.3" r="3.6"/><circle cx="458.3" cy="1202.3" r="3.6"/><circle cx="449.3" cy="1212.3" r="3.6"/><circle cx="458.3" cy="1212.3" r="3.6"/><circle cx="453.8" cy="1200.8" r="3.6"/><circle cx="453.8" cy="1213.8" r="3.6"/><circle cx="457.1" cy="1210.1" r="6"/><circle cx="452.6" cy="1205.1" r="3.6"/><circle cx="461.6" cy="1205.1" r="3.6"/><circle cx="452.6" cy="1215.1" r="3.6"/><circle cx="461.6" cy="1215.1" r="3.6"/><circle cx="457.1" cy="1203.6" r="3.6"/><circle cx="457.1" cy="1216.6" r="3.6"/><circle cx="460.6" cy="1205.6" r="6"/><circle cx="456.1" cy="1200.6" r="3.6"/><circle cx="465.1" cy="1200.6" r="3.6"/><circle cx="456.1" cy="1210.6" r="3.6"/><circle cx="465.1" cy="1210.6" r="3.6"/><circle cx="460.6" cy="1199.1" r="3.6"/><circle cx="460.6" cy="1212.1" r="3.6"/><circle cx="464.7" cy="1206.1" r="6"/><circle cx="460.2" cy="1201.1" r="3.6"/><circle cx="469.2" cy="1201.1" r="3.6"/><circle cx="460.2" cy="1211.1" r="3.6"/><circle cx="469.2" cy="1211.1" r="3.6"/><circle cx="464.7" cy="1199.6" r="3.6"/><circle cx="464.7" cy="1212.6" r="3.6"/><circle cx="467.9" cy="1207.4" r="6"/><circle cx="463.4" cy="1202.4" r="3.6"/><circle cx="472.4" cy="1202.4" r="3.6"/><circle cx="463.4" cy="1212.4" r="3.6"/><circle cx="472.4" cy="1212.4" r="3.6"/><circle cx="467.9" cy="1200.9" r="3.6"/><circle cx="467.9" cy="1213.9" r="3.6"/><circle cx="470.9" cy="1208.5" r="6"/><circle cx="466.4" cy="1203.5" r="3.6"/><circle cx="475.4" cy="1203.5" r="3.6"/><circle cx="466.4" cy="1213.5" r="3.6"/><circle cx="475.4" cy="1213.5" r="3.6"/><circle cx="470.9" cy="1202.0" r="3.6"/><circle cx="470.9" cy="1215.0" r="3.6"/><circle cx="474.6" cy="1200.5" r="6"/><circle cx="470.1" cy="1195.5" r="3.6"/><circle cx="479.1" cy="1195.5" r="3.6"/><circle cx="470.1" cy="1205.5" r="3.6"/><circle cx="479.1" cy="1205.5" r="3.6"/><circle cx="474.6" cy="1194.0" r="3.6"/><circle cx="474.6" cy="1207.0" r="3.6"/><circle cx="478.1" cy="1202.5" r="6"/><circle cx="473.6" cy="1197.5" r="3.6"/><circle cx="482.6" cy="1197.5" r="3.6"/><circle cx="473.6" cy="1207.5" r="3.6"/><circle cx="482.6" cy="1207.5" r="3.6"/><circle cx="478.1" cy="1196.0" r="3.6"/><circle cx="478.1" cy="1209.0" r="3.6"/><circle cx="481.8" cy="1209.8" r="6"/><circle cx="477.3" cy="1204.8" r="3.6"/><circle cx="486.3" cy="1204.8" r="3.6"/><circle cx="477.3" cy="1214.8" r="3.6"/><circle cx="486.3" cy="1214.8" r="3.6"/><circle cx="481.8" cy="1203.3" r="3.6"/><circle cx="481.8" cy="1216.3" r="3.6"/><circle cx="485.8" cy="1215.5" r="6"/><circle cx="481.3" cy="1210.5" r="3.6"/><circle cx="490.3" cy="1210.5" r="3.6"/><circle cx="481.3" cy="1220.5" r="3.6"/><circle cx="490.3" cy="1220.5" r="3.6"/><circle cx="485.8" cy="1209.0" r="3.6"/><circle cx="485.8" cy="1222.0" r="3.6"/><circle cx="489.8" cy="1216.5" r="6"/><circle cx="485.3" cy="1211.5" r="3.6"/><circle cx="494.3" cy="1211.5" r="3.6"/><circle cx="485.3" cy="1221.5" r="3.6"/><circle cx="494.3" cy="1221.5" r="3.6"/><circle cx="489.8" cy="1210.0" r="3.6"/><circle cx="489.8" cy="1223.0" r="3.6"/><circle cx="492.7" cy="1209.4" r="6"/><circle cx="488.2" cy="1204.4" r="3.6"/><circle cx="497.2" cy="1204.4" r="3.6"/><circle cx="488.2" cy="1214.4" r="3.6"/><circle cx="497.2" cy="1214.4" r="3.6"/><circle cx="492.7" cy="1202.9" r="3.6"/><circle cx="492.7" cy="1215.9" r="3.6"/><circle cx="496.4" cy="1212.2" r="6"/><circle cx="491.9" cy="1207.2" r="3.6"/><circle cx="500.9" cy="1207.2" r="3.6"/><circle cx="491.9" cy="1217.2" r="3.6"/><circle cx="500.9" cy="1217.2" r="3.6"/><circle cx="496.4" cy="1205.7" r="3.6"/><circle cx="496.4" cy="1218.7" r="3.6"/><circle cx="500.3" cy="1215.7" r="6"/><circle cx="495.8" cy="1210.7" r="3.6"/><circle cx="504.8" cy="1210.7" r="3.6"/><circle cx="495.8" cy="1220.7" r="3.6"/><circle cx="504.8" cy="1220.7" r="3.6"/><circle cx="500.3" cy="1209.2" r="3.6"/><circle cx="500.3" cy="1222.2" r="3.6"/><circle cx="504.0" cy="1206.5" r="6"/><circle cx="499.5" cy="1201.5" r="3.6"/><circle cx="508.5" cy="1201.5" r="3.6"/><circle cx="499.5" cy="1211.5" r="3.6"/><circle cx="508.5" cy="1211.5" r="3.6"/><circle cx="504.0" cy="1200.0" r="3.6"/><circle cx="504.0" cy="1213.0" r="3.6"/><circle cx="507.3" cy="1208.9" r="6"/><circle cx="502.8" cy="1203.9" r="3.6"/><circle cx="511.8" cy="1203.9" r="3.6"/><circle cx="502.8" cy="1213.9" r="3.6"/><circle cx="511.8" cy="1213.9" r="3.6"/><circle cx="507.3" cy="1202.4" r="3.6"/><circle cx="507.3" cy="1215.4" r="3.6"/><circle cx="510.5" cy="1200.6" r="6"/><circle cx="506.0" cy="1195.6" r="3.6"/><circle cx="515.0" cy="1195.6" r="3.6"/><circle cx="506.0" cy="1205.6" r="3.6"/><circle cx="515.0" cy="1205.6" r="3.6"/><circle cx="510.5" cy="1194.1" r="3.6"/><circle cx="510.5" cy="1207.1" r="3.6"/><circle cx="514.5" cy="1199.9" r="6"/><circle cx="510.0" cy="1194.9" r="3.6"/><circle cx="519.0" cy="1194.9" r="3.6"/><circle cx="510.0" cy="1204.9" r="3.6"/><circle cx="519.0" cy="1204.9" r="3.6"/><circle cx="514.5" cy="1193.4" r="3.6"/><circle cx="514.5" cy="1206.4" r="3.6"/><circle cx="518.4" cy="1202.3" r="6"/><circle cx="513.9" cy="1197.3" r="3.6"/><circle cx="522.9" cy="1197.3" r="3.6"/><circle cx="513.9" cy="1207.3" r="3.6"/><circle cx="522.9" cy="1207.3" r="3.6"/><circle cx="518.4" cy="1195.8" r="3.6"/><circle cx="518.4" cy="1208.8" r="3.6"/><circle cx="521.4" cy="1202.2" r="6"/><circle cx="516.9" cy="1197.2" r="3.6"/><circle cx="525.9" cy="1197.2" r="3.6"/><circle cx="516.9" cy="1207.2" r="3.6"/><circle cx="525.9" cy="1207.2" r="3.6"/><circle cx="521.4" cy="1195.7" r="3.6"/><circle cx="521.4" cy="1208.7" r="3.6"/><circle cx="525.1" cy="1203.5" r="6"/><circle cx="520.6" cy="1198.5" r="3.6"/><circle cx="529.6" cy="1198.5" r="3.6"/><circle cx="520.6" cy="1208.5" r="3.6"/><circle cx="529.6" cy="1208.5" r="3.6"/><circle cx="525.1" cy="1197.0" r="3.6"/><circle cx="525.1" cy="1210.0" r="3.6"/><circle cx="529.0" cy="1207.8" r="6"/><circle cx="524.5" cy="1202.8" r="3.6"/><circle cx="533.5" cy="1202.8" r="3.6"/><circle cx="524.5" cy="1212.8" r="3.6"/><circle cx="533.5" cy="1212.8" r="3.6"/><circle cx="529.0" cy="1201.3" r="3.6"/><circle cx="529.0" cy="1214.3" r="3.6"/><circle cx="532.4" cy="1211.1" r="6"/><circle cx="527.9" cy="1206.1" r="3.6"/><circle cx="536.9" cy="1206.1" r="3.6"/><circle cx="527.9" cy="1216.1" r="3.6"/><circle cx="536.9" cy="1216.1" r="3.6"/><circle cx="532.4" cy="1204.6" r="3.6"/><circle cx="532.4" cy="1217.6" r="3.6"/><circle cx="535.9" cy="1215.5" r="6"/><circle cx="531.4" cy="1210.5" r="3.6"/><circle cx="540.4" cy="1210.5" r="3.6"/><circle cx="531.4" cy="1220.5" r="3.6"/><circle cx="540.4" cy="1220.5" r="3.6"/><circle cx="535.9" cy="1209.0" r="3.6"/><circle cx="535.9" cy="1222.0" r="3.6"/><circle cx="540.3" cy="1213.9" r="6"/><circle cx="535.8" cy="1208.9" r="3.6"/><circle cx="544.8" cy="1208.9" r="3.6"/><circle cx="535.8" cy="1218.9" r="3.6"/><circle cx="544.8" cy="1218.9" r="3.6"/><circle cx="540.3" cy="1207.4" r="3.6"/><circle cx="540.3" cy="1220.4" r="3.6"/><circle cx="543.3" cy="1211.4" r="6"/><circle cx="538.8" cy="1206.4" r="3.6"/><circle cx="547.8" cy="1206.4" r="3.6"/><circle cx="538.8" cy="1216.4" r="3.6"/><circle cx="547.8" cy="1216.4" r="3.6"/><circle cx="543.3" cy="1204.9" r="3.6"/><circle cx="543.3" cy="1217.9" r="3.6"/><circle cx="547.1" cy="1205.7" r="6"/><circle cx="542.6" cy="1200.7" r="3.6"/><circle cx="551.6" cy="1200.7" r="3.6"/><circle cx="542.6" cy="1210.7" r="3.6"/><circle cx="551.6" cy="1210.7" r="3.6"/><circle cx="547.1" cy="1199.2" r="3.6"/><circle cx="547.1" cy="1212.2" r="3.6"/><circle cx="550.5" cy="1212.9" r="6"/><circle cx="546.0" cy="1207.9" r="3.6"/><circle cx="555.0" cy="1207.9" r="3.6"/><circle cx="546.0" cy="1217.9" r="3.6"/><circle cx="555.0" cy="1217.9" r="3.6"/><circle cx="550.5" cy="1206.4" r="3.6"/><circle cx="550.5" cy="1219.4" r="3.6"/><circle cx="553.9" cy="1207.1" r="6"/><circle cx="549.4" cy="1202.1" r="3.6"/><circle cx="558.4" cy="1202.1" r="3.6"/><circle cx="549.4" cy="1212.1" r="3.6"/><circle cx="558.4" cy="1212.1" r="3.6"/><circle cx="553.9" cy="1200.6" r="3.6"/><circle cx="553.9" cy="1213.6" r="3.6"/><circle cx="558.1" cy="1211.1" r="6"/><circle cx="553.6" cy="1206.1" r="3.6"/><circle cx="562.6" cy="1206.1" r="3.6"/><circle cx="553.6" cy="1216.1" r="3.6"/><circle cx="562.6" cy="1216.1" r="3.6"/><circle cx="558.1" cy="1204.6" r="3.6"/><circle cx="558.1" cy="1217.6" r="3.6"/><circle cx="561.4" cy="1219.0" r="6"/><circle cx="556.9" cy="1214.0" r="3.6"/><circle cx="565.9" cy="1214.0" r="3.6"/><circle cx="556.9" cy="1224.0" r="3.6"/><circle cx="565.9" cy="1224.0" r="3.6"/><circle cx="561.4" cy="1212.5" r="3.6"/><circle cx="561.4" cy="1225.5" r="3.6"/><circle cx="565.1" cy="1210.2" r="6"/><circle cx="560.6" cy="1205.2" r="3.6"/><circle cx="569.6" cy="1205.2" r="3.6"/><circle cx="560.6" cy="1215.2" r="3.6"/><circle cx="569.6" cy="1215.2" r="3.6"/><circle cx="565.1" cy="1203.7" r="3.6"/><circle cx="565.1" cy="1216.7" r="3.6"/><circle cx="569.1" cy="1210.9" r="6"/><circle cx="564.6" cy="1205.9" r="3.6"/><circle cx="573.6" cy="1205.9" r="3.6"/><circle cx="564.6" cy="1215.9" r="3.6"/><circle cx="573.6" cy="1215.9" r="3.6"/><circle cx="569.1" cy="1204.4" r="3.6"/><circle cx="569.1" cy="1217.4" r="3.6"/><circle cx="571.7" cy="1214.7" r="6"/><circle cx="567.2" cy="1209.7" r="3.6"/><circle cx="576.2" cy="1209.7" r="3.6"/><circle cx="567.2" cy="1219.7" r="3.6"/><circle cx="576.2" cy="1219.7" r="3.6"/><circle cx="571.7" cy="1208.2" r="3.6"/><circle cx="571.7" cy="1221.2" r="3.6"/><circle cx="575.4" cy="1208.4" r="6"/><circle cx="570.9" cy="1203.4" r="3.6"/><circle cx="579.9" cy="1203.4" r="3.6"/><circle cx="570.9" cy="1213.4" r="3.6"/><circle cx="579.9" cy="1213.4" r="3.6"/><circle cx="575.4" cy="1201.9" r="3.6"/><circle cx="575.4" cy="1214.9" r="3.6"/><circle cx="579.7" cy="1211.7" r="6"/><circle cx="575.2" cy="1206.7" r="3.6"/><circle cx="584.2" cy="1206.7" r="3.6"/><circle cx="575.2" cy="1216.7" r="3.6"/><circle cx="584.2" cy="1216.7" r="3.6"/><circle cx="579.7" cy="1205.2" r="3.6"/><circle cx="579.7" cy="1218.2" r="3.6"/><circle cx="582.5" cy="1207.3" r="6"/><circle cx="578.0" cy="1202.3" r="3.6"/><circle cx="587.0" cy="1202.3" r="3.6"/><circle cx="578.0" cy="1212.3" r="3.6"/><circle cx="587.0" cy="1212.3" r="3.6"/><circle cx="582.5" cy="1200.8" r="3.6"/><circle cx="582.5" cy="1213.8" r="3.6"/><circle cx="586.5" cy="1205.8" r="6"/><circle cx="582.0" cy="1200.8" r="3.6"/><circle cx="591.0" cy="1200.8" r="3.6"/><circle cx="582.0" cy="1210.8" r="3.6"/><circle cx="591.0" cy="1210.8" r="3.6"/><circle cx="586.5" cy="1199.3" r="3.6"/><circle cx="586.5" cy="1212.3" r="3.6"/><circle cx="590.4" cy="1198.0" r="6"/><circle cx="585.9" cy="1193.0" r="3.6"/><circle cx="594.9" cy="1193.0" r="3.6"/><circle cx="585.9" cy="1203.0" r="3.6"/><circle cx="594.9" cy="1203.0" r="3.6"/><circle cx="590.4" cy="1191.5" r="3.6"/><circle cx="590.4" cy="1204.5" r="3.6"/><circle cx="592.9" cy="1208.9" r="6"/><circle cx="588.4" cy="1203.9" r="3.6"/><circle cx="597.4" cy="1203.9" r="3.6"/><circle cx="588.4" cy="1213.9" r="3.6"/><circle cx="597.4" cy="1213.9" r="3.6"/><circle cx="592.9" cy="1202.4" r="3.6"/><circle cx="592.9" cy="1215.4" r="3.6"/><circle cx="598.3" cy="1195.9" r="6"/><circle cx="593.8" cy="1190.9" r="3.6"/><circle cx="602.8" cy="1190.9" r="3.6"/><circle cx="593.8" cy="1200.9" r="3.6"/><circle cx="602.8" cy="1200.9" r="3.6"/><circle cx="598.3" cy="1189.4" r="3.6"/><circle cx="598.3" cy="1202.4" r="3.6"/><circle cx="600.5" cy="1198.4" r="6"/><circle cx="596.0" cy="1193.4" r="3.6"/><circle cx="605.0" cy="1193.4" r="3.6"/><circle cx="596.0" cy="1203.4" r="3.6"/><circle cx="605.0" cy="1203.4" r="3.6"/><circle cx="600.5" cy="1191.9" r="3.6"/><circle cx="600.5" cy="1204.9" r="3.6"/><circle cx="604.3" cy="1191.2" r="6"/><circle cx="599.8" cy="1186.2" r="3.6"/><circle cx="608.8" cy="1186.2" r="3.6"/><circle cx="599.8" cy="1196.2" r="3.6"/><circle cx="608.8" cy="1196.2" r="3.6"/><circle cx="604.3" cy="1184.7" r="3.6"/><circle cx="604.3" cy="1197.7" r="3.6"/><circle cx="605.7" cy="1200.4" r="6"/><circle cx="601.2" cy="1195.4" r="3.6"/><circle cx="610.2" cy="1195.4" r="3.6"/><circle cx="601.2" cy="1205.4" r="3.6"/><circle cx="610.2" cy="1205.4" r="3.6"/><circle cx="605.7" cy="1193.9" r="3.6"/><circle cx="605.7" cy="1206.9" r="3.6"/><circle cx="614.2" cy="1191.2" r="6"/><circle cx="609.7" cy="1186.2" r="3.6"/><circle cx="618.7" cy="1186.2" r="3.6"/><circle cx="609.7" cy="1196.2" r="3.6"/><circle cx="618.7" cy="1196.2" r="3.6"/><circle cx="614.2" cy="1184.7" r="3.6"/><circle cx="614.2" cy="1197.7" r="3.6"/><circle cx="615.7" cy="1188.2" r="6"/><circle cx="611.2" cy="1183.2" r="3.6"/><circle cx="620.2" cy="1183.2" r="3.6"/><circle cx="611.2" cy="1193.2" r="3.6"/><circle cx="620.2" cy="1193.2" r="3.6"/><circle cx="615.7" cy="1181.7" r="3.6"/><circle cx="615.7" cy="1194.7" r="3.6"/><circle cx="619.2" cy="1182.8" r="6"/><circle cx="614.7" cy="1177.8" r="3.6"/><circle cx="623.7" cy="1177.8" r="3.6"/><circle cx="614.7" cy="1187.8" r="3.6"/><circle cx="623.7" cy="1187.8" r="3.6"/><circle cx="619.2" cy="1176.3" r="3.6"/><circle cx="619.2" cy="1189.3" r="3.6"/><circle cx="624.1" cy="1176.5" r="6"/><circle cx="619.6" cy="1171.5" r="3.6"/><circle cx="628.6" cy="1171.5" r="3.6"/><circle cx="619.6" cy="1181.5" r="3.6"/><circle cx="628.6" cy="1181.5" r="3.6"/><circle cx="624.1" cy="1170.0" r="3.6"/><circle cx="624.1" cy="1183.0" r="3.6"/><circle cx="626.1" cy="1176.4" r="6"/><circle cx="621.6" cy="1171.4" r="3.6"/><circle cx="630.6" cy="1171.4" r="3.6"/><circle cx="621.6" cy="1181.4" r="3.6"/><circle cx="630.6" cy="1181.4" r="3.6"/><circle cx="626.1" cy="1169.9" r="3.6"/><circle cx="626.1" cy="1182.9" r="3.6"/><circle cx="632.3" cy="1166.4" r="6"/><circle cx="627.8" cy="1161.4" r="3.6"/><circle cx="636.8" cy="1161.4" r="3.6"/><circle cx="627.8" cy="1171.4" r="3.6"/><circle cx="636.8" cy="1171.4" r="3.6"/><circle cx="632.3" cy="1159.9" r="3.6"/><circle cx="632.3" cy="1172.9" r="3.6"/><circle cx="631.9" cy="1165.7" r="6"/><circle cx="627.4" cy="1160.7" r="3.6"/><circle cx="636.4" cy="1160.7" r="3.6"/><circle cx="627.4" cy="1170.7" r="3.6"/><circle cx="636.4" cy="1170.7" r="3.6"/><circle cx="631.9" cy="1159.2" r="3.6"/><circle cx="631.9" cy="1172.2" r="3.6"/><circle cx="636.4" cy="1158.2" r="6"/><circle cx="631.9" cy="1153.2" r="3.6"/><circle cx="640.9" cy="1153.2" r="3.6"/><circle cx="631.9" cy="1163.2" r="3.6"/><circle cx="640.9" cy="1163.2" r="3.6"/><circle cx="636.4" cy="1151.7" r="3.6"/><circle cx="636.4" cy="1164.7" r="3.6"/><circle cx="641.4" cy="1148.3" r="6"/><circle cx="636.9" cy="1143.3" r="3.6"/><circle cx="645.9" cy="1143.3" r="3.6"/><circle cx="636.9" cy="1153.3" r="3.6"/><circle cx="645.9" cy="1153.3" r="3.6"/><circle cx="641.4" cy="1141.8" r="3.6"/><circle cx="641.4" cy="1154.8" r="3.6"/><circle cx="643.1" cy="1145.4" r="6"/><circle cx="638.6" cy="1140.4" r="3.6"/><circle cx="647.6" cy="1140.4" r="3.6"/><circle cx="638.6" cy="1150.4" r="3.6"/><circle cx="647.6" cy="1150.4" r="3.6"/><circle cx="643.1" cy="1138.9" r="3.6"/><circle cx="643.1" cy="1151.9" r="3.6"/><circle cx="647.0" cy="1132.0" r="6"/><circle cx="642.5" cy="1127.0" r="3.6"/><circle cx="651.5" cy="1127.0" r="3.6"/><circle cx="642.5" cy="1137.0" r="3.6"/><circle cx="651.5" cy="1137.0" r="3.6"/><circle cx="647.0" cy="1125.5" r="3.6"/><circle cx="647.0" cy="1138.5" r="3.6"/><circle cx="653.0" cy="1119.3" r="6"/><circle cx="648.5" cy="1114.3" r="3.6"/><circle cx="657.5" cy="1114.3" r="3.6"/><circle cx="648.5" cy="1124.3" r="3.6"/><circle cx="657.5" cy="1124.3" r="3.6"/><circle cx="653.0" cy="1112.8" r="3.6"/><circle cx="653.0" cy="1125.8" r="3.6"/><circle cx="653.3" cy="1115.6" r="6"/><circle cx="648.8" cy="1110.6" r="3.6"/><circle cx="657.8" cy="1110.6" r="3.6"/><circle cx="648.8" cy="1120.6" r="3.6"/><circle cx="657.8" cy="1120.6" r="3.6"/><circle cx="653.3" cy="1109.1" r="3.6"/><circle cx="653.3" cy="1122.1" r="3.6"/><circle cx="659.2" cy="1098.5" r="6"/><circle cx="654.7" cy="1093.5" r="3.6"/><circle cx="663.7" cy="1093.5" r="3.6"/><circle cx="654.7" cy="1103.5" r="3.6"/><circle cx="663.7" cy="1103.5" r="3.6"/><circle cx="659.2" cy="1092.0" r="3.6"/><circle cx="659.2" cy="1105.0" r="3.6"/><circle cx="662.3" cy="1085.6" r="6"/><circle cx="657.8" cy="1080.6" r="3.6"/><circle cx="666.8" cy="1080.6" r="3.6"/><circle cx="657.8" cy="1090.6" r="3.6"/><circle cx="666.8" cy="1090.6" r="3.6"/><circle cx="662.3" cy="1079.1" r="3.6"/><circle cx="662.3" cy="1092.1" r="3.6"/><circle cx="668.1" cy="1066.5" r="6"/><circle cx="663.6" cy="1061.5" r="3.6"/><circle cx="672.6" cy="1061.5" r="3.6"/><circle cx="663.6" cy="1071.5" r="3.6"/><circle cx="672.6" cy="1071.5" r="3.6"/><circle cx="668.1" cy="1060.0" r="3.6"/><circle cx="668.1" cy="1073.0" r="3.6"/><circle cx="669.1" cy="1062.5" r="6"/><circle cx="664.6" cy="1057.5" r="3.6"/><circle cx="673.6" cy="1057.5" r="3.6"/><circle cx="664.6" cy="1067.5" r="3.6"/><circle cx="673.6" cy="1067.5" r="3.6"/><circle cx="669.1" cy="1056.0" r="3.6"/><circle cx="669.1" cy="1069.0" r="3.6"/><circle cx="674.7" cy="1038.6" r="6"/><circle cx="670.2" cy="1033.6" r="3.6"/><circle cx="679.2" cy="1033.6" r="3.6"/><circle cx="670.2" cy="1043.6" r="3.6"/><circle cx="679.2" cy="1043.6" r="3.6"/><circle cx="674.7" cy="1032.1" r="3.6"/><circle cx="674.7" cy="1045.1" r="3.6"/><circle cx="676.3" cy="1034.0" r="6"/><circle cx="671.8" cy="1029.0" r="3.6"/><circle cx="680.8" cy="1029.0" r="3.6"/><circle cx="671.8" cy="1039.0" r="3.6"/><circle cx="680.8" cy="1039.0" r="3.6"/><circle cx="676.3" cy="1027.5" r="3.6"/><circle cx="676.3" cy="1040.5" r="3.6"/><circle cx="680.9" cy="1011.2" r="6"/><circle cx="676.4" cy="1006.2" r="3.6"/><circle cx="685.4" cy="1006.2" r="3.6"/><circle cx="676.4" cy="1016.2" r="3.6"/><circle cx="685.4" cy="1016.2" r="3.6"/><circle cx="680.9" cy="1004.7" r="3.6"/><circle cx="680.9" cy="1017.7" r="3.6"/><circle cx="681.4" cy="1010.7" r="6"/><circle cx="676.9" cy="1005.7" r="3.6"/><circle cx="685.9" cy="1005.7" r="3.6"/><circle cx="676.9" cy="1015.7" r="3.6"/><circle cx="685.9" cy="1015.7" r="3.6"/><circle cx="681.4" cy="1004.2" r="3.6"/><circle cx="681.4" cy="1017.2" r="3.6"/><circle cx="686.2" cy="989.3" r="6"/><circle cx="681.7" cy="984.3" r="3.6"/><circle cx="690.7" cy="984.3" r="3.6"/><circle cx="681.7" cy="994.3" r="3.6"/><circle cx="690.7" cy="994.3" r="3.6"/><circle cx="686.2" cy="982.8" r="3.6"/><circle cx="686.2" cy="995.8" r="3.6"/><circle cx="690.5" cy="971.1" r="6"/><circle cx="686.0" cy="966.1" r="3.6"/><circle cx="695.0" cy="966.1" r="3.6"/><circle cx="686.0" cy="976.1" r="3.6"/><circle cx="695.0" cy="976.1" r="3.6"/><circle cx="690.5" cy="964.6" r="3.6"/><circle cx="690.5" cy="977.6" r="3.6"/><circle cx="696.1" cy="946.0" r="6"/><circle cx="691.6" cy="941.0" r="3.6"/><circle cx="700.6" cy="941.0" r="3.6"/><circle cx="691.6" cy="951.0" r="3.6"/><circle cx="700.6" cy="951.0" r="3.6"/><circle cx="696.1" cy="939.5" r="3.6"/><circle cx="696.1" cy="952.5" r="3.6"/><circle cx="697.8" cy="939.6" r="6"/><circle cx="693.3" cy="934.6" r="3.6"/><circle cx="702.3" cy="934.6" r="3.6"/><circle cx="693.3" cy="944.6" r="3.6"/><circle cx="702.3" cy="944.6" r="3.6"/><circle cx="697.8" cy="933.1" r="3.6"/><circle cx="697.8" cy="946.1" r="3.6"/><circle cx="703.3" cy="917.6" r="6"/><circle cx="698.8" cy="912.6" r="3.6"/><circle cx="707.8" cy="912.6" r="3.6"/><circle cx="698.8" cy="922.6" r="3.6"/><circle cx="707.8" cy="922.6" r="3.6"/><circle cx="703.3" cy="911.1" r="3.6"/><circle cx="703.3" cy="924.1" r="3.6"/><circle cx="705.7" cy="906.1" r="6"/><circle cx="701.2" cy="901.1" r="3.6"/><circle cx="710.2" cy="901.1" r="3.6"/><circle cx="701.2" cy="911.1" r="3.6"/><circle cx="710.2" cy="911.1" r="3.6"/><circle cx="705.7" cy="899.6" r="3.6"/><circle cx="705.7" cy="912.6" r="3.6"/><circle cx="711.6" cy="885.4" r="6"/><circle cx="707.1" cy="880.4" r="3.6"/><circle cx="716.1" cy="880.4" r="3.6"/><circle cx="707.1" cy="890.4" r="3.6"/><circle cx="716.1" cy="890.4" r="3.6"/><circle cx="711.6" cy="878.9" r="3.6"/><circle cx="711.6" cy="891.9" r="3.6"/><circle cx="711.9" cy="884.3" r="6"/><circle cx="707.4" cy="879.3" r="3.6"/><circle cx="716.4" cy="879.3" r="3.6"/><circle cx="707.4" cy="889.3" r="3.6"/><circle cx="716.4" cy="889.3" r="3.6"/><circle cx="711.9" cy="877.8" r="3.6"/><circle cx="711.9" cy="890.8" r="3.6"/><circle cx="717.3" cy="866.6" r="6"/><circle cx="712.8" cy="861.6" r="3.6"/><circle cx="721.8" cy="861.6" r="3.6"/><circle cx="712.8" cy="871.6" r="3.6"/><circle cx="721.8" cy="871.6" r="3.6"/><circle cx="717.3" cy="860.1" r="3.6"/><circle cx="717.3" cy="873.1" r="3.6"/><circle cx="721.5" cy="853.4" r="6"/><circle cx="717.0" cy="848.4" r="3.6"/><circle cx="726.0" cy="848.4" r="3.6"/><circle cx="717.0" cy="858.4" r="3.6"/><circle cx="726.0" cy="858.4" r="3.6"/><circle cx="721.5" cy="846.9" r="3.6"/><circle cx="721.5" cy="859.9" r="3.6"/><circle cx="725.5" cy="842.9" r="6"/><circle cx="721.0" cy="837.9" r="3.6"/><circle cx="730.0" cy="837.9" r="3.6"/><circle cx="721.0" cy="847.9" r="3.6"/><circle cx="730.0" cy="847.9" r="3.6"/><circle cx="725.5" cy="836.4" r="3.6"/><circle cx="725.5" cy="849.4" r="3.6"/><circle cx="728.2" cy="835.6" r="6"/><circle cx="723.7" cy="830.6" r="3.6"/><circle cx="732.7" cy="830.6" r="3.6"/><circle cx="723.7" cy="840.6" r="3.6"/><circle cx="732.7" cy="840.6" r="3.6"/><circle cx="728.2" cy="829.1" r="3.6"/><circle cx="728.2" cy="842.1" r="3.6"/><circle cx="731.5" cy="826.9" r="6"/><circle cx="727.0" cy="821.9" r="3.6"/><circle cx="736.0" cy="821.9" r="3.6"/><circle cx="727.0" cy="831.9" r="3.6"/><circle cx="736.0" cy="831.9" r="3.6"/><circle cx="731.5" cy="820.4" r="3.6"/><circle cx="731.5" cy="833.4" r="3.6"/><circle cx="735.4" cy="816.7" r="6"/><circle cx="730.9" cy="811.7" r="3.6"/><circle cx="739.9" cy="811.7" r="3.6"/><circle cx="730.9" cy="821.7" r="3.6"/><circle cx="739.9" cy="821.7" r="3.6"/><circle cx="735.4" cy="810.2" r="3.6"/><circle cx="735.4" cy="823.2" r="3.6"/><circle cx="737.6" cy="812.8" r="6"/><circle cx="733.1" cy="807.8" r="3.6"/><circle cx="742.1" cy="807.8" r="3.6"/><circle cx="733.1" cy="817.8" r="3.6"/><circle cx="742.1" cy="817.8" r="3.6"/><circle cx="737.6" cy="806.3" r="3.6"/><circle cx="737.6" cy="819.3" r="3.6"/><circle cx="741.3" cy="805.8" r="6"/><circle cx="736.8" cy="800.8" r="3.6"/><circle cx="745.8" cy="800.8" r="3.6"/><circle cx="736.8" cy="810.8" r="3.6"/><circle cx="745.8" cy="810.8" r="3.6"/><circle cx="741.3" cy="799.3" r="3.6"/><circle cx="741.3" cy="812.3" r="3.6"/><circle cx="743.3" cy="801.6" r="6"/><circle cx="738.8" cy="796.6" r="3.6"/><circle cx="747.8" cy="796.6" r="3.6"/><circle cx="738.8" cy="806.6" r="3.6"/><circle cx="747.8" cy="806.6" r="3.6"/><circle cx="743.3" cy="795.1" r="3.6"/><circle cx="743.3" cy="808.1" r="3.6"/><circle cx="750.3" cy="794.1" r="6"/><circle cx="745.8" cy="789.1" r="3.6"/><circle cx="754.8" cy="789.1" r="3.6"/><circle cx="745.8" cy="799.1" r="3.6"/><circle cx="754.8" cy="799.1" r="3.6"/><circle cx="750.3" cy="787.6" r="3.6"/><circle cx="750.3" cy="800.6" r="3.6"/><circle cx="752.4" cy="791.5" r="6"/><circle cx="747.9" cy="786.5" r="3.6"/><circle cx="756.9" cy="786.5" r="3.6"/><circle cx="747.9" cy="796.5" r="3.6"/><circle cx="756.9" cy="796.5" r="3.6"/><circle cx="752.4" cy="785.0" r="3.6"/><circle cx="752.4" cy="798.0" r="3.6"/><circle cx="754.5" cy="788.3" r="6"/><circle cx="750.0" cy="783.3" r="3.6"/><circle cx="759.0" cy="783.3" r="3.6"/><circle cx="750.0" cy="793.3" r="3.6"/><circle cx="759.0" cy="793.3" r="3.6"/><circle cx="754.5" cy="781.8" r="3.6"/><circle cx="754.5" cy="794.8" r="3.6"/><circle cx="756.8" cy="786.8" r="6"/><circle cx="752.3" cy="781.8" r="3.6"/><circle cx="761.3" cy="781.8" r="3.6"/><circle cx="752.3" cy="791.8" r="3.6"/><circle cx="761.3" cy="791.8" r="3.6"/><circle cx="756.8" cy="780.3" r="3.6"/><circle cx="756.8" cy="793.3" r="3.6"/><circle cx="763.9" cy="783.1" r="6"/><circle cx="759.4" cy="778.1" r="3.6"/><circle cx="768.4" cy="778.1" r="3.6"/><circle cx="759.4" cy="788.1" r="3.6"/><circle cx="768.4" cy="788.1" r="3.6"/><circle cx="763.9" cy="776.6" r="3.6"/><circle cx="763.9" cy="789.6" r="3.6"/><circle cx="767.4" cy="780.4" r="6"/><circle cx="762.9" cy="775.4" r="3.6"/><circle cx="771.9" cy="775.4" r="3.6"/><circle cx="762.9" cy="785.4" r="3.6"/><circle cx="771.9" cy="785.4" r="3.6"/><circle cx="767.4" cy="773.9" r="3.6"/><circle cx="767.4" cy="786.9" r="3.6"/><circle cx="770.6" cy="769.0" r="6"/><circle cx="766.1" cy="764.0" r="3.6"/><circle cx="775.1" cy="764.0" r="3.6"/><circle cx="766.1" cy="774.0" r="3.6"/><circle cx="775.1" cy="774.0" r="3.6"/><circle cx="770.6" cy="762.5" r="3.6"/><circle cx="770.6" cy="775.5" r="3.6"/><circle cx="773.5" cy="770.2" r="6"/><circle cx="769.0" cy="765.2" r="3.6"/><circle cx="778.0" cy="765.2" r="3.6"/><circle cx="769.0" cy="775.2" r="3.6"/><circle cx="778.0" cy="775.2" r="3.6"/><circle cx="773.5" cy="763.7" r="3.6"/><circle cx="773.5" cy="776.7" r="3.6"/><circle cx="777.4" cy="766.0" r="6"/><circle cx="772.9" cy="761.0" r="3.6"/><circle cx="781.9" cy="761.0" r="3.6"/><circle cx="772.9" cy="771.0" r="3.6"/><circle cx="781.9" cy="771.0" r="3.6"/><circle cx="777.4" cy="759.5" r="3.6"/><circle cx="777.4" cy="772.5" r="3.6"/><circle cx="780.5" cy="767.1" r="6"/><circle cx="776.0" cy="762.1" r="3.6"/><circle cx="785.0" cy="762.1" r="3.6"/><circle cx="776.0" cy="772.1" r="3.6"/><circle cx="785.0" cy="772.1" r="3.6"/><circle cx="780.5" cy="760.6" r="3.6"/><circle cx="780.5" cy="773.6" r="3.6"/><circle cx="785.1" cy="760.5" r="6"/><circle cx="780.6" cy="755.5" r="3.6"/><circle cx="789.6" cy="755.5" r="3.6"/><circle cx="780.6" cy="765.5" r="3.6"/><circle cx="789.6" cy="765.5" r="3.6"/><circle cx="785.1" cy="754.0" r="3.6"/><circle cx="785.1" cy="767.0" r="3.6"/><circle cx="788.2" cy="759.0" r="6"/><circle cx="783.7" cy="754.0" r="3.6"/><circle cx="792.7" cy="754.0" r="3.6"/><circle cx="783.7" cy="764.0" r="3.6"/><circle cx="792.7" cy="764.0" r="3.6"/><circle cx="788.2" cy="752.5" r="3.6"/><circle cx="788.2" cy="765.5" r="3.6"/><circle cx="791.7" cy="764.2" r="6"/><circle cx="787.2" cy="759.2" r="3.6"/><circle cx="796.2" cy="759.2" r="3.6"/><circle cx="787.2" cy="769.2" r="3.6"/><circle cx="796.2" cy="769.2" r="3.6"/><circle cx="791.7" cy="757.7" r="3.6"/><circle cx="791.7" cy="770.7" r="3.6"/><circle cx="795.2" cy="759.8" r="6"/><circle cx="790.7" cy="754.8" r="3.6"/><circle cx="799.7" cy="754.8" r="3.6"/><circle cx="790.7" cy="764.8" r="3.6"/><circle cx="799.7" cy="764.8" r="3.6"/><circle cx="795.2" cy="753.3" r="3.6"/><circle cx="795.2" cy="766.3" r="3.6"/><circle cx="799.0" cy="757.9" r="6"/><circle cx="794.5" cy="752.9" r="3.6"/><circle cx="803.5" cy="752.9" r="3.6"/><circle cx="794.5" cy="762.9" r="3.6"/><circle cx="803.5" cy="762.9" r="3.6"/><circle cx="799.0" cy="751.4" r="3.6"/><circle cx="799.0" cy="764.4" r="3.6"/><circle cx="803.0" cy="751.2" r="6"/><circle cx="798.5" cy="746.2" r="3.6"/><circle cx="807.5" cy="746.2" r="3.6"/><circle cx="798.5" cy="756.2" r="3.6"/><circle cx="807.5" cy="756.2" r="3.6"/><circle cx="803.0" cy="744.7" r="3.6"/><circle cx="803.0" cy="757.7" r="3.6"/><circle cx="806.5" cy="754.2" r="6"/><circle cx="802.0" cy="749.2" r="3.6"/><circle cx="811.0" cy="749.2" r="3.6"/><circle cx="802.0" cy="759.2" r="3.6"/><circle cx="811.0" cy="759.2" r="3.6"/><circle cx="806.5" cy="747.7" r="3.6"/><circle cx="806.5" cy="760.7" r="3.6"/><circle cx="809.9" cy="761.0" r="6"/><circle cx="805.4" cy="756.0" r="3.6"/><circle cx="814.4" cy="756.0" r="3.6"/><circle cx="805.4" cy="766.0" r="3.6"/><circle cx="814.4" cy="766.0" r="3.6"/><circle cx="809.9" cy="754.5" r="3.6"/><circle cx="809.9" cy="767.5" r="3.6"/><circle cx="813.6" cy="755.4" r="6"/><circle cx="809.1" cy="750.4" r="3.6"/><circle cx="818.1" cy="750.4" r="3.6"/><circle cx="809.1" cy="760.4" r="3.6"/><circle cx="818.1" cy="760.4" r="3.6"/><circle cx="813.6" cy="748.9" r="3.6"/><circle cx="813.6" cy="761.9" r="3.6"/><circle cx="817.3" cy="752.2" r="6"/><circle cx="812.8" cy="747.2" r="3.6"/><circle cx="821.8" cy="747.2" r="3.6"/><circle cx="812.8" cy="757.2" r="3.6"/><circle cx="821.8" cy="757.2" r="3.6"/><circle cx="817.3" cy="745.7" r="3.6"/><circle cx="817.3" cy="758.7" r="3.6"/><circle cx="820.7" cy="757.7" r="6"/><circle cx="816.2" cy="752.7" r="3.6"/><circle cx="825.2" cy="752.7" r="3.6"/><circle cx="816.2" cy="762.7" r="3.6"/><circle cx="825.2" cy="762.7" r="3.6"/><circle cx="820.7" cy="751.2" r="3.6"/><circle cx="820.7" cy="764.2" r="3.6"/><circle cx="824.2" cy="765.5" r="6"/><circle cx="819.7" cy="760.5" r="3.6"/><circle cx="828.7" cy="760.5" r="3.6"/><circle cx="819.7" cy="770.5" r="3.6"/><circle cx="828.7" cy="770.5" r="3.6"/><circle cx="824.2" cy="759.0" r="3.6"/><circle cx="824.2" cy="772.0" r="3.6"/><circle cx="828.1" cy="764.0" r="6"/><circle cx="823.6" cy="759.0" r="3.6"/><circle cx="832.6" cy="759.0" r="3.6"/><circle cx="823.6" cy="769.0" r="3.6"/><circle cx="832.6" cy="769.0" r="3.6"/><circle cx="828.1" cy="757.5" r="3.6"/><circle cx="828.1" cy="770.5" r="3.6"/><circle cx="831.2" cy="758.7" r="6"/><circle cx="826.7" cy="753.7" r="3.6"/><circle cx="835.7" cy="753.7" r="3.6"/><circle cx="826.7" cy="763.7" r="3.6"/><circle cx="835.7" cy="763.7" r="3.6"/><circle cx="831.2" cy="752.2" r="3.6"/><circle cx="831.2" cy="765.2" r="3.6"/><circle cx="835.0" cy="756.9" r="6"/><circle cx="830.5" cy="751.9" r="3.6"/><circle cx="839.5" cy="751.9" r="3.6"/><circle cx="830.5" cy="761.9" r="3.6"/><circle cx="839.5" cy="761.9" r="3.6"/><circle cx="835.0" cy="750.4" r="3.6"/><circle cx="835.0" cy="763.4" r="3.6"/><circle cx="838.4" cy="765.4" r="6"/><circle cx="833.9" cy="760.4" r="3.6"/><circle cx="842.9" cy="760.4" r="3.6"/><circle cx="833.9" cy="770.4" r="3.6"/><circle cx="842.9" cy="770.4" r="3.6"/><circle cx="838.4" cy="758.9" r="3.6"/><circle cx="838.4" cy="771.9" r="3.6"/><circle cx="841.8" cy="761.8" r="6"/><circle cx="837.3" cy="756.8" r="3.6"/><circle cx="846.3" cy="756.8" r="3.6"/><circle cx="837.3" cy="766.8" r="3.6"/><circle cx="846.3" cy="766.8" r="3.6"/><circle cx="841.8" cy="755.3" r="3.6"/><circle cx="841.8" cy="768.3" r="3.6"/><circle cx="845.7" cy="753.6" r="6"/><circle cx="841.2" cy="748.6" r="3.6"/><circle cx="850.2" cy="748.6" r="3.6"/><circle cx="841.2" cy="758.6" r="3.6"/><circle cx="850.2" cy="758.6" r="3.6"/><circle cx="845.7" cy="747.1" r="3.6"/><circle cx="845.7" cy="760.1" r="3.6"/><circle cx="849.2" cy="748.0" r="6"/><circle cx="844.7" cy="743.0" r="3.6"/><circle cx="853.7" cy="743.0" r="3.6"/><circle cx="844.7" cy="753.0" r="3.6"/><circle cx="853.7" cy="753.0" r="3.6"/><circle cx="849.2" cy="741.5" r="3.6"/><circle cx="849.2" cy="754.5" r="3.6"/><circle cx="853.0" cy="749.2" r="6"/><circle cx="848.5" cy="744.2" r="3.6"/><circle cx="857.5" cy="744.2" r="3.6"/><circle cx="848.5" cy="754.2" r="3.6"/><circle cx="857.5" cy="754.2" r="3.6"/><circle cx="853.0" cy="742.7" r="3.6"/><circle cx="853.0" cy="755.7" r="3.6"/><circle cx="856.5" cy="751.3" r="6"/><circle cx="852.0" cy="746.3" r="3.6"/><circle cx="861.0" cy="746.3" r="3.6"/><circle cx="852.0" cy="756.3" r="3.6"/><circle cx="861.0" cy="756.3" r="3.6"/><circle cx="856.5" cy="744.8" r="3.6"/><circle cx="856.5" cy="757.8" r="3.6"/><circle cx="860.6" cy="760.5" r="6"/><circle cx="856.1" cy="755.5" r="3.6"/><circle cx="865.1" cy="755.5" r="3.6"/><circle cx="856.1" cy="765.5" r="3.6"/><circle cx="865.1" cy="765.5" r="3.6"/><circle cx="860.6" cy="754.0" r="3.6"/><circle cx="860.6" cy="767.0" r="3.6"/><circle cx="863.7" cy="756.8" r="6"/><circle cx="859.2" cy="751.8" r="3.6"/><circle cx="868.2" cy="751.8" r="3.6"/><circle cx="859.2" cy="761.8" r="3.6"/><circle cx="868.2" cy="761.8" r="3.6"/><circle cx="863.7" cy="750.3" r="3.6"/><circle cx="863.7" cy="763.3" r="3.6"/><circle cx="867.8" cy="752.9" r="6"/><circle cx="863.3" cy="747.9" r="3.6"/><circle cx="872.3" cy="747.9" r="3.6"/><circle cx="863.3" cy="757.9" r="3.6"/><circle cx="872.3" cy="757.9" r="3.6"/><circle cx="867.8" cy="746.4" r="3.6"/><circle cx="867.8" cy="759.4" r="3.6"/><circle cx="870.6" cy="751.9" r="6"/><circle cx="866.1" cy="746.9" r="3.6"/><circle cx="875.1" cy="746.9" r="3.6"/><circle cx="866.1" cy="756.9" r="3.6"/><circle cx="875.1" cy="756.9" r="3.6"/><circle cx="870.6" cy="745.4" r="3.6"/><circle cx="870.6" cy="758.4" r="3.6"/><circle cx="874.3" cy="758.5" r="6"/><circle cx="869.8" cy="753.5" r="3.6"/><circle cx="878.8" cy="753.5" r="3.6"/><circle cx="869.8" cy="763.5" r="3.6"/><circle cx="878.8" cy="763.5" r="3.6"/><circle cx="874.3" cy="752.0" r="3.6"/><circle cx="874.3" cy="765.0" r="3.6"/><circle cx="878.1" cy="753.7" r="6"/><circle cx="873.6" cy="748.7" r="3.6"/><circle cx="882.6" cy="748.7" r="3.6"/><circle cx="873.6" cy="758.7" r="3.6"/><circle cx="882.6" cy="758.7" r="3.6"/><circle cx="878.1" cy="747.2" r="3.6"/><circle cx="878.1" cy="760.2" r="3.6"/><circle cx="882.1" cy="751.6" r="6"/><circle cx="877.6" cy="746.6" r="3.6"/><circle cx="886.6" cy="746.6" r="3.6"/><circle cx="877.6" cy="756.6" r="3.6"/><circle cx="886.6" cy="756.6" r="3.6"/><circle cx="882.1" cy="745.1" r="3.6"/><circle cx="882.1" cy="758.1" r="3.6"/><circle cx="885.7" cy="756.8" r="6"/><circle cx="881.2" cy="751.8" r="3.6"/><circle cx="890.2" cy="751.8" r="3.6"/><circle cx="881.2" cy="761.8" r="3.6"/><circle cx="890.2" cy="761.8" r="3.6"/><circle cx="885.7" cy="750.3" r="3.6"/><circle cx="885.7" cy="763.3" r="3.6"/><circle cx="888.9" cy="759.1" r="6"/><circle cx="884.4" cy="754.1" r="3.6"/><circle cx="893.4" cy="754.1" r="3.6"/><circle cx="884.4" cy="764.1" r="3.6"/><circle cx="893.4" cy="764.1" r="3.6"/><circle cx="888.9" cy="752.6" r="3.6"/><circle cx="888.9" cy="765.6" r="3.6"/><circle cx="892.4" cy="759.5" r="6"/><circle cx="887.9" cy="754.5" r="3.6"/><circle cx="896.9" cy="754.5" r="3.6"/><circle cx="887.9" cy="764.5" r="3.6"/><circle cx="896.9" cy="764.5" r="3.6"/><circle cx="892.4" cy="753.0" r="3.6"/><circle cx="892.4" cy="766.0" r="3.6"/><circle cx="896.6" cy="753.7" r="6"/><circle cx="892.1" cy="748.7" r="3.6"/><circle cx="901.1" cy="748.7" r="3.6"/><circle cx="892.1" cy="758.7" r="3.6"/><circle cx="901.1" cy="758.7" r="3.6"/><circle cx="896.6" cy="747.2" r="3.6"/><circle cx="896.6" cy="760.2" r="3.6"/><circle cx="900.0" cy="759.6" r="6"/><circle cx="895.5" cy="754.6" r="3.6"/><circle cx="904.5" cy="754.6" r="3.6"/><circle cx="895.5" cy="764.6" r="3.6"/><circle cx="904.5" cy="764.6" r="3.6"/><circle cx="900.0" cy="753.1" r="3.6"/><circle cx="900.0" cy="766.1" r="3.6"/><circle cx="903.6" cy="757.6" r="6"/><circle cx="899.1" cy="752.6" r="3.6"/><circle cx="908.1" cy="752.6" r="3.6"/><circle cx="899.1" cy="762.6" r="3.6"/><circle cx="908.1" cy="762.6" r="3.6"/><circle cx="903.6" cy="751.1" r="3.6"/><circle cx="903.6" cy="764.1" r="3.6"/><circle cx="907.4" cy="761.0" r="6"/><circle cx="902.9" cy="756.0" r="3.6"/><circle cx="911.9" cy="756.0" r="3.6"/><circle cx="902.9" cy="766.0" r="3.6"/><circle cx="911.9" cy="766.0" r="3.6"/><circle cx="907.4" cy="754.5" r="3.6"/><circle cx="907.4" cy="767.5" r="3.6"/><circle cx="910.9" cy="762.4" r="6"/><circle cx="906.4" cy="757.4" r="3.6"/><circle cx="915.4" cy="757.4" r="3.6"/><circle cx="906.4" cy="767.4" r="3.6"/><circle cx="915.4" cy="767.4" r="3.6"/><circle cx="910.9" cy="755.9" r="3.6"/><circle cx="910.9" cy="768.9" r="3.6"/><circle cx="914.0" cy="758.1" r="6"/><circle cx="909.5" cy="753.1" r="3.6"/><circle cx="918.5" cy="753.1" r="3.6"/><circle cx="909.5" cy="763.1" r="3.6"/><circle cx="918.5" cy="763.1" r="3.6"/><circle cx="914.0" cy="751.6" r="3.6"/><circle cx="914.0" cy="764.6" r="3.6"/><circle cx="918.0" cy="755.4" r="6"/><circle cx="913.5" cy="750.4" r="3.6"/><circle cx="922.5" cy="750.4" r="3.6"/><circle cx="913.5" cy="760.4" r="3.6"/><circle cx="922.5" cy="760.4" r="3.6"/><circle cx="918.0" cy="748.9" r="3.6"/><circle cx="918.0" cy="761.9" r="3.6"/><circle cx="921.3" cy="753.4" r="6"/><circle cx="916.8" cy="748.4" r="3.6"/><circle cx="925.8" cy="748.4" r="3.6"/><circle cx="916.8" cy="758.4" r="3.6"/><circle cx="925.8" cy="758.4" r="3.6"/><circle cx="921.3" cy="746.9" r="3.6"/><circle cx="921.3" cy="759.9" r="3.6"/><circle cx="925.5" cy="756.8" r="6"/><circle cx="921.0" cy="751.8" r="3.6"/><circle cx="930.0" cy="751.8" r="3.6"/><circle cx="921.0" cy="761.8" r="3.6"/><circle cx="930.0" cy="761.8" r="3.6"/><circle cx="925.5" cy="750.3" r="3.6"/><circle cx="925.5" cy="763.3" r="3.6"/><circle cx="928.6" cy="764.3" r="6"/><circle cx="924.1" cy="759.3" r="3.6"/><circle cx="933.1" cy="759.3" r="3.6"/><circle cx="924.1" cy="769.3" r="3.6"/><circle cx="933.1" cy="769.3" r="3.6"/><circle cx="928.6" cy="757.8" r="3.6"/><circle cx="928.6" cy="770.8" r="3.6"/><circle cx="931.9" cy="765.2" r="6"/><circle cx="927.4" cy="760.2" r="3.6"/><circle cx="936.4" cy="760.2" r="3.6"/><circle cx="927.4" cy="770.2" r="3.6"/><circle cx="936.4" cy="770.2" r="3.6"/><circle cx="931.9" cy="758.7" r="3.6"/><circle cx="931.9" cy="771.7" r="3.6"/><circle cx="935.4" cy="752.1" r="6"/><circle cx="930.9" cy="747.1" r="3.6"/><circle cx="939.9" cy="747.1" r="3.6"/><circle cx="930.9" cy="757.1" r="3.6"/><circle cx="939.9" cy="757.1" r="3.6"/><circle cx="935.4" cy="745.6" r="3.6"/><circle cx="935.4" cy="758.6" r="3.6"/><circle cx="939.3" cy="756.7" r="6"/><circle cx="934.8" cy="751.7" r="3.6"/><circle cx="943.8" cy="751.7" r="3.6"/><circle cx="934.8" cy="761.7" r="3.6"/><circle cx="943.8" cy="761.7" r="3.6"/><circle cx="939.3" cy="750.2" r="3.6"/><circle cx="939.3" cy="763.2" r="3.6"/><circle cx="943.4" cy="763.9" r="6"/><circle cx="938.9" cy="758.9" r="3.6"/><circle cx="947.9" cy="758.9" r="3.6"/><circle cx="938.9" cy="768.9" r="3.6"/><circle cx="947.9" cy="768.9" r="3.6"/><circle cx="943.4" cy="757.4" r="3.6"/><circle cx="943.4" cy="770.4" r="3.6"/><circle cx="946.9" cy="757.7" r="6"/><circle cx="942.4" cy="752.7" r="3.6"/><circle cx="951.4" cy="752.7" r="3.6"/><circle cx="942.4" cy="762.7" r="3.6"/><circle cx="951.4" cy="762.7" r="3.6"/><circle cx="946.9" cy="751.2" r="3.6"/><circle cx="946.9" cy="764.2" r="3.6"/><circle cx="950.2" cy="754.8" r="6"/><circle cx="945.7" cy="749.8" r="3.6"/><circle cx="954.7" cy="749.8" r="3.6"/><circle cx="945.7" cy="759.8" r="3.6"/><circle cx="954.7" cy="759.8" r="3.6"/><circle cx="950.2" cy="748.3" r="3.6"/><circle cx="950.2" cy="761.3" r="3.6"/><circle cx="954.1" cy="755.9" r="6"/><circle cx="949.6" cy="750.9" r="3.6"/><circle cx="958.6" cy="750.9" r="3.6"/><circle cx="949.6" cy="760.9" r="3.6"/><circle cx="958.6" cy="760.9" r="3.6"/><circle cx="954.1" cy="749.4" r="3.6"/><circle cx="954.1" cy="762.4" r="3.6"/><circle cx="957.2" cy="758.6" r="6"/><circle cx="952.7" cy="753.6" r="3.6"/><circle cx="961.7" cy="753.6" r="3.6"/><circle cx="952.7" cy="763.6" r="3.6"/><circle cx="961.7" cy="763.6" r="3.6"/><circle cx="957.2" cy="752.1" r="3.6"/><circle cx="957.2" cy="765.1" r="3.6"/><circle cx="960.7" cy="753.5" r="6"/><circle cx="956.2" cy="748.5" r="3.6"/><circle cx="965.2" cy="748.5" r="3.6"/><circle cx="956.2" cy="758.5" r="3.6"/><circle cx="965.2" cy="758.5" r="3.6"/><circle cx="960.7" cy="747.0" r="3.6"/><circle cx="960.7" cy="760.0" r="3.6"/><circle cx="965.0" cy="750.7" r="6"/><circle cx="960.5" cy="745.7" r="3.6"/><circle cx="969.5" cy="745.7" r="3.6"/><circle cx="960.5" cy="755.7" r="3.6"/><circle cx="969.5" cy="755.7" r="3.6"/><circle cx="965.0" cy="744.2" r="3.6"/><circle cx="965.0" cy="757.2" r="3.6"/><circle cx="967.8" cy="752.4" r="6"/><circle cx="963.3" cy="747.4" r="3.6"/><circle cx="972.3" cy="747.4" r="3.6"/><circle cx="963.3" cy="757.4" r="3.6"/><circle cx="972.3" cy="757.4" r="3.6"/><circle cx="967.8" cy="745.9" r="3.6"/><circle cx="967.8" cy="758.9" r="3.6"/><circle cx="971.6" cy="755.7" r="6"/><circle cx="967.1" cy="750.7" r="3.6"/><circle cx="976.1" cy="750.7" r="3.6"/><circle cx="967.1" cy="760.7" r="3.6"/><circle cx="976.1" cy="760.7" r="3.6"/><circle cx="971.6" cy="749.2" r="3.6"/><circle cx="971.6" cy="762.2" r="3.6"/><circle cx="975.2" cy="754.8" r="6"/><circle cx="970.7" cy="749.8" r="3.6"/><circle cx="979.7" cy="749.8" r="3.6"/><circle cx="970.7" cy="759.8" r="3.6"/><circle cx="979.7" cy="759.8" r="3.6"/><circle cx="975.2" cy="748.3" r="3.6"/><circle cx="975.2" cy="761.3" r="3.6"/><circle cx="978.7" cy="753.6" r="6"/><circle cx="974.2" cy="748.6" r="3.6"/><circle cx="983.2" cy="748.6" r="3.6"/><circle cx="974.2" cy="758.6" r="3.6"/><circle cx="983.2" cy="758.6" r="3.6"/><circle cx="978.7" cy="747.1" r="3.6"/><circle cx="978.7" cy="760.1" r="3.6"/><circle cx="982.7" cy="755.2" r="6"/><circle cx="978.2" cy="750.2" r="3.6"/><circle cx="987.2" cy="750.2" r="3.6"/><circle cx="978.2" cy="760.2" r="3.6"/><circle cx="987.2" cy="760.2" r="3.6"/><circle cx="982.7" cy="748.7" r="3.6"/><circle cx="982.7" cy="761.7" r="3.6"/><circle cx="986.1" cy="761.5" r="6"/><circle cx="981.6" cy="756.5" r="3.6"/><circle cx="990.6" cy="756.5" r="3.6"/><circle cx="981.6" cy="766.5" r="3.6"/><circle cx="990.6" cy="766.5" r="3.6"/><circle cx="986.1" cy="755.0" r="3.6"/><circle cx="986.1" cy="768.0" r="3.6"/><circle cx="989.4" cy="753.0" r="6"/><circle cx="984.9" cy="748.0" r="3.6"/><circle cx="993.9" cy="748.0" r="3.6"/><circle cx="984.9" cy="758.0" r="3.6"/><circle cx="993.9" cy="758.0" r="3.6"/><circle cx="989.4" cy="746.5" r="3.6"/><circle cx="989.4" cy="759.5" r="3.6"/><circle cx="993.8" cy="757.2" r="6"/><circle cx="989.3" cy="752.2" r="3.6"/><circle cx="998.3" cy="752.2" r="3.6"/><circle cx="989.3" cy="762.2" r="3.6"/><circle cx="998.3" cy="762.2" r="3.6"/><circle cx="993.8" cy="750.7" r="3.6"/><circle cx="993.8" cy="763.7" r="3.6"/><circle cx="997.3" cy="753.2" r="6"/><circle cx="992.8" cy="748.2" r="3.6"/><circle cx="1001.8" cy="748.2" r="3.6"/><circle cx="992.8" cy="758.2" r="3.6"/><circle cx="1001.8" cy="758.2" r="3.6"/><circle cx="997.3" cy="746.7" r="3.6"/><circle cx="997.3" cy="759.7" r="3.6"/><circle cx="1000.6" cy="763.3" r="6"/><circle cx="996.1" cy="758.3" r="3.6"/><circle cx="1005.1" cy="758.3" r="3.6"/><circle cx="996.1" cy="768.3" r="3.6"/><circle cx="1005.1" cy="768.3" r="3.6"/><circle cx="1000.6" cy="756.8" r="3.6"/><circle cx="1000.6" cy="769.8" r="3.6"/><circle cx="1004.0" cy="762.3" r="6"/><circle cx="999.5" cy="757.3" r="3.6"/><circle cx="1008.5" cy="757.3" r="3.6"/><circle cx="999.5" cy="767.3" r="3.6"/><circle cx="1008.5" cy="767.3" r="3.6"/><circle cx="1004.0" cy="755.8" r="3.6"/><circle cx="1004.0" cy="768.8" r="3.6"/><circle cx="1007.9" cy="757.2" r="6"/><circle cx="1003.4" cy="752.2" r="3.6"/><circle cx="1012.4" cy="752.2" r="3.6"/><circle cx="1003.4" cy="762.2" r="3.6"/><circle cx="1012.4" cy="762.2" r="3.6"/><circle cx="1007.9" cy="750.7" r="3.6"/><circle cx="1007.9" cy="763.7" r="3.6"/><circle cx="1011.9" cy="757.4" r="6"/><circle cx="1007.4" cy="752.4" r="3.6"/><circle cx="1016.4" cy="752.4" r="3.6"/><circle cx="1007.4" cy="762.4" r="3.6"/><circle cx="1016.4" cy="762.4" r="3.6"/><circle cx="1011.9" cy="750.9" r="3.6"/><circle cx="1011.9" cy="763.9" r="3.6"/><circle cx="1015.0" cy="760.7" r="6"/><circle cx="1010.5" cy="755.7" r="3.6"/><circle cx="1019.5" cy="755.7" r="3.6"/><circle cx="1010.5" cy="765.7" r="3.6"/><circle cx="1019.5" cy="765.7" r="3.6"/><circle cx="1015.0" cy="754.2" r="3.6"/><circle cx="1015.0" cy="767.2" r="3.6"/><circle cx="1018.4" cy="763.9" r="6"/><circle cx="1013.9" cy="758.9" r="3.6"/><circle cx="1022.9" cy="758.9" r="3.6"/><circle cx="1013.9" cy="768.9" r="3.6"/><circle cx="1022.9" cy="768.9" r="3.6"/><circle cx="1018.4" cy="757.4" r="3.6"/><circle cx="1018.4" cy="770.4" r="3.6"/><circle cx="1022.3" cy="760.9" r="6"/><circle cx="1017.8" cy="755.9" r="3.6"/><circle cx="1026.8" cy="755.9" r="3.6"/><circle cx="1017.8" cy="765.9" r="3.6"/><circle cx="1026.8" cy="765.9" r="3.6"/><circle cx="1022.3" cy="754.4" r="3.6"/><circle cx="1022.3" cy="767.4" r="3.6"/><circle cx="1025.8" cy="767.1" r="6"/><circle cx="1021.3" cy="762.1" r="3.6"/><circle cx="1030.3" cy="762.1" r="3.6"/><circle cx="1021.3" cy="772.1" r="3.6"/><circle cx="1030.3" cy="772.1" r="3.6"/><circle cx="1025.8" cy="760.6" r="3.6"/><circle cx="1025.8" cy="773.6" r="3.6"/><circle cx="1029.9" cy="765.9" r="6"/><circle cx="1025.4" cy="760.9" r="3.6"/><circle cx="1034.4" cy="760.9" r="3.6"/><circle cx="1025.4" cy="770.9" r="3.6"/><circle cx="1034.4" cy="770.9" r="3.6"/><circle cx="1029.9" cy="759.4" r="3.6"/><circle cx="1029.9" cy="772.4" r="3.6"/><circle cx="1033.0" cy="760.5" r="6"/><circle cx="1028.5" cy="755.5" r="3.6"/><circle cx="1037.5" cy="755.5" r="3.6"/><circle cx="1028.5" cy="765.5" r="3.6"/><circle cx="1037.5" cy="765.5" r="3.6"/><circle cx="1033.0" cy="754.0" r="3.6"/><circle cx="1033.0" cy="767.0" r="3.6"/><circle cx="1036.6" cy="756.1" r="6"/><circle cx="1032.1" cy="751.1" r="3.6"/><circle cx="1041.1" cy="751.1" r="3.6"/><circle cx="1032.1" cy="761.1" r="3.6"/><circle cx="1041.1" cy="761.1" r="3.6"/><circle cx="1036.6" cy="749.6" r="3.6"/><circle cx="1036.6" cy="762.6" r="3.6"/><circle cx="1039.8" cy="770.0" r="6"/><circle cx="1035.3" cy="765.0" r="3.6"/><circle cx="1044.3" cy="765.0" r="3.6"/><circle cx="1035.3" cy="775.0" r="3.6"/><circle cx="1044.3" cy="775.0" r="3.6"/><circle cx="1039.8" cy="763.5" r="3.6"/><circle cx="1039.8" cy="776.5" r="3.6"/><circle cx="1043.4" cy="769.9" r="6"/><circle cx="1038.9" cy="764.9" r="3.6"/><circle cx="1047.9" cy="764.9" r="3.6"/><circle cx="1038.9" cy="774.9" r="3.6"/><circle cx="1047.9" cy="774.9" r="3.6"/><circle cx="1043.4" cy="763.4" r="3.6"/><circle cx="1043.4" cy="776.4" r="3.6"/><circle cx="1047.6" cy="770.3" r="6"/><circle cx="1043.1" cy="765.3" r="3.6"/><circle cx="1052.1" cy="765.3" r="3.6"/><circle cx="1043.1" cy="775.3" r="3.6"/><circle cx="1052.1" cy="775.3" r="3.6"/><circle cx="1047.6" cy="763.8" r="3.6"/><circle cx="1047.6" cy="776.8" r="3.6"/><circle cx="1050.6" cy="762.1" r="6"/><circle cx="1046.1" cy="757.1" r="3.6"/><circle cx="1055.1" cy="757.1" r="3.6"/><circle cx="1046.1" cy="767.1" r="3.6"/><circle cx="1055.1" cy="767.1" r="3.6"/><circle cx="1050.6" cy="755.6" r="3.6"/><circle cx="1050.6" cy="768.6" r="3.6"/><circle cx="1054.9" cy="756.4" r="6"/><circle cx="1050.4" cy="751.4" r="3.6"/><circle cx="1059.4" cy="751.4" r="3.6"/><circle cx="1050.4" cy="761.4" r="3.6"/><circle cx="1059.4" cy="761.4" r="3.6"/><circle cx="1054.9" cy="749.9" r="3.6"/><circle cx="1054.9" cy="762.9" r="3.6"/><circle cx="1057.8" cy="760.2" r="6"/><circle cx="1053.3" cy="755.2" r="3.6"/><circle cx="1062.3" cy="755.2" r="3.6"/><circle cx="1053.3" cy="765.2" r="3.6"/><circle cx="1062.3" cy="765.2" r="3.6"/><circle cx="1057.8" cy="753.7" r="3.6"/><circle cx="1057.8" cy="766.7" r="3.6"/><circle cx="1061.5" cy="756.0" r="6"/><circle cx="1057.0" cy="751.0" r="3.6"/><circle cx="1066.0" cy="751.0" r="3.6"/><circle cx="1057.0" cy="761.0" r="3.6"/><circle cx="1066.0" cy="761.0" r="3.6"/><circle cx="1061.5" cy="749.5" r="3.6"/><circle cx="1061.5" cy="762.5" r="3.6"/><circle cx="1065.6" cy="753.8" r="6"/><circle cx="1061.1" cy="748.8" r="3.6"/><circle cx="1070.1" cy="748.8" r="3.6"/><circle cx="1061.1" cy="758.8" r="3.6"/><circle cx="1070.1" cy="758.8" r="3.6"/><circle cx="1065.6" cy="747.3" r="3.6"/><circle cx="1065.6" cy="760.3" r="3.6"/><circle cx="1069.5" cy="760.3" r="6"/><circle cx="1065.0" cy="755.3" r="3.6"/><circle cx="1074.0" cy="755.3" r="3.6"/><circle cx="1065.0" cy="765.3" r="3.6"/><circle cx="1074.0" cy="765.3" r="3.6"/><circle cx="1069.5" cy="753.8" r="3.6"/><circle cx="1069.5" cy="766.8" r="3.6"/><circle cx="1072.1" cy="762.8" r="6"/><circle cx="1067.6" cy="757.8" r="3.6"/><circle cx="1076.6" cy="757.8" r="3.6"/><circle cx="1067.6" cy="767.8" r="3.6"/><circle cx="1076.6" cy="767.8" r="3.6"/><circle cx="1072.1" cy="756.3" r="3.6"/><circle cx="1072.1" cy="769.3" r="3.6"/><circle cx="1075.9" cy="755.7" r="6"/><circle cx="1071.4" cy="750.7" r="3.6"/><circle cx="1080.4" cy="750.7" r="3.6"/><circle cx="1071.4" cy="760.7" r="3.6"/><circle cx="1080.4" cy="760.7" r="3.6"/><circle cx="1075.9" cy="749.2" r="3.6"/><circle cx="1075.9" cy="762.2" r="3.6"/><circle cx="1079.9" cy="749.5" r="6"/><circle cx="1075.4" cy="744.5" r="3.6"/><circle cx="1084.4" cy="744.5" r="3.6"/><circle cx="1075.4" cy="754.5" r="3.6"/><circle cx="1084.4" cy="754.5" r="3.6"/><circle cx="1079.9" cy="743.0" r="3.6"/><circle cx="1079.9" cy="756.0" r="3.6"/><circle cx="1083.4" cy="749.1" r="6"/><circle cx="1078.9" cy="744.1" r="3.6"/><circle cx="1087.9" cy="744.1" r="3.6"/><circle cx="1078.9" cy="754.1" r="3.6"/><circle cx="1087.9" cy="754.1" r="3.6"/><circle cx="1083.4" cy="742.6" r="3.6"/><circle cx="1083.4" cy="755.6" r="3.6"/><circle cx="1086.7" cy="761.8" r="6"/><circle cx="1082.2" cy="756.8" r="3.6"/><circle cx="1091.2" cy="756.8" r="3.6"/><circle cx="1082.2" cy="766.8" r="3.6"/><circle cx="1091.2" cy="766.8" r="3.6"/><circle cx="1086.7" cy="755.3" r="3.6"/><circle cx="1086.7" cy="768.3" r="3.6"/><circle cx="1090.9" cy="757.2" r="6"/><circle cx="1086.4" cy="752.2" r="3.6"/><circle cx="1095.4" cy="752.2" r="3.6"/><circle cx="1086.4" cy="762.2" r="3.6"/><circle cx="1095.4" cy="762.2" r="3.6"/><circle cx="1090.9" cy="750.7" r="3.6"/><circle cx="1090.9" cy="763.7" r="3.6"/><circle cx="1094.4" cy="762.9" r="6"/><circle cx="1089.9" cy="757.9" r="3.6"/><circle cx="1098.9" cy="757.9" r="3.6"/><circle cx="1089.9" cy="767.9" r="3.6"/><circle cx="1098.9" cy="767.9" r="3.6"/><circle cx="1094.4" cy="756.4" r="3.6"/><circle cx="1094.4" cy="769.4" r="3.6"/><circle cx="1097.4" cy="758.2" r="6"/><circle cx="1092.9" cy="753.2" r="3.6"/><circle cx="1101.9" cy="753.2" r="3.6"/><circle cx="1092.9" cy="763.2" r="3.6"/><circle cx="1101.9" cy="763.2" r="3.6"/><circle cx="1097.4" cy="751.7" r="3.6"/><circle cx="1097.4" cy="764.7" r="3.6"/><circle cx="1101.0" cy="753.8" r="6"/><circle cx="1096.5" cy="748.8" r="3.6"/><circle cx="1105.5" cy="748.8" r="3.6"/><circle cx="1096.5" cy="758.8" r="3.6"/><circle cx="1105.5" cy="758.8" r="3.6"/><circle cx="1101.0" cy="747.3" r="3.6"/><circle cx="1101.0" cy="760.3" r="3.6"/><circle cx="1104.6" cy="755.9" r="6"/><circle cx="1100.1" cy="750.9" r="3.6"/><circle cx="1109.1" cy="750.9" r="3.6"/><circle cx="1100.1" cy="760.9" r="3.6"/><circle cx="1109.1" cy="760.9" r="3.6"/><circle cx="1104.6" cy="749.4" r="3.6"/><circle cx="1104.6" cy="762.4" r="3.6"/><circle cx="1108.2" cy="756.7" r="6"/><circle cx="1103.7" cy="751.7" r="3.6"/><circle cx="1112.7" cy="751.7" r="3.6"/><circle cx="1103.7" cy="761.7" r="3.6"/><circle cx="1112.7" cy="761.7" r="3.6"/><circle cx="1108.2" cy="750.2" r="3.6"/><circle cx="1108.2" cy="763.2" r="3.6"/><circle cx="1112.1" cy="762.7" r="6"/><circle cx="1107.6" cy="757.7" r="3.6"/><circle cx="1116.6" cy="757.7" r="3.6"/><circle cx="1107.6" cy="767.7" r="3.6"/><circle cx="1116.6" cy="767.7" r="3.6"/><circle cx="1112.1" cy="756.2" r="3.6"/><circle cx="1112.1" cy="769.2" r="3.6"/><circle cx="1116.2" cy="766.5" r="6"/><circle cx="1111.7" cy="761.5" r="3.6"/><circle cx="1120.7" cy="761.5" r="3.6"/><circle cx="1111.7" cy="771.5" r="3.6"/><circle cx="1120.7" cy="771.5" r="3.6"/><circle cx="1116.2" cy="760.0" r="3.6"/><circle cx="1116.2" cy="773.0" r="3.6"/><circle cx="1119.6" cy="760.7" r="6"/><circle cx="1115.1" cy="755.7" r="3.6"/><circle cx="1124.1" cy="755.7" r="3.6"/><circle cx="1115.1" cy="765.7" r="3.6"/><circle cx="1124.1" cy="765.7" r="3.6"/><circle cx="1119.6" cy="754.2" r="3.6"/><circle cx="1119.6" cy="767.2" r="3.6"/></g>
<g fill="#0000ff"><rect x="586.5" y="1190.2" width="9" height="12" fill-opacity="0.03"/><rect x="591.6" y="1187.5" width="9" height="12" fill-opacity="0.13"/><rect x="596.5" y="1184.5" width="9" height="12" fill-opacity="0.25"/><rect x="600.5" y="1179.4" width="9" height="12" fill-opacity="0.36"/><rect x="605.2" y="1174.5" width="9" height="12" fill-opacity="0.50"/><rect x="610.3" y="1166.2" width="9" height="12" fill-opacity="0.68"/><rect x="614.9" y="1160.8" width="9" height="12" fill-opacity="0.86"/><rect x="619.8" y="1153.1" width="9" height="12" fill-opacity="1.00"/><rect x="624.3" y="1142.0" width="9" height="12" fill-opacity="1.00"/><rect x="629.7" y="1130.4" width="9" height="12" fill-opacity="1.00"/><rect x="633.4" y="1121.2" width="9" height="12" fill-opacity="1.00"/><rect x="638.4" y="1107.3" width="9" height="12" fill-opacity="1.00"/><rect x="643.5" y="1090.7" width="9" height="12" fill-opacity="1.00"/><rect x="648.5" y="1072.2" width="9" height="12" fill-opacity="1.00"/><rect x="653.3" y="1052.5" width="9" height="12" fill-opacity="1.00"/><rect x="657.2" y="1039.1" width="9" height="12" fill-opacity="1.00"/><rect x="661.5" y="1020.5" width="9" height="12" fill-opacity="1.00"/><rect x="667.4" y="995.1" width="9" height="12" fill-opacity="1.00"/><rect x="671.9" y="973.3" width="9" height="12" fill-opacity="1.00"/><rect x="676.2" y="955.9" width="9" height="12" fill-opacity="1.00"/><rect x="680.8" y="935.6" width="9" height="12" fill-opacity="1.00"/><rect x="685.9" y="913.5" width="9" height="12" fill-opacity="1.00"/><rect x="689.8" y="899.7" width="9" height="12" fill-opacity="1.00"/><rect x="695.6" y="878.8" width="9" height="12" fill-opacity="1.00"/><rect x="699.9" y="862.3" width="9" height="12" fill-opacity="1.00"/><rect x="704.9" y="846.0" width="9" height="12" fill-opacity="1.00"/><rect x="708.8" y="837.2" width="9" height="12" fill-opacity="1.00"/><rect x="714.3" y="822.2" width="9" height="12" fill-opacity="1.00"/><rect x="719.0" y="810.8" width="9" height="12" fill-opacity="1.00"/><rect x="723.3" y="802.3" width="9" height="12" fill-opacity="1.00"/><rect x="727.6" y="795.3" width="9" height="12" fill-opacity="0.84"/><rect x="732.0" y="789.2" width="9" height="12" fill-opacity="0.67"/><rect x="737.3" y="782.0" width="9" height="12" fill-opacity="0.49"/><rect x="742.2" y="776.0" width="9" height="12" fill-opacity="0.34"/><rect x="746.7" y="773.2" width="9" height="12" fill-opacity="0.22"/><rect x="751.3" y="770.7" width="9" height="12" fill-opacity="0.11"/><rect x="755.7" y="766.3" width="9" height="12" fill-opacity="0.02"/></g>
<g fill="none" stroke="#0000ff" stroke-width="1.1"><rect x="202.5" y="1214.5" width="8" height="8"/><path d="M206.5 1211.5V1225.5M204.0 1211.5H209.0M204.0 1225.5H209.0"/><rect x="206.2" y="1216.5" width="8" height="8"/><path d="M210.2 1213.5V1227.5M207.7 1213.5H212.7M207.7 1227.5H212.7"/><rect x="211.6" y="1214.6" width="8" height="8"/><path d="M215.6 1211.6V1225.6M213.1 1211.6H218.1M213.1 1225.6H218.1"/><rect x="216.0" y="1214.9" width="8" height="8"/><path d="M220.0 1211.9V1225.9M217.5 1211.9H222.5M217.5 1225.9H222.5"/><rect x="220.7" y="1215.3" width="8" height="8"/><path d="M224.7 1212.3V1226.3M222.2 1212.3H227.2M222.2 1226.3H227.2"/><rect x="225.4" y="1216.5" width="8" height="8"/><path d="M229.4 1213.5V1227.5M226.9 1213.5H231.9M226.9 1227.5H231.9"/><rect x="230.6" y="1215.9" width="8" height="8"/><path d="M234.6 1212.9V1226.9M232.1 1212.9H237.1M232.1 1226.9H237.1"/><rect x="234.9" y="1215.1" width="8" height="8"/><path d="M238.9 1212.1V1226.1M236.4 1212.1H241.4M236.4 1226.1H241.4"/><rect x="239.9" y="1217.3" width="8" height="8"/><path d="M243.9 1214.3V1228.3M241.4 1214.3H246.4M241.4 1228.3H246.4"/><rect x="244.0" y="1216.6" width="8" height="8"/><path d="M248.0 1213.6V1227.6M245.5 1213.6H250.5M245.5 1227.6H250.5"/><rect x="249.2" y="1215.9" width="8" height="8"/><path d="M253.2 1212.9V1226.9M250.7 1212.9H255.7M250.7 1226.9H255.7"/><rect x="253.1" y="1214.9" width="8" height="8"/><path d="M257.1 1211.9V1225.9M254.6 1211.9H259.6M254.6 1225.9H259.6"/><rect x="258.0" y="1212.9" width="8" height="8"/><path d="M262.0 1209.9V1223.9M259.5 1209.9H264.5M259.5 1223.9H264.5"/><rect x="263.2" y="1213.3" width="8" height="8"/><path d="M267.2 1210.3V1224.3M264.7 1210.3H269.7M264.7 1224.3H269.7"/><rect x="268.0" y="1212.8" width="8" height="8"/><path d="M272.0 1209.8V1223.8M269.5 1209.8H274.5M269.5 1223.8H274.5"/><rect x="272.7" y="1211.2" width="8" height="8"/><path d="M276.7 1208.2V1222.2M274.2 1208.2H279.2M274.2 1222.2H279.2"/><rect x="276.7" y="1211.6" width="8" height="8"/><path d="M280.7 1208.6V1222.6M278.2 1208.6H283.2M278.2 1222.6H283.2"/><rect x="282.3" y="1211.1" width="8" height="8"/><path d="M286.3 1208.1V1222.1M283.8 1208.1H288.8M283.8 1222.1H288.8"/><rect x="286.7" y="1208.1" width="8" height="8"/><path d="M290.7 1205.1V1219.1M288.2 1205.1H293.2M288.2 1219.1H293.2"/><rect x="290.9" y="1207.8" width="8" height="8"/><path d="M294.9 1204.8V1218.8M292.4 1204.8H297.4M292.4 1218.8H297.4"/><rect x="296.2" y="1208.4" width="8" height="8"/><path d="M300.2 1205.4V1219.4M297.7 1205.4H302.7M297.7 1219.4H302.7"/><rect x="300.3" y="1209.1" width="8" height="8"/><path d="M304.3 1206.1V1220.1M301.8 1206.1H306.8M301.8 1220.1H306.8"/><rect x="306.0" y="1208.3" width="8" height="8"/><path d="M310.0 1205.3V1219.3M307.5 1205.3H312.5M307.5 1219.3H312.5"/><rect x="310.1" y="1206.0" width="8" height="8"/><path d="M314.1 1203.0V1217.0M311.6 1203.0H316.6M311.6 1217.0H316.6"/><rect x="314.5" y="1207.9" width="8" height="8"/><path d="M318.5 1204.9V1218.9M316.0 1204.9H321.0M316.0 1218.9H321.0"/><rect x="319.7" y="1207.0" width="8" height="8"/><path d="M323.7 1204.0V1218.0M321.2 1204.0H326.2M321.2 1218.0H326.2"/><rect x="324.7" y="1208.5" width="8" height="8"/><path d="M328.7 1205.5V1219.5M326.2 1205.5H331.2M326.2 1219.5H331.2"/><rect x="328.8" y="1208.5" width="8" height="8"/><path d="M332.8 1205.5V1219.5M330.3 1205.5H335.3M330.3 1219.5H335.3"/><rect x="333.9" y="1209.3" width="8" height="8"/><path d="M337.9 1206.3V1220.3M335.4 1206.3H340.4M335.4 1220.3H340.4"/><rect x="338.5" y="1208.9" width="8" height="8"/><path d="M342.5 1205.9V1219.9M340.0 1205.9H345.0M340.0 1219.9H345.0"/><rect x="343.2" y="1210.0" width="8" height="8"/><path d="M347.2 1207.0V1221.0M344.7 1207.0H349.7M344.7 1221.0H349.7"/><rect x="348.2" y="1210.3" width="8" height="8"/><path d="M352.2 1207.3V1221.3M349.7 1207.3H354.7M349.7 1221.3H354.7"/><rect x="352.2" y="1211.7" width="8" height="8"/><path d="M356.2 1208.7V1222.7M353.7 1208.7H358.7M353.7 1222.7H358.7"/><rect x="357.0" y="1212.1" width="8" height="8"/><path d="M361.0 1209.1V1223.1M358.5 1209.1H363.5M358.5 1223.1H363.5"/><rect x="362.3" y="1211.6" width="8" height="8"/><path d="M366.3 1208.6V1222.6M363.8 1208.6H368.8M363.8 1222.6H368.8"/><rect x="366.8" y="1213.5" width="8" height="8"/><path d="M370.8 1210.5V1224.5M368.3 1210.5H373.3M368.3 1224.5H373.3"/><rect x="371.5" y="1213.0" width="8" height="8"/><path d="M375.5 1210.0V1224.0M373.0 1210.0H378.0M373.0 1224.0H378.0"/><rect x="375.8" y="1211.8" width="8" height="8"/><path d="M379.8 1208.8V1222.8M377.3 1208.8H382.3M377.3 1222.8H382.3"/><rect x="380.6" y="1210.4" width="8" height="8"/><path d="M384.6 1207.4V1221.4M382.1 1207.4H387.1M382.1 1221.4H387.1"/><rect x="384.9" y="1210.1" width="8" height="8"/><path d="M388.9 1207.1V1221.1M386.4 1207.1H391.4M386.4 1221.1H391.4"/><rect x="389.6" y="1209.0" width="8" height="8"/><path d="M393.6 1206.0V1220.0M391.1 1206.0H396.1M391.1 1220.0H396.1"/><rect x="394.8" y="1207.4" width="8" height="8"/><path d="M398.8 1204.4V1218.4M396.3 1204.4H401.3M396.3 1218.4H401.3"/><rect x="399.0" y="1208.1" width="8" height="8"/><path d="M403.0 1205.1V1219.1M400.5 1205.1H405.5M400.5 1219.1H405.5"/><rect x="404.5" y="1207.1" width="8" height="8"/><path d="M408.5 1204.1V1218.1M406.0 1204.1H411.0M406.0 1218.1H411.0"/><rect x="408.9" y="1208.5" width="8" height="8"/><path d="M412.9 1205.5V1219.5M410.4 1205.5H415.4M410.4 1219.5H415.4"/><rect x="414.0" y="1208.7" width="8" height="8"/><path d="M418.0 1205.7V1219.7M415.5 1205.7H420.5M415.5 1219.7H420.5"/><rect x="418.0" y="1207.3" width="8" height="8"/><path d="M422.0 1204.3V1218.3M419.5 1204.3H424.5M419.5 1218.3H424.5"/><rect x="423.3" y="1207.7" width="8" height="8"/><path d="M427.3 1204.7V1218.7M424.8 1204.7H429.8M424.8 1218.7H429.8"/><rect x="427.0" y="1209.5" width="8" height="8"/><path d="M431.0 1206.5V1220.5M428.5 1206.5H433.5M428.5 1220.5H433.5"/><rect x="431.9" y="1207.8" width="8" height="8"/><path d="M435.9 1204.8V1218.8M433.4 1204.8H438.4M433.4 1218.8H438.4"/><rect x="436.8" y="1207.7" width="8" height="8"/><path d="M440.8 1204.7V1218.7M438.3 1204.7H443.3M438.3 1218.7H443.3"/><rect x="442.0" y="1208.0" width="8" height="8"/><path d="M446.0 1205.0V1219.0M443.5 1205.0H448.5M443.5 1219.0H448.5"/><rect x="446.3" y="1208.2" width="8" height="8"/><path d="M450.3 1205.2V1219.2M447.8 1205.2H452.8M447.8 1219.2H452.8"/><rect x="451.5" y="1205.5" width="8" height="8"/><path d="M455.5 1202.5V1216.5M453.0 1202.5H458.0M453.0 1216.5H458.0"/><rect x="455.9" y="1204.6" width="8" height="8"/><path d="M459.9 1201.6V1215.6M457.4 1201.6H462.4M457.4 1215.6H462.4"/><rect x="460.1" y="1204.9" width="8" height="8"/><path d="M464.1 1201.9V1215.9M461.6 1201.9H466.6M461.6 1215.9H466.6"/><rect x="465.1" y="1201.9" width="8" height="8"/><path d="M469.1 1198.9V1212.9M466.6 1198.9H471.6M466.6 1212.9H471.6"/><rect x="470.0" y="1203.0" width="8" height="8"/><path d="M474.0 1200.0V1214.0M471.5 1200.0H476.5M471.5 1214.0H476.5"/><rect x="474.8" y="1202.2" width="8" height="8"/><path d="M478.8 1199.2V1213.2M476.3 1199.2H481.3M476.3 1213.2H481.3"/><rect x="479.7" y="1204.5" width="8" height="8"/><path d="M483.7 1201.5V1215.5M481.2 1201.5H486.2M481.2 1215.5H486.2"/><rect x="483.6" y="1203.4" width="8" height="8"/><path d="M487.6 1200.4V1214.4M485.1 1200.4H490.1M485.1 1214.4H490.1"/><rect x="489.3" y="1206.4" width="8" height="8"/><path d="M493.3 1203.4V1217.4M490.8 1203.4H495.8M490.8 1217.4H495.8"/><rect x="493.0" y="1206.5" width="8" height="8"/><path d="M497.0 1203.5V1217.5M494.5 1203.5H499.5M494.5 1217.5H499.5"/><rect x="498.5" y="1205.6" width="8" height="8"/><path d="M502.5 1202.6V1216.6M500.0 1202.6H505.0M500.0 1216.6H505.0"/><rect x="503.0" y="1203.4" width="8" height="8"/><path d="M507.0 1200.4V1214.4M504.5 1200.4H509.5M504.5 1214.4H509.5"/><rect x="507.2" y="1200.7" width="8" height="8"/><path d="M511.2 1197.7V1211.7M508.7 1197.7H513.7M508.7 1211.7H513.7"/><rect x="511.7" y="1200.5" width="8" height="8"/><path d="M515.7 1197.5V1211.5M513.2 1197.5H518.2M513.2 1211.5H518.2"/><rect x="516.5" y="1201.4" width="8" height="8"/><path d="M520.5 1198.4V1212.4M518.0 1198.4H523.0M518.0 1212.4H523.0"/><rect x="521.5" y="1201.9" width="8" height="8"/><path d="M525.5 1198.9V1212.9M523.0 1198.9H528.0M523.0 1212.9H528.0"/><rect x="526.9" y="1202.8" width="8" height="8"/><path d="M530.9 1199.8V1213.8M528.4 1199.8H533.4M528.4 1213.8H533.4"/><rect x="531.0" y="1203.5" width="8" height="8"/><path d="M535.0 1200.5V1214.5M532.5 1200.5H537.5M532.5 1214.5H537.5"/><rect x="535.4" y="1203.8" width="8" height="8"/><path d="M539.4 1200.8V1214.8M536.9 1200.8H541.9M536.9 1214.8H541.9"/><rect x="540.4" y="1206.4" width="8" height="8"/><path d="M544.4 1203.4V1217.4M541.9 1203.4H546.9M541.9 1217.4H546.9"/><rect x="544.6" y="1207.3" width="8" height="8"/><path d="M548.6 1204.3V1218.3M546.1 1204.3H551.1M546.1 1218.3H551.1"/><rect x="550.0" y="1204.9" width="8" height="8"/><path d="M554.0 1201.9V1215.9M551.5 1201.9H556.5M551.5 1215.9H556.5"/><rect x="554.7" y="1205.9" width="8" height="8"/><path d="M558.7 1202.9V1216.9M556.2 1202.9H561.2M556.2 1216.9H561.2"/><rect x="559.2" y="1204.8" width="8" height="8"/><path d="M563.2 1201.8V1215.8M560.7 1201.8H565.7M560.7 1215.8H565.7"/><rect x="563.9" y="1205.4" width="8" height="8"/><path d="M567.9 1202.4V1216.4M565.4 1202.4H570.4M565.4 1216.4H570.4"/><rect x="568.9" y="1204.0" width="8" height="8"/><path d="M572.9 1201.0V1215.0M570.4 1201.0H575.4M570.4 1215.0H575.4"/><rect x="573.5" y="1202.3" width="8" height="8"/><path d="M577.5 1199.3V1213.3M575.0 1199.3H580.0M575.0 1213.3H580.0"/><rect x="577.7" y="1197.7" width="8" height="8"/><path d="M581.7 1194.7V1208.7M579.2 1194.7H584.2M579.2 1208.7H584.2"/><rect x="582.7" y="1194.7" width="8" height="8"/><path d="M586.7 1191.7V1205.7M584.2 1191.7H589.2M584.2 1205.7H589.2"/><rect x="587.0" y="1192.2" width="8" height="8"/><path d="M591.0 1189.2V1203.2M588.5 1189.2H593.5M588.5 1203.2H593.5"/><rect x="592.1" y="1189.5" width="8" height="8"/><path d="M596.1 1186.5V1200.5M593.6 1186.5H598.6M593.6 1200.5H598.6"/><rect x="597.0" y="1186.5" width="8" height="8"/><path d="M601.0 1183.5V1197.5M598.5 1183.5H603.5M598.5 1197.5H603.5"/><rect x="601.0" y="1181.4" width="8" height="8"/><path d="M605.0 1178.4V1192.4M602.5 1178.4H607.5M602.5 1192.4H607.5"/><rect x="605.7" y="1176.5" width="8" height="8"/><path d="M609.7 1173.5V1187.5M607.2 1173.5H612.2M607.2 1187.5H612.2"/><rect x="610.8" y="1168.2" width="8" height="8"/><path d="M614.8 1165.2V1179.2M612.3 1165.2H617.3M612.3 1179.2H617.3"/><rect x="615.4" y="1162.8" width="8" height="8"/><path d="M619.4 1159.8V1173.8M616.9 1159.8H621.9M616.9 1173.8H621.9"/><rect x="620.3" y="1155.1" width="8" height="8"/><path d="M624.3 1152.1V1166.1M621.8 1152.1H626.8M621.8 1166.1H626.8"/><rect x="624.8" y="1144.0" width="8" height="8"/><path d="M628.8 1141.0V1155.0M626.3 1141.0H631.3M626.3 1155.0H631.3"/><rect x="630.2" y="1132.4" width="8" height="8"/><path d="M634.2 1129.4V1143.4M631.7 1129.4H636.7M631.7 1143.4H636.7"/><rect x="633.9" y="1123.2" width="8" height="8"/><path d="M637.9 1120.2V1134.2M635.4 1120.2H640.4M635.4 1134.2H640.4"/><rect x="638.9" y="1109.3" width="8" height="8"/><path d="M642.9 1106.3V1120.3M640.4 1106.3H645.4M640.4 1120.3H645.4"/><rect x="644.0" y="1092.7" width="8" height="8"/><path d="M648.0 1089.7V1103.7M645.5 1089.7H650.5M645.5 1103.7H650.5"/><rect x="649.0" y="1074.2" width="8" height="8"/><path d="M653.0 1071.2V1085.2M650.5 1071.2H655.5M650.5 1085.2H655.5"/><rect x="653.8" y="1054.5" width="8" height="8"/><path d="M657.8 1051.5V1065.5M655.3 1051.5H660.3M655.3 1065.5H660.3"/><rect x="657.7" y="1041.1" width="8" height="8"/><path d="M661.7 1038.1V1052.1M659.2 1038.1H664.2M659.2 1052.1H664.2"/><rect x="662.0" y="1022.5" width="8" height="8"/><path d="M666.0 1019.5V1033.5M663.5 1019.5H668.5M663.5 1033.5H668.5"/><rect x="667.9" y="997.1" width="8" height="8"/><path d="M671.9 994.1V1008.1M669.4 994.1H674.4M669.4 1008.1H674.4"/><rect x="672.4" y="975.3" width="8" height="8"/><path d="M676.4 972.3V986.3M673.9 972.3H678.9M673.9 986.3H678.9"/><rect x="676.7" y="957.9" width="8" height="8"/><path d="M680.7 954.9V968.9M678.2 954.9H683.2M678.2 968.9H683.2"/><rect x="681.3" y="937.6" width="8" height="8"/><path d="M685.3 934.6V948.6M682.8 934.6H687.8M682.8 948.6H687.8"/><rect x="686.4" y="915.5" width="8" height="8"/><path d="M690.4 912.5V926.5M687.9 912.5H692.9M687.9 926.5H692.9"/><rect x="690.3" y="901.7" width="8" height="8"/><path d="M694.3 898.7V912.7M691.8 898.7H696.8M691.8 912.7H696.8"/><rect x="696.1" y="880.8" width="8" height="8"/><path d="M700.1 877.8V891.8M697.6 877.8H702.6M697.6 891.8H702.6"/><rect x="700.4" y="864.3" width="8" height="8"/><path d="M704.4 861.3V875.3M701.9 861.3H706.9M701.9 875.3H706.9"/><rect x="705.4" y="848.0" width="8" height="8"/><path d="M709.4 845.0V859.0M706.9 845.0H711.9M706.9 859.0H711.9"/><rect x="709.3" y="839.2" width="8" height="8"/><path d="M713.3 836.2V850.2M710.8 836.2H715.8M710.8 850.2H715.8"/><rect x="714.8" y="824.2" width="8" height="8"/><path d="M718.8 821.2V835.2M716.3 821.2H721.3M716.3 835.2H721.3"/><rect x="719.5" y="812.8" width="8" height="8"/><path d="M723.5 809.8V823.8M721.0 809.8H726.0M721.0 823.8H726.0"/><rect x="723.8" y="804.3" width="8" height="8"/><path d="M727.8 801.3V815.3M725.3 801.3H730.3M725.3 815.3H730.3"/><rect x="728.1" y="797.3" width="8" height="8"/><path d="M732.1 794.3V808.3M729.6 794.3H734.6M729.6 808.3H734.6"/><rect x="732.5" y="791.2" width="8" height="8"/><path d="M736.5 788.2V802.2M734.0 788.2H739.0M734.0 802.2H739.0"/><rect x="737.8" y="784.0" width="8" height="8"/><path d="M741.8 781.0V795.0M739.3 781.0H744.3M739.3 795.0H744.3"/><rect x="742.7" y="778.0" width="8" height="8"/><path d="M746.7 775.0V789.0M744.2 775.0H749.2M744.2 789.0H749.2"/><rect x="747.2" y="775.2" width="8" height="8"/><path d="M751.2 772.2V786.2M748.7 772.2H753.7M748.7 786.2H753.7"/><rect x="751.8" y="772.7" width="8" height="8"/><path d="M755.8 769.7V783.7M753.3 769.7H758.3M753.3 783.7H758.3"/><rect x="756.2" y="768.3" width="8" height="8"/><path d="M760.2 765.3V779.3M757.7 765.3H762.7M757.7 779.3H762.7"/><rect x="761.3" y="765.2" width="8" height="8"/><path d="M765.3 762.2V776.2M762.8 762.2H767.8M762.8 776.2H767.8"/><rect x="766.6" y="763.2" width="8" height="8"/><path d="M770.6 760.2V774.2M768.1 760.2H773.1M768.1 774.2H773.1"/><rect x="770.7" y="760.5" width="8" height="8"/><path d="M774.7 757.5V771.5M772.2 757.5H777.2M772.2 771.5H777.2"/><rect x="775.3" y="759.1" width="8" height="8"/><path d="M779.3 756.1V770.1M776.8 756.1H781.8M776.8 770.1H781.8"/><rect x="780.5" y="754.6" width="8" height="8"/><path d="M784.5 751.6V765.6M782.0 751.6H787.0M782.0 765.6H787.0"/><rect x="784.4" y="752.6" width="8" height="8"/><path d="M788.4 749.6V763.6M785.9 749.6H790.9M785.9 763.6H790.9"/><rect x="789.1" y="750.3" width="8" height="8"/><path d="M793.1 747.3V761.3M790.6 747.3H795.6M790.6 761.3H795.6"/><rect x="793.6" y="750.8" width="8" height="8"/><path d="M797.6 747.8V761.8M795.1 747.8H800.1M795.1 761.8H800.1"/><rect x="799.5" y="750.6" width="8" height="8"/><path d="M803.5 747.6V761.6M801.0 747.6H806.0M801.0 761.6H806.0"/><rect x="803.7" y="749.6" width="8" height="8"/><path d="M807.7 746.6V760.6M805.2 746.6H810.2M805.2 760.6H810.2"/><rect x="808.2" y="750.5" width="8" height="8"/><path d="M812.2 747.5V761.5M809.7 747.5H814.7M809.7 761.5H814.7"/><rect x="812.9" y="750.9" width="8" height="8"/><path d="M816.9 747.9V761.9M814.4 747.9H819.4M814.4 761.9H819.4"/><rect x="817.4" y="754.3" width="8" height="8"/><path d="M821.4 751.3V765.3M818.9 751.3H823.9M818.9 765.3H823.9"/><rect x="822.9" y="757.0" width="8" height="8"/><path d="M826.9 754.0V768.0M824.4 754.0H829.4M824.4 768.0H829.4"/><rect x="827.2" y="755.4" width="8" height="8"/><path d="M831.2 752.4V766.4M828.7 752.4H833.7M828.7 766.4H833.7"/><rect x="831.6" y="755.8" width="8" height="8"/><path d="M835.6 752.8V766.8M833.1 752.8H838.1M833.1 766.8H838.1"/><rect x="837.1" y="752.4" width="8" height="8"/><path d="M841.1 749.4V763.4M838.6 749.4H843.6M838.6 763.4H843.6"/><rect x="841.3" y="750.9" width="8" height="8"/><path d="M845.3 747.9V761.9M842.8 747.9H847.8M842.8 761.9H847.8"/><rect x="845.6" y="749.1" width="8" height="8"/><path d="M849.6 746.1V760.1M847.1 746.1H852.1M847.1 760.1H852.1"/><rect x="850.4" y="749.7" width="8" height="8"/><path d="M854.4 746.7V760.7M851.9 746.7H856.9M851.9 760.7H856.9"/><rect x="855.3" y="749.7" width="8" height="8"/><path d="M859.3 746.7V760.7M856.8 746.7H861.8M856.8 760.7H861.8"/><rect x="860.1" y="749.8" width="8" height="8"/><path d="M864.1 746.8V760.8M861.6 746.8H866.6M861.6 760.8H866.6"/><rect x="864.7" y="751.6" width="8" height="8"/><path d="M868.7 748.6V762.6M866.2 748.6H871.2M866.2 762.6H871.2"/><rect x="869.7" y="750.6" width="8" height="8"/><path d="M873.7 747.6V761.6M871.2 747.6H876.2M871.2 761.6H876.2"/><rect x="874.1" y="751.8" width="8" height="8"/><path d="M878.1 748.8V762.8M875.6 748.8H880.6M875.6 762.8H880.6"/><rect x="879.1" y="750.6" width="8" height="8"/><path d="M883.1 747.6V761.6M880.6 747.6H885.6M880.6 761.6H885.6"/><rect x="884.1" y="748.4" width="8" height="8"/><path d="M888.1 745.4V759.4M885.6 745.4H890.6M885.6 759.4H890.6"/><rect x="888.3" y="749.5" width="8" height="8"/><path d="M892.3 746.5V760.5M889.8 746.5H894.8M889.8 760.5H894.8"/><rect x="892.8" y="750.0" width="8" height="8"/><path d="M896.8 747.0V761.0M894.3 747.0H899.3M894.3 761.0H899.3"/><rect x="898.2" y="748.4" width="8" height="8"/><path d="M902.2 745.4V759.4M899.7 745.4H904.7M899.7 759.4H904.7"/><rect x="902.4" y="750.5" width="8" height="8"/><path d="M906.4 747.5V761.5M903.9 747.5H908.9M903.9 761.5H908.9"/><rect x="907.2" y="750.3" width="8" height="8"/><path d="M911.2 747.3V761.3M908.7 747.3H913.7M908.7 761.3H913.7"/><rect x="912.1" y="751.4" width="8" height="8"/><path d="M916.1 748.4V762.4M913.6 748.4H918.6M913.6 762.4H918.6"/><rect x="916.0" y="753.2" width="8" height="8"/><path d="M920.0 750.2V764.2M917.5 750.2H922.5M917.5 764.2H922.5"/><rect x="921.3" y="753.5" width="8" height="8"/><path d="M925.3 750.5V764.5M922.8 750.5H927.8M922.8 764.5H927.8"/><rect x="925.8" y="755.2" width="8" height="8"/><path d="M929.8 752.2V766.2M927.3 752.2H932.3M927.3 766.2H932.3"/><rect x="930.9" y="753.4" width="8" height="8"/><path d="M934.9 750.4V764.4M932.4 750.4H937.4M932.4 764.4H937.4"/><rect x="935.7" y="753.8" width="8" height="8"/><path d="M939.7 750.8V764.8M937.2 750.8H942.2M937.2 764.8H942.2"/><rect x="939.8" y="754.0" width="8" height="8"/><path d="M943.8 751.0V765.0M941.3 751.0H946.3M941.3 765.0H946.3"/><rect x="944.9" y="754.7" width="8" height="8"/><path d="M948.9 751.7V765.7M946.4 751.7H951.4M946.4 765.7H951.4"/><rect x="949.5" y="753.1" width="8" height="8"/><path d="M953.5 750.1V764.1M951.0 750.1H956.0M951.0 764.1H956.0"/><rect x="953.9" y="750.1" width="8" height="8"/><path d="M957.9 747.1V761.1M955.4 747.1H960.4M955.4 761.1H960.4"/><rect x="958.6" y="750.0" width="8" height="8"/><path d="M962.6 747.0V761.0M960.1 747.0H965.1M960.1 761.0H965.1"/><rect x="963.9" y="751.1" width="8" height="8"/><path d="M967.9 748.1V762.1M965.4 748.1H970.4M965.4 762.1H970.4"/><rect x="968.2" y="752.5" width="8" height="8"/><path d="M972.2 749.5V763.5M969.7 749.5H974.7M969.7 763.5H974.7"/><rect x="972.4" y="753.1" width="8" height="8"/><path d="M976.4 750.1V764.1M973.9 750.1H978.9M973.9 764.1H978.9"/><rect x="977.3" y="751.2" width="8" height="8"/><path d="M981.3 748.2V762.2M978.8 748.2H983.8M978.8 762.2H983.8"/><rect x="982.3" y="752.5" width="8" height="8"/><path d="M986.3 749.5V763.5M983.8 749.5H988.8M983.8 763.5H988.8"/><rect x="987.4" y="752.9" width="8" height="8"/><path d="M991.4 749.9V763.9M988.9 749.9H993.9M988.9 763.9H993.9"/><rect x="991.1" y="751.8" width="8" height="8"/><path d="M995.1 748.8V762.8M992.6 748.8H997.6M992.6 762.8H997.6"/><rect x="995.7" y="753.4" width="8" height="8"/><path d="M999.7 750.4V764.4M997.2 750.4H1002.2M997.2 764.4H1002.2"/><rect x="1001.3" y="752.3" width="8" height="8"/><path d="M1005.3 749.3V763.3M1002.8 749.3H1007.8M1002.8 763.3H1007.8"/><rect x="1005.5" y="753.7" width="8" height="8"/><path d="M1009.5 750.7V764.7M1007.0 750.7H1012.0M1007.0 764.7H1012.0"/><rect x="1010.9" y="755.4" width="8" height="8"/><path d="M1014.9 752.4V766.4M1012.4 752.4H1017.4M1012.4 766.4H1017.4"/><rect x="1015.6" y="754.6" width="8" height="8"/><path d="M1019.6 751.6V765.6M1017.1 751.6H1022.1M1017.1 765.6H1022.1"/><rect x="1019.9" y="754.1" width="8" height="8"/><path d="M1023.9 751.1V765.1M1021.4 751.1H1026.4M1021.4 765.1H1026.4"/><rect x="1024.6" y="754.9" width="8" height="8"/><path d="M1028.6 751.9V765.9M1026.1 751.9H1031.1M1026.1 765.9H1031.1"/><rect x="1029.0" y="757.7" width="8" height="8"/><path d="M1033.0 754.7V768.7M1030.5 754.7H1035.5M1030.5 768.7H1035.5"/><rect x="1034.0" y="758.4" width="8" height="8"/><path d="M1038.0 755.4V769.4M1035.5 755.4H1040.5M1035.5 769.4H1040.5"/><rect x="1038.6" y="757.9" width="8" height="8"/><path d="M1042.6 754.9V768.9M1040.1 754.9H1045.1M1040.1 768.9H1045.1"/><rect x="1043.3" y="759.7" width="8" height="8"/><path d="M1047.3 756.7V770.7M1044.8 756.7H1049.8M1044.8 770.7H1049.8"/><rect x="1047.7" y="760.4" width="8" height="8"/><path d="M1051.7 757.4V771.4M1049.2 757.4H1054.2M1049.2 771.4H1054.2"/><rect x="1053.3" y="756.5" width="8" height="8"/><path d="M1057.3 753.5V767.5M1054.8 753.5H1059.8M1054.8 767.5H1059.8"/><rect x="1057.1" y="757.1" width="8" height="8"/><path d="M1061.1 754.1V768.1M1058.6 754.1H1063.6M1058.6 768.1H1063.6"/><rect x="1062.4" y="753.4" width="8" height="8"/><path d="M1066.4 750.4V764.4M1063.9 750.4H1068.9M1063.9 764.4H1068.9"/><rect x="1066.9" y="751.9" width="8" height="8"/><path d="M1070.9 748.9V762.9M1068.4 748.9H1073.4M1068.4 762.9H1073.4"/><rect x="1071.9" y="751.2" width="8" height="8"/><path d="M1075.9 748.2V762.2M1073.4 748.2H1078.4M1073.4 762.2H1078.4"/><rect x="1076.2" y="748.5" width="8" height="8"/><path d="M1080.2 745.5V759.5M1077.7 745.5H1082.7M1077.7 759.5H1082.7"/><rect x="1080.8" y="750.5" width="8" height="8"/><path d="M1084.8 747.5V761.5M1082.3 747.5H1087.3M1082.3 761.5H1087.3"/><rect x="1085.4" y="750.6" width="8" height="8"/><path d="M1089.4 747.6V761.6M1086.9 747.6H1091.9M1086.9 761.6H1091.9"/><rect x="1089.9" y="753.2" width="8" height="8"/><path d="M1093.9 750.2V764.2M1091.4 750.2H1096.4M1091.4 764.2H1096.4"/><rect x="1095.5" y="754.8" width="8" height="8"/><path d="M1099.5 751.8V765.8M1097.0 751.8H1102.0M1097.0 765.8H1102.0"/><rect x="1099.8" y="755.6" width="8" height="8"/><path d="M1103.8 752.6V766.6M1101.3 752.6H1106.3M1101.3 766.6H1106.3"/><rect x="1104.0" y="754.8" width="8" height="8"/><path d="M1108.0 751.8V765.8M1105.5 751.8H1110.5M1105.5 765.8H1110.5"/><rect x="1109.3" y="754.4" width="8" height="8"/><path d="M1113.3 751.4V765.4M1110.8 751.4H1115.8M1110.8 765.4H1115.8"/><rect x="1113.3" y="756.6" width="8" height="8"/><path d="M1117.3 753.6V767.6M1114.8 753.6H1119.8M1114.8 767.6H1119.8"/></g>
<path d="M213.00 1214.30 L214.00 1214.30 L215.00 1214.30 L216.00 1214.30 L217.00 1214.30 L218.00 1214.30 L219.00 1214.30 L220.00 1214.30 L221.00 1214.30 L222.00 1214.30 L223.00 1214.30 L224.00 1214.30 L225.00 1214.30 L226.00 1214.30 L227.00 1214.30 L228.00 1214.30 L229.00 1214.30 L230.00 1214.30 L231.00 1214.30 L232.00 1214.30 L233.00 1214.30 L234.00 1214.30 L235.00 1214.30 L236.00 1214.30 L237.00 1214.30 L238.00 1214.30 L239.00 1214.30 L240.00 1214.30 L241.00 1214.30 L242.00 1214.30 L243.00 1214.30 L244.00 1214.30 L245.00 1214.30 L246.00 1214.30 L247.00 1214.30 L248.00 1214.30 L249.00 1214.30 L250.00 1214.30 L251.00 1214.30 L252.00 1214.30 L253.00 1214.30 L254.00 1214.30 L255.00 1214.30 L256.00 1214.30 L257.00 1214.30 L258.00 1214.30 L259.00 1214.30 L260.00 1214.30 L261.00 1214.30 L262.00 1214.30 L263.00 1214.30 L264.00 1214.30 L265.00 1214.30 L266.00 1214.30 L267.00 1214.30 L268.00 1214.30 L269.00 1214.30 L270.00 1214.30 L271.00 1214.30 L272.00 1214.30 L273.00 1214.30 L274.00 1214.30 L275.00 1214.30 L276.00 1214.30 L277.00 1214.30 L278.00 1214.30 L279.00 1214.30 L280.00 1214.30 L281.00 1214.30 L282.00 1214.30 L283.00 1214.30 L284.00 1214.30 L285.00 1214.30 L286.00 1214.30 L287.00 1214.30 L288.00 1214.30 L289.00 1214.30 L290.00 1214.30 L291.00 1214.30 L292.00 1214.30 L293.00 1214.30 L294.00 1214.30 L295.00 1214.30 L296.00 1214.30 L297.00 1214.30 L298.00 1214.30 L299.00 1214.30 L300.00 1214.30 L301.00 1214.30 L302.00 1214.30 L303.00 1214.30 L304.00 1214.30 L305.00 1214.30 L306.00 1214.30 L307.00 1214.30 L308.00 1214.30 L309.00 1214.30 L310.00 1214.30 L311.00 1214.30 L312.00 1214.30 L313.00 1214.30 L314.00 1214.30 L315.00 1214.30 L316.00 1214.30 L317.00 1214.30 L318.00 1214.30 L319.00 1214.30 L320.00 1214.30 L321.00 1214.30 L322.00 1214.30 L323.00 1214.30 L324.00 1214.30 L325.00 1214.30 L326.00 1214.30 L327.00 1214.30 L328.00 1214.30 L329.00 1214.30 L330.00 1214.30 L331.00 1214.30 L332.00 1214.30 L333.00 1214.30 L334.00 1214.30 L335.00 1214.30 L336.00 1214.30 L337.00 1214.30 L338.00 1214.30 L339.00 1214.30 L340.00 1214.30 L341.00 1214.30 L342.00 1214.30 L343.00 1214.30 L344.00 1214.30 L345.00 1214.30 L346.00 1214.30 L347.00 1214.30 L348.00 1214.30 L349.00 1214.30 L350.00 1214.30 L351.00 1214.30 L352.00 1214.30 L353.00 1214.30 L354.00 1214.30 L355.00 1214.30 L356.00 1214.30 L357.00 1214.30 L358.00 1214.30 L359.00 1214.30 L360.00 1214.30 L361.00 1214.30 L362.00 1214.30 L363.00 1214.30 L364.00 1214.30 L365.00 1214.30 L366.00 1214.30 L367.00 1214.30 L368.00 1214.30 L369.00 1214.30 L370.00 1214.30 L371.00 1214.30 L372.00 1214.30 L373.00 1214.30 L374.00 1214.30 L375.00 1214.30 L376.00 1214.30 L377.00 1214.30 L378.00 1214.30 L379.00 1214.30 L380.00 1214.30 L381.00 1214.29 L382.00 1214.29 L383.00 1214.29 L384.00 1214.29 L385.00 1214.29 L386.00 1214.29 L387.00 1214.29 L388.00 1214.29 L389.00 1214.29 L390.00 1214.29 L391.00 1214.29 L392.00 1214.29 L393.00 1214.29 L394.00 1214.29 L395.00 1214.29 L396.00 1214.29 L397.00 1214.29 L398.00 1214.29 L399.00 1214.29 L400.00 1214.29 L401.00 1214.29 L402.00 1214.29 L403.00 1214.29 L404.00 1214.29 L405.00 1214.29 L406.00 1214.29 L407.00 1214.29 L408.00 1214.29 L409.00 1214.29 L410.00 1214.28 L411.00 1214.28 L412.00 1214.28 L413.00 1214.28 L414.00 1214.28 L415.00 1214.28 L416.00 1214.28 L417.00 1214.28 L418.00 1214.28 L419.00 1214.28 L420.00 1214.28 L421.00 1214.28 L422.00 1214.28 L423.00 1214.27 L424.00 1214.27 L425.00 1214.27 L426.00 1214.27 L427.00 1214.27 L428.00 1214.27 L429.00 1214.27 L430.00 1214.27 L431.00 1214.27 L432.00 1214.26 L433.00 1214.26 L434.00 1214.26 L435.00 1214.26 L436.00 1214.26 L437.00 1214.26 L438.00 1214.26 L439.00 1214.25 L440.00 1214.25 L441.00 1214.25 L442.00 1214.25 L443.00 1214.25 L444.00 1214.24 L445.00 1214.24 L446.00 1214.24 L447.00 1214.24 L448.00 1214.23 L449.00 1214.23 L450.00 1214.23 L451.00 1214.23 L452.00 1214.22 L453.00 1214.22 L454.00 1214.22 L455.00 1214.21 L456.00 1214.21 L457.00 1214.21 L458.00 1214.20 L459.00 1214.20 L460.00 1214.20 L461.00 1214.19 L462.00 1214.19 L463.00 1214.18 L464.00 1214.18 L465.00 1214.17 L466.00 1214.17 L467.00 1214.16 L468.00 1214.16 L469.00 1214.15 L470.00 1214.15 L471.00 1214.14 L472.00 1214.13 L473.00 1214.13 L474.00 1214.12 L475.00 1214.11 L476.00 1214.11 L477.00 1214.10 L478.00 1214.09 L479.00 1214.08 L480.00 1214.07 L481.00 1214.07 L482.00 1214.06 L483.00 1214.05 L484.00 1214.04 L485.00 1214.03 L486.00 1214.02 L487.00 1214.00 L488.00 1213.99 L489.00 1213.98 L490.00 1213.97 L491.00 1213.96 L492.00 1213.94 L493.00 1213.93 L494.00 1213.91 L495.00 1213.90 L496.00 1213.88 L497.00 1213.87 L498.00 1213.85 L499.00 1213.83 L500.00 1213.81 L501.00 1213.79 L502.00 1213.77 L503.00 1213.75 L504.00 1213.73 L505.00 1213.71 L506.00 1213.69 L507.00 1213.66 L508.00 1213.64 L509.00 1213.61 L510.00 1213.59 L511.00 1213.56 L512.00 1213.53 L513.00 1213.50 L514.00 1213.47 L515.00 1213.43 L516.00 1213.40 L517.00 1213.36 L518.00 1213.33 L519.00 1213.29 L520.00 1213.25 L521.00 1213.21 L522.00 1213.17 L523.00 1213.12 L524.00 1213.08 L525.00 1213.03 L526.00 1212.98 L527.00 1212.93 L528.00 1212.87 L529.00 1212.82 L530.00 1212.76 L531.00 1212.70 L532.00 1212.64 L533.00 1212.57 L534.00 1212.50 L535.00 1212.43 L536.00 1212.36 L537.00 1212.29 L538.00 1212.21 L539.00 1212.13 L540.00 1212.04 L541.00 1211.95 L542.00 1211.86 L543.00 1211.77 L544.00 1211.67 L545.00 1211.56 L546.00 1211.46 L547.00 1211.35 L548.00 1211.23 L549.00 1211.11 L550.00 1210.99 L551.00 1210.86 L552.00 1210.73 L553.00 1210.59 L554.00 1210.44 L555.00 1210.29 L556.00 1210.14 L557.00 1209.98 L558.00 1209.81 L559.00 1209.63 L560.00 1209.45 L561.00 1209.26 L562.00 1209.07 L563.00 1208.87 L564.00 1208.66 L565.00 1208.44 L566.00 1208.21 L567.00 1207.98 L568.00 1207.73 L569.00 1207.48 L570.00 1207.21 L571.00 1206.94 L572.00 1206.66 L573.00 1206.36 L574.00 1206.06 L575.00 1205.74 L576.00 1205.41 L577.00 1205.07 L578.00 1204.71 L579.00 1204.35 L580.00 1203.97 L581.00 1203.57 L582.00 1203.16 L583.00 1202.73 L584.00 1202.29 L585.00 1201.83 L586.00 1201.36 L587.00 1200.87 L588.00 1200.36 L589.00 1199.83 L590.00 1199.28 L591.00 1198.71 L592.00 1198.12 L593.00 1197.51 L594.00 1196.87 L595.00 1196.22 L596.00 1195.54 L597.00 1194.83 L598.00 1194.10 L599.00 1193.35 L600.00 1192.56 L601.00 1191.75 L602.00 1190.92 L603.00 1190.05 L604.00 1189.15 L605.00 1188.22 L606.00 1187.26 L607.00 1186.26 L608.00 1185.23 L609.00 1184.17 L610.00 1183.06 L611.00 1181.93 L612.00 1180.75 L613.00 1179.53 L614.00 1178.28 L615.00 1176.98 L616.00 1175.64 L617.00 1174.26 L618.00 1172.83 L619.00 1171.36 L620.00 1169.84 L621.00 1168.27 L622.00 1166.65 L623.00 1164.98 L624.00 1163.26 L625.00 1161.49 L626.00 1159.67 L627.00 1157.79 L628.00 1155.86 L629.00 1153.87 L630.00 1151.82 L631.00 1149.72 L632.00 1147.55 L633.00 1145.33 L634.00 1143.05 L635.00 1140.70 L636.00 1138.29 L637.00 1135.82 L638.00 1133.29 L639.00 1130.69 L640.00 1128.03 L641.00 1125.31 L642.00 1122.52 L643.00 1119.66 L644.00 1116.74 L645.00 1113.75 L646.00 1110.70 L647.00 1107.59 L648.00 1104.41 L649.00 1101.16 L650.00 1097.85 L651.00 1094.48 L652.00 1091.04 L653.00 1087.55 L654.00 1083.99 L655.00 1080.37 L656.00 1076.70 L657.00 1072.97 L658.00 1069.18 L659.00 1065.34 L660.00 1061.45 L661.00 1057.50 L662.00 1053.51 L663.00 1049.48 L664.00 1045.40 L665.00 1041.27 L666.00 1037.11 L667.00 1032.91 L668.00 1028.68 L669.00 1024.42 L670.00 1020.13 L671.00 1015.81 L672.00 1011.47 L673.00 1007.12 L674.00 1002.74 L675.00 998.36 L676.00 993.96 L677.00 989.56 L678.00 985.15 L679.00 980.74 L680.00 976.34 L681.00 971.94 L682.00 967.56 L683.00 963.18 L684.00 958.83 L685.00 954.49 L686.00 950.17 L687.00 945.88 L688.00 941.62 L689.00 937.39 L690.00 933.19 L691.00 929.03 L692.00 924.90 L693.00 920.82 L694.00 916.79 L695.00 912.80 L696.00 908.85 L697.00 904.96 L698.00 901.12 L699.00 897.33 L700.00 893.60 L701.00 889.93 L702.00 886.31 L703.00 882.75 L704.00 879.26 L705.00 875.82 L706.00 872.45 L707.00 869.14 L708.00 865.89 L709.00 862.71 L710.00 859.60 L711.00 856.55 L712.00 853.56 L713.00 850.64 L714.00 847.78 L715.00 844.99 L716.00 842.27 L717.00 839.61 L718.00 837.01 L719.00 834.48 L720.00 832.01 L721.00 829.60 L722.00 827.25 L723.00 824.97 L724.00 822.75 L725.00 820.58 L726.00 818.48 L727.00 816.43 L728.00 814.44 L729.00 812.51 L730.00 810.63 L731.00 808.81 L732.00 807.04 L733.00 805.32 L734.00 803.65 L735.00 802.03 L736.00 800.46 L737.00 798.94 L738.00 797.47 L739.00 796.04 L740.00 794.66 L741.00 793.32 L742.00 792.02 L743.00 790.77 L744.00 789.55 L745.00 788.37 L746.00 787.24 L747.00 786.13 L748.00 785.07 L749.00 784.04 L750.00 783.04 L751.00 782.08 L752.00 781.15 L753.00 780.25 L754.00 779.38 L755.00 778.55 L756.00 777.74 L757.00 776.95 L758.00 776.20 L759.00 775.47 L760.00 774.76 L761.00 774.08 L762.00 773.43 L763.00 772.79 L764.00 772.18 L765.00 771.59 L766.00 771.02 L767.00 770.47 L768.00 769.94 L769.00 769.43 L770.00 768.94 L771.00 768.47 L772.00 768.01 L773.00 767.57 L774.00 767.14 L775.00 766.73 L776.00 766.33 L777.00 765.95 L778.00 765.59 L779.00 765.23 L780.00 764.89 L781.00 764.56 L782.00 764.24 L783.00 763.94 L784.00 763.64 L785.00 763.36 L786.00 763.09 L787.00 762.82 L788.00 762.57 L789.00 762.32 L790.00 762.09 L791.00 761.86 L792.00 761.64 L793.00 761.43 L794.00 761.23 L795.00 761.04 L796.00 760.85 L797.00 760.67 L798.00 760.49 L799.00 760.32 L800.00 760.16 L801.00 760.01 L802.00 759.86 L803.00 759.71 L804.00 759.57 L805.00 759.44 L806.00 759.31 L807.00 759.19 L808.00 759.07 L809.00 758.95 L810.00 758.84 L811.00 758.74 L812.00 758.63 L813.00 758.53 L814.00 758.44 L815.00 758.35 L816.00 758.26 L817.00 758.17 L818.00 758.09 L819.00 758.01 L820.00 757.94 L821.00 757.87 L822.00 757.80 L823.00 757.73 L824.00 757.66 L825.00 757.60 L826.00 757.54 L827.00 757.48 L828.00 757.43 L829.00 757.37 L830.00 757.32 L831.00 757.27 L832.00 757.22 L833.00 757.18 L834.00 757.13 L835.00 757.09 L836.00 757.05 L837.00 757.01 L838.00 756.97 L839.00 756.94 L840.00 756.90 L841.00 756.87 L842.00 756.83 L843.00 756.80 L844.00 756.77 L845.00 756.74 L846.00 756.71 L847.00 756.69 L848.00 756.66 L849.00 756.64 L850.00 756.61 L851.00 756.59 L852.00 756.57 L853.00 756.55 L854.00 756.53 L855.00 756.51 L856.00 756.49 L857.00 756.47 L858.00 756.45 L859.00 756.43 L860.00 756.42 L861.00 756.40 L862.00 756.39 L863.00 756.37 L864.00 756.36 L865.00 756.34 L866.00 756.33 L867.00 756.32 L868.00 756.31 L869.00 756.30 L870.00 756.28 L871.00 756.27 L872.00 756.26 L873.00 756.25 L874.00 756.24 L875.00 756.23 L876.00 756.23 L877.00 756.22 L878.00 756.21 L879.00 756.20 L880.00 756.19 L881.00 756.19 L882.00 756.18 L883.00 756.17 L884.00 756.17 L885.00 756.16 L886.00 756.15 L887.00 756.15 L888.00 756.14 L889.00 756.14 L890.00 756.13 L891.00 756.13 L892.00 756.12 L893.00 756.12 L894.00 756.11 L895.00 756.11 L896.00 756.10 L897.00 756.10 L898.00 756.10 L899.00 756.09 L900.00 756.09 L901.00 756.09 L902.00 756.08 L903.00 756.08 L904.00 756.08 L905.00 756.07 L906.00 756.07 L907.00 756.07 L908.00 756.07 L909.00 756.06 L910.00 756.06 L911.00 756.06 L912.00 756.06 L913.00 756.05 L914.00 756.05 L915.00 756.05 L916.00 756.05 L917.00 756.05 L918.00 756.04 L919.00 756.04 L920.00 756.04 L921.00 756.04 L922.00 756.04 L923.00 756.04 L924.00 756.04 L925.00 756.03 L926.00 756.03 L927.00 756.03 L928.00 756.03 L929.00 756.03 L930.00 756.03 L931.00 756.03 L932.00 756.03 L933.00 756.03 L934.00 756.02 L935.00 756.02 L936.00 756.02 L937.00 756.02 L938.00 756.02 L939.00 756.02 L940.00 756.02 L941.00 756.02 L942.00 756.02 L943.00 756.02 L944.00 756.02 L945.00 756.02 L946.00 756.02 L947.00 756.01 L948.00 756.01 L949.00 756.01 L950.00 756.01 L951.00 756.01 L952.00 756.01 L953.00 756.01 L954.00 756.01 L955.00 756.01 L956.00 756.01 L957.00 756.01 L958.00 756.01 L959.00 756.01 L960.00 756.01 L961.00 756.01 L962.00 756.01 L963.00 756.01 L964.00 756.01 L965.00 756.01 L966.00 756.01 L967.00 756.01 L968.00 756.01 L969.00 756.01 L970.00 756.01 L971.00 756.01 L972.00 756.01 L973.00 756.01 L974.00 756.01 L975.00 756.01 L976.00 756.00 L977.00 756.00 L978.00 756.00 L979.00 756.00 L980.00 756.00 L981.00 756.00 L982.00 756.00 L983.00 756.00 L984.00 756.00 L985.00 756.00 L986.00 756.00 L987.00 756.00 L988.00 756.00 L989.00 756.00 L990.00 756.00 L991.00 756.00 L992.00 756.00 L993.00 756.00 L994.00 756.00 L995.00 756.00 L996.00 756.00 L997.00 756.00 L998.00 756.00 L999.00 756.00 L1000.00 756.00 L1001.00 756.00 L1002.00 756.00 L1003.00 756.00 L1004.00 756.00 L1005.00 756.00 L1006.00 756.00 L1007.00 756.00 L1008.00 756.00 L1009.00 756.00 L1010.00 756.00 L1011.00 756.00 L1012.00 756.00 L1013.00 756.00 L1014.00 756.00 L1015.00 756.00 L1016.00 756.00 L1017.00 756.00 L1018.00 756.00 L1019.00 756.00 L1020.00 756.00 L1021.00 756.00 L1022.00 756.00 L1023.00 756.00 L1024.00 756.00 L1025.00 756.00 L1026.00 756.00 L1027.00 756.00 L1028.00 756.00 L1029.00 756.00 L1030.00 756.00 L1031.00 756.00 L1032.00 756.00 L1033.00 756.00 L1034.00 756.00 L1035.00 756.00 L1036.00 756.00 L1037.00 756.00 L1038.00 756.00 L1039.00 756.00 L1040.00 756.00 L1041.00 756.00 L1042.00 756.00 L1043.00 756.00 L1044.00 756.00 L1045.00 756.00 L1046.00 756.00 L1047.00 756.00 L1048.00 756.00 L1049.00 756.00 L1050.00 756.00 L1051.00 756.00 L1052.00 756.00 L1053.00 756.00 L1054.00 756.00 L1055.00 756.00 L1056.00 756.00 L1057.00 756.00 L1058.00 756.00 L1059.00 756.00 L1060.00 756.00 L1061.00 756.00 L1062.00 756.00 L1063.00 756.00 L1064.00 756.00 L1065.00 756.00 L1066.00 756.00 L1067.00 756.00 L1068.00 756.00 L1069.00 756.00 L1070.00 756.00 L1071.00 756.00 L1072.00 756.00 L1073.00 756.00 L1074.00 756.00 L1075.00 756.00 L1076.00 756.00 L1077.00 756.00 L1078.00 756.00 L1079.00 756.00 L1080.00 756.00 L1081.00 756.00 L1082.00 756.00 L1083.00 756.00 L1084.00 756.00 L1085.00 756.00 L1086.00 756.00 L1087.00 756.00 L1088.00 756.00 L1089.00 756.00 L1090.00 756.00 L1091.00 756.00 L1092.00 756.00 L1093.00 756.00 L1094.00 756.00 L1095.00 756.00 L1096.00 756.00 L1097.00 756.00 L1098.00 756.00 L1099.00 756.00 L1100.00 756.00 L1101.00 756.00 L1102.00 756.00 L1103.00 756.00 L1104.00 756.00 L1105.00 756.00 L1106.00 756.00 L1107.00 756.00 L1108.00 756.00 L1109.00 756.00 L1110.00 756.00 L1111.00 756.00 L1112.00 756.00 L1113.00 756.00 L1114.00 756.00 L1115.00 756.00 L1116.00 756.00 L1117.00 756.00 L1117.70 756.00" fill="none" stroke="#ff0000" stroke-width="5.5" stroke-linecap="round" stroke-linejoin="round"/>
<text x="-3.5" y="760.8" font-size="70" text-anchor="start" font-weight="bold" >(b)</text>
<text x="255.7" y="792.8" font-size="53.3" text-anchor="start" font-weight="normal" >-500 mV</text>
<text x="189.2" y="876.0" font-size="53.3" text-anchor="end" font-weight="normal" >0.30</text>
<text x="189.2" y="1042.6" font-size="53.3" text-anchor="end" font-weight="normal" >0.25</text>
<text x="189.2" y="1208.8" font-size="53.3" text-anchor="end" font-weight="normal" >0.20</text>
<text transform="translate(40.2 1023.5) rotate(-90)" font-size="53.3" text-anchor="middle">dI/dU (nS)</text>
<circle cx="809.2" cy="1146.9" r="10.4" fill="#000"/>
<text x="849.4" y="1166.3" font-size="53.3" text-anchor="start" font-weight="normal" >forward</text>
<circle cx="809.2" cy="1218.0" r="10.4" fill="#0000ff"/>
<text x="845.4" y="1236.6" font-size="53.3" text-anchor="start" font-weight="normal" >backward</text>
<line x1="785.60" y1="1284.30" x2="832.00" y2="1284.30" stroke="#ff0000" stroke-width="5.5" stroke-linecap="round"/>
<text x="849.4" y="1306.4" font-size="53.3" text-anchor="start" font-weight="normal" >fit</text>
<rect x="213.40" y="1379.50" width="901.50" height="661.00" fill="none" stroke="#000" stroke-width="2.5"/>
<line x1="203.90" y1="1409.40" x2="213.40" y2="1409.40" stroke="#000" stroke-width="2.5" stroke-linecap="butt"/>
<line x1="203.90" y1="1559.70" x2="213.40" y2="1559.70" stroke="#000" stroke-width="2.5" stroke-linecap="butt"/>
<line x1="203.90" y1="1709.90" x2="213.40" y2="1709.90" stroke="#000" stroke-width="2.5" stroke-linecap="butt"/>
<line x1="203.90" y1="1860.10" x2="213.40" y2="1860.10" stroke="#000" stroke-width="2.5" stroke-linecap="butt"/>
<line x1="203.90" y1="2010.30" x2="213.40" y2="2010.30" stroke="#000" stroke-width="2.5" stroke-linecap="butt"/>
<line x1="203.90" y1="1484.55" x2="213.40" y2="1484.55" stroke="#000" stroke-width="2.5" stroke-linecap="butt"/>
<line x1="203.90" y1="1634.80" x2="213.40" y2="1634.80" stroke="#000" stroke-width="2.5" stroke-linecap="butt"/>
<line x1="203.90" y1="1785.00" x2="213.40" y2="1785.00" stroke="#000" stroke-width="2.5" stroke-linecap="butt"/>
<line x1="203.90" y1="1935.20" x2="213.40" y2="1935.20" stroke="#000" stroke-width="2.5" stroke-linecap="butt"/>
<line x1="213.20" y1="2040.50" x2="213.20" y2="2051.00" stroke="#000" stroke-width="2.5" stroke-linecap="butt"/>
<line x1="283.62" y1="2040.50" x2="283.62" y2="2046.00" stroke="#000" stroke-width="2.5" stroke-linecap="butt"/>
<text x="213.8" y="2104.5" font-size="53.3" text-anchor="middle" font-weight="normal" >0</text>
<line x1="354.05" y1="2040.50" x2="354.05" y2="2051.00" stroke="#000" stroke-width="2.5" stroke-linecap="butt"/>
<line x1="424.48" y1="2040.50" x2="424.48" y2="2046.00" stroke="#000" stroke-width="2.5" stroke-linecap="butt"/>
<text x="355.7" y="2104.5" font-size="53.3" text-anchor="middle" font-weight="normal" >10</text>
<line x1="494.90" y1="2040.50" x2="494.90" y2="2051.00" stroke="#000" stroke-width="2.5" stroke-linecap="butt"/>
<line x1="565.33" y1="2040.50" x2="565.33" y2="2046.00" stroke="#000" stroke-width="2.5" stroke-linecap="butt"/>
<text x="497.7" y="2104.5" font-size="53.3" text-anchor="middle" font-weight="normal" >20</text>
<line x1="635.75" y1="2040.50" x2="635.75" y2="2051.00" stroke="#000" stroke-width="2.5" stroke-linecap="butt"/>
<line x1="706.17" y1="2040.50" x2="706.17" y2="2046.00" stroke="#000" stroke-width="2.5" stroke-linecap="butt"/>
<text x="639.6" y="2104.5" font-size="53.3" text-anchor="middle" font-weight="normal" >30</text>
<line x1="776.60" y1="2040.50" x2="776.60" y2="2051.00" stroke="#000" stroke-width="2.5" stroke-linecap="butt"/>
<line x1="847.03" y1="2040.50" x2="847.03" y2="2046.00" stroke="#000" stroke-width="2.5" stroke-linecap="butt"/>
<text x="781.5" y="2104.5" font-size="53.3" text-anchor="middle" font-weight="normal" >40</text>
<line x1="917.45" y1="2040.50" x2="917.45" y2="2051.00" stroke="#000" stroke-width="2.5" stroke-linecap="butt"/>
<line x1="987.88" y1="2040.50" x2="987.88" y2="2046.00" stroke="#000" stroke-width="2.5" stroke-linecap="butt"/>
<text x="923.5" y="2104.5" font-size="53.3" text-anchor="middle" font-weight="normal" >50</text>
<line x1="1058.30" y1="2040.50" x2="1058.30" y2="2051.00" stroke="#000" stroke-width="2.5" stroke-linecap="butt"/>
<text x="1065.4" y="2104.5" font-size="53.3" text-anchor="middle" font-weight="normal" >60</text>
<text x="194.0" y="1426.4" font-size="53.3" text-anchor="end" font-weight="normal" >-1.0</text>
<text x="194.0" y="1578.3" font-size="53.3" text-anchor="end" font-weight="normal" >-0.5</text>
<text x="194.0" y="1729.9" font-size="53.3" text-anchor="end" font-weight="normal" >0.0</text>
<text x="194.0" y="1881.5" font-size="53.3" text-anchor="end" font-weight="normal" >0.5</text>
<text x="194.0" y="2033.2" font-size="53.3" text-anchor="end" font-weight="normal" >1.0</text>
<g fill="#0000ff"><circle cx="561.40" cy="2008.08" r="8"/><circle cx="566.73" cy="2007.41" r="8"/><circle cx="572.06" cy="2006.55" r="8"/><circle cx="577.39" cy="2005.45" r="8"/><circle cx="582.72" cy="2004.04" r="8"/><circle cx="588.05" cy="2002.22" r="8"/><circle cx="593.38" cy="1999.90" r="8"/><circle cx="598.71" cy="1996.93" r="8"/><circle cx="604.04" cy="1993.15" r="8"/><circle cx="609.37" cy="1988.35" r="8"/><circle cx="614.70" cy="1982.28" r="8"/><circle cx="620.03" cy="1974.64" r="8"/><circle cx="625.36" cy="1965.09" r="8"/><circle cx="630.69" cy="1953.24" r="8"/><circle cx="636.02" cy="1938.70" r="8"/><circle cx="641.35" cy="1921.06" r="8"/><circle cx="646.68" cy="1899.99" r="8"/><circle cx="652.01" cy="1875.26" r="8"/><circle cx="657.34" cy="1846.85" r="8"/><circle cx="662.67" cy="1814.96" r="8"/><circle cx="668.00" cy="1780.13" r="8"/><circle cx="673.33" cy="1743.18" r="8"/><circle cx="678.66" cy="1705.18" r="8"/><circle cx="683.99" cy="1667.33" r="8"/><circle cx="689.32" cy="1630.81" r="8"/><circle cx="694.65" cy="1596.64" r="8"/><circle cx="699.98" cy="1565.58" r="8"/><circle cx="705.31" cy="1538.07" r="8"/><circle cx="710.64" cy="1514.26" r="8"/><circle cx="715.97" cy="1494.06" r="8"/><circle cx="721.30" cy="1477.23" r="8"/><circle cx="726.63" cy="1463.39" r="8"/><circle cx="731.96" cy="1452.15" r="8"/><circle cx="737.29" cy="1443.10" r="8"/><circle cx="742.62" cy="1435.88" r="8"/><circle cx="747.95" cy="1430.15" r="8"/><circle cx="753.28" cy="1425.62" r="8"/><circle cx="758.61" cy="1422.06" r="8"/><circle cx="763.94" cy="1419.27" r="8"/><circle cx="769.27" cy="1417.09" r="8"/><circle cx="774.60" cy="1415.38" r="8"/><circle cx="779.93" cy="1414.05" r="8"/><circle cx="785.26" cy="1413.01" r="8"/><circle cx="790.59" cy="1412.21" r="8"/><circle cx="795.92" cy="1411.58" r="8"/><circle cx="801.25" cy="1411.09" r="8"/><circle cx="806.58" cy="1410.71" r="8"/><circle cx="811.91" cy="1410.42" r="8"/><circle cx="817.24" cy="1410.19" r="8"/><circle cx="822.57" cy="1410.01" r="8"/></g>
<path d="M214.50 2010.40 L215.50 2010.40 L216.50 2010.40 L217.50 2010.40 L218.50 2010.40 L219.50 2010.40 L220.50 2010.40 L221.50 2010.40 L222.50 2010.40 L223.50 2010.40 L224.50 2010.40 L225.50 2010.40 L226.50 2010.40 L227.50 2010.40 L228.50 2010.40 L229.50 2010.40 L230.50 2010.40 L231.50 2010.40 L232.50 2010.40 L233.50 2010.40 L234.50 2010.40 L235.50 2010.40 L236.50 2010.40 L237.50 2010.40 L238.50 2010.40 L239.50 2010.40 L240.50 2010.40 L241.50 2010.40 L242.50 2010.40 L243.50 2010.40 L244.50 2010.40 L245.50 2010.40 L246.50 2010.40 L247.50 2010.40 L248.50 2010.40 L249.50 2010.40 L250.50 2010.40 L251.50 2010.40 L252.50 2010.40 L253.50 2010.40 L254.50 2010.40 L255.50 2010.40 L256.50 2010.40 L257.50 2010.40 L258.50 2010.40 L259.50 2010.40 L260.50 2010.40 L261.50 2010.40 L262.50 2010.40 L263.50 2010.40 L264.50 2010.40 L265.50 2010.40 L266.50 2010.40 L267.50 2010.40 L268.50 2010.40 L269.50 2010.40 L270.50 2010.40 L271.50 2010.40 L272.50 2010.40 L273.50 2010.40 L274.50 2010.40 L275.50 2010.40 L276.50 2010.40 L277.50 2010.40 L278.50 2010.40 L279.50 2010.40 L280.50 2010.40 L281.50 2010.40 L282.50 2010.40 L283.50 2010.40 L284.50 2010.40 L285.50 2010.40 L286.50 2010.40 L287.50 2010.40 L288.50 2010.40 L289.50 2010.40 L290.50 2010.40 L291.50 2010.40 L292.50 2010.40 L293.50 2010.40 L294.50 2010.40 L295.50 2010.40 L296.50 2010.40 L297.50 2010.40 L298.50 2010.40 L299.50 2010.40 L300.50 2010.40 L301.50 2010.40 L302.50 2010.40 L303.50 2010.40 L304.50 2010.40 L305.50 2010.40 L306.50 2010.40 L307.50 2010.40 L308.50 2010.40 L309.50 2010.40 L310.50 2010.40 L311.50 2010.40 L312.50 2010.40 L313.50 2010.40 L314.50 2010.40 L315.50 2010.40 L316.50 2010.40 L317.50 2010.40 L318.50 2010.40 L319.50 2010.40 L320.50 2010.40 L321.50 2010.40 L322.50 2010.40 L323.50 2010.40 L324.50 2010.40 L325.50 2010.40 L326.50 2010.40 L327.50 2010.40 L328.50 2010.40 L329.50 2010.40 L330.50 2010.40 L331.50 2010.40 L332.50 2010.40 L333.50 2010.40 L334.50 2010.40 L335.50 2010.40 L336.50 2010.40 L337.50 2010.40 L338.50 2010.40 L339.50 2010.40 L340.50 2010.40 L341.50 2010.40 L342.50 2010.40 L343.50 2010.40 L344.50 2010.40 L345.50 2010.40 L346.50 2010.40 L347.50 2010.40 L348.50 2010.40 L349.50 2010.40 L350.50 2010.40 L351.50 2010.40 L352.50 2010.40 L353.50 2010.40 L354.50 2010.40 L355.50 2010.40 L356.50 2010.40 L357.50 2010.40 L358.50 2010.40 L359.50 2010.40 L360.50 2010.40 L361.50 2010.40 L362.50 2010.40 L363.50 2010.40 L364.50 2010.40 L365.50 2010.40 L366.50 2010.40 L367.50 2010.40 L368.50 2010.40 L369.50 2010.40 L370.50 2010.40 L371.50 2010.40 L372.50 2010.40 L373.50 2010.40 L374.50 2010.40 L375.50 2010.40 L376.50 2010.40 L377.50 2010.40 L378.50 2010.40 L379.50 2010.40 L380.50 2010.40 L381.50 2010.40 L382.50 2010.40 L383.50 2010.40 L384.50 2010.40 L385.50 2010.40 L386.50 2010.40 L387.50 2010.40 L388.50 2010.40 L389.50 2010.40 L390.50 2010.40 L391.50 2010.40 L392.50 2010.40 L393.50 2010.40 L394.50 2010.40 L395.50 2010.40 L396.50 2010.40 L397.50 2010.40 L398.50 2010.40 L399.50 2010.40 L400.50 2010.40 L401.50 2010.40 L402.50 2010.40 L403.50 2010.40 L404.50 2010.40 L405.50 2010.40 L406.50 2010.40 L407.50 2010.40 L408.50 2010.40 L409.50 2010.40 L410.50 2010.40 L411.50 2010.40 L412.50 2010.40 L413.50 2010.40 L414.50 2010.40 L415.50 2010.40 L416.50 2010.40 L417.50 2010.40 L418.50 2010.40 L419.50 2010.40 L420.50 2010.40 L421.50 2010.40 L422.50 2010.40 L423.50 2010.40 L424.50 2010.40 L425.50 2010.40 L426.50 2010.40 L427.50 2010.40 L428.50 2010.40 L429.50 2010.40 L430.50 2010.40 L431.50 2010.40 L432.50 2010.39 L433.50 2010.39 L434.50 2010.39 L435.50 2010.39 L436.50 2010.39 L437.50 2010.39 L438.50 2010.39 L439.50 2010.39 L440.50 2010.39 L441.50 2010.39 L442.50 2010.39 L443.50 2010.39 L444.50 2010.39 L445.50 2010.39 L446.50 2010.39 L447.50 2010.39 L448.50 2010.39 L449.50 2010.39 L450.50 2010.39 L451.50 2010.39 L452.50 2010.39 L453.50 2010.39 L454.50 2010.39 L455.50 2010.38 L456.50 2010.38 L457.50 2010.38 L458.50 2010.38 L459.50 2010.38 L460.50 2010.38 L461.50 2010.38 L462.50 2010.38 L463.50 2010.38 L464.50 2010.38 L465.50 2010.38 L466.50 2010.37 L467.50 2010.37 L468.50 2010.37 L469.50 2010.37 L470.50 2010.37 L471.50 2010.37 L472.50 2010.37 L473.50 2010.36 L474.50 2010.36 L475.50 2010.36 L476.50 2010.36 L477.50 2010.36 L478.50 2010.36 L479.50 2010.35 L480.50 2010.35 L481.50 2010.35 L482.50 2010.35 L483.50 2010.34 L484.50 2010.34 L485.50 2010.34 L486.50 2010.33 L487.50 2010.33 L488.50 2010.33 L489.50 2010.32 L490.50 2010.32 L491.50 2010.32 L492.50 2010.31 L493.50 2010.31 L494.50 2010.30 L495.50 2010.30 L496.50 2010.29 L497.50 2010.29 L498.50 2010.28 L499.50 2010.28 L500.50 2010.27 L501.50 2010.27 L502.50 2010.26 L503.50 2010.25 L504.50 2010.24 L505.50 2010.24 L506.50 2010.23 L507.50 2010.22 L508.50 2010.21 L509.50 2010.20 L510.50 2010.19 L511.50 2010.18 L512.50 2010.17 L513.50 2010.16 L514.50 2010.15 L515.50 2010.14 L516.50 2010.13 L517.50 2010.11 L518.50 2010.10 L519.50 2010.08 L520.50 2010.07 L521.50 2010.05 L522.50 2010.03 L523.50 2010.02 L524.50 2010.00 L525.50 2009.98 L526.50 2009.96 L527.50 2009.94 L528.50 2009.91 L529.50 2009.89 L530.50 2009.87 L531.50 2009.84 L532.50 2009.81 L533.50 2009.78 L534.50 2009.75 L535.50 2009.72 L536.50 2009.69 L537.50 2009.65 L538.50 2009.62 L539.50 2009.58 L540.50 2009.54 L541.50 2009.50 L542.50 2009.45 L543.50 2009.41 L544.50 2009.36 L545.50 2009.31 L546.50 2009.26 L547.50 2009.20 L548.50 2009.14 L549.50 2009.08 L550.50 2009.02 L551.50 2008.95 L552.50 2008.88 L553.50 2008.80 L554.50 2008.73 L555.50 2008.65 L556.50 2008.56 L557.50 2008.47 L558.50 2008.38 L559.50 2008.28 L560.50 2008.18 L561.50 2008.07 L562.50 2007.95 L563.50 2007.84 L564.50 2007.71 L565.50 2007.58 L566.50 2007.44 L567.50 2007.30 L568.50 2007.15 L569.50 2006.99 L570.50 2006.83 L571.50 2006.65 L572.50 2006.47 L573.50 2006.28 L574.50 2006.08 L575.50 2005.87 L576.50 2005.65 L577.50 2005.42 L578.50 2005.18 L579.50 2004.93 L580.50 2004.67 L581.50 2004.39 L582.50 2004.10 L583.50 2003.80 L584.50 2003.48 L585.50 2003.15 L586.50 2002.80 L587.50 2002.43 L588.50 2002.05 L589.50 2001.64 L590.50 2001.22 L591.50 2000.78 L592.50 2000.32 L593.50 1999.84 L594.50 1999.33 L595.50 1998.81 L596.50 1998.25 L597.50 1997.67 L598.50 1997.06 L599.50 1996.43 L600.50 1995.76 L601.50 1995.07 L602.50 1994.34 L603.50 1993.58 L604.50 1992.78 L605.50 1991.95 L606.50 1991.08 L607.50 1990.17 L608.50 1989.22 L609.50 1988.22 L610.50 1987.18 L611.50 1986.10 L612.50 1984.96 L613.50 1983.77 L614.50 1982.54 L615.50 1981.24 L616.50 1979.89 L617.50 1978.48 L618.50 1977.01 L619.50 1975.48 L620.50 1973.88 L621.50 1972.21 L622.50 1970.48 L623.50 1968.66 L624.50 1966.78 L625.50 1964.81 L626.50 1962.76 L627.50 1960.63 L628.50 1958.41 L629.50 1956.11 L630.50 1953.71 L631.50 1951.22 L632.50 1948.63 L633.50 1945.94 L634.50 1943.15 L635.50 1940.25 L636.50 1937.24 L637.50 1934.13 L638.50 1930.90 L639.50 1927.56 L640.50 1924.10 L641.50 1920.52 L642.50 1916.82 L643.50 1912.99 L644.50 1909.04 L645.50 1904.97 L646.50 1900.76 L647.50 1896.43 L648.50 1891.97 L649.50 1887.37 L650.50 1882.65 L651.50 1877.79 L652.50 1872.80 L653.50 1867.69 L654.50 1862.44 L655.50 1857.07 L656.50 1851.56 L657.50 1845.94 L658.50 1840.19 L659.50 1834.32 L660.50 1828.33 L661.50 1822.23 L662.50 1816.02 L663.50 1809.71 L664.50 1803.29 L665.50 1796.78 L666.50 1790.18 L667.50 1783.50 L668.50 1776.73 L669.50 1769.90 L670.50 1763.00 L671.50 1756.04 L672.50 1749.03 L673.50 1741.97 L674.50 1734.88 L675.50 1727.77 L676.50 1720.63 L677.50 1713.48 L678.50 1706.32 L679.50 1699.17 L680.50 1692.03 L681.50 1684.92 L682.50 1677.83 L683.50 1670.77 L684.50 1663.76 L685.50 1656.80 L686.50 1649.90 L687.50 1643.07 L688.50 1636.30 L689.50 1629.62 L690.50 1623.02 L691.50 1616.51 L692.50 1610.09 L693.50 1603.78 L694.50 1597.57 L695.50 1591.47 L696.50 1585.48 L697.50 1579.61 L698.50 1573.86 L699.50 1568.24 L700.50 1562.73 L701.50 1557.36 L702.50 1552.11 L703.50 1547.00 L704.50 1542.01 L705.50 1537.15 L706.50 1532.43 L707.50 1527.83 L708.50 1523.37 L709.50 1519.04 L710.50 1514.83 L711.50 1510.76 L712.50 1506.81 L713.50 1502.98 L714.50 1499.28 L715.50 1495.70 L716.50 1492.24 L717.50 1488.90 L718.50 1485.67 L719.50 1482.56 L720.50 1479.55 L721.50 1476.65 L722.50 1473.86 L723.50 1471.17 L724.50 1468.58 L725.50 1466.09 L726.50 1463.69 L727.50 1461.39 L728.50 1459.17 L729.50 1457.04 L730.50 1454.99 L731.50 1453.02 L732.50 1451.14 L733.50 1449.32 L734.50 1447.59 L735.50 1445.92 L736.50 1444.32 L737.50 1442.79 L738.50 1441.32 L739.50 1439.91 L740.50 1438.56 L741.50 1437.26 L742.50 1436.03 L743.50 1434.84 L744.50 1433.70 L745.50 1432.62 L746.50 1431.58 L747.50 1430.58 L748.50 1429.63 L749.50 1428.72 L750.50 1427.85 L751.50 1427.02 L752.50 1426.22 L753.50 1425.46 L754.50 1424.73 L755.50 1424.04 L756.50 1423.37 L757.50 1422.74 L758.50 1422.13 L759.50 1421.55 L760.50 1420.99 L761.50 1420.47 L762.50 1419.96 L763.50 1419.48 L764.50 1419.02 L765.50 1418.58 L766.50 1418.16 L767.50 1417.75 L768.50 1417.37 L769.50 1417.00 L770.50 1416.65 L771.50 1416.32 L772.50 1416.00 L773.50 1415.70 L774.50 1415.41 L775.50 1415.13 L776.50 1414.87 L777.50 1414.62 L778.50 1414.38 L779.50 1414.15 L780.50 1413.93 L781.50 1413.72 L782.50 1413.52 L783.50 1413.33 L784.50 1413.15 L785.50 1412.97 L786.50 1412.81 L787.50 1412.65 L788.50 1412.50 L789.50 1412.36 L790.50 1412.22 L791.50 1412.09 L792.50 1411.96 L793.50 1411.85 L794.50 1411.73 L795.50 1411.62 L796.50 1411.52 L797.50 1411.42 L798.50 1411.33 L799.50 1411.24 L800.50 1411.15 L801.50 1411.07 L802.50 1411.00 L803.50 1410.92 L804.50 1410.85 L805.50 1410.78 L806.50 1410.72 L807.50 1410.66 L808.50 1410.60 L809.50 1410.54 L810.50 1410.49 L811.50 1410.44 L812.50 1410.39 L813.50 1410.35 L814.50 1410.30 L815.50 1410.26 L816.50 1410.22 L817.50 1410.18 L818.50 1410.15 L819.50 1410.11 L820.50 1410.08 L821.50 1410.05 L822.50 1410.02 L823.50 1409.99 L824.50 1409.96 L825.50 1409.93 L826.50 1409.91 L827.50 1409.89 L828.50 1409.86 L829.50 1409.84 L830.50 1409.82 L831.50 1409.80 L832.50 1409.78 L833.50 1409.77 L834.50 1409.75 L835.50 1409.73 L836.50 1409.72 L837.50 1409.70 L838.50 1409.69 L839.50 1409.67 L840.50 1409.66 L841.50 1409.65 L842.50 1409.64 L843.50 1409.63 L844.50 1409.62 L845.50 1409.61 L846.50 1409.60 L847.50 1409.59 L848.50 1409.58 L849.50 1409.57 L850.50 1409.56 L851.50 1409.56 L852.50 1409.55 L853.50 1409.54 L854.50 1409.53 L855.50 1409.53 L856.50 1409.52 L857.50 1409.52 L858.50 1409.51 L859.50 1409.51 L860.50 1409.50 L861.50 1409.50 L862.50 1409.49 L863.50 1409.49 L864.50 1409.48 L865.50 1409.48 L866.50 1409.48 L867.50 1409.47 L868.50 1409.47 L869.50 1409.47 L870.50 1409.46 L871.50 1409.46 L872.50 1409.46 L873.50 1409.45 L874.50 1409.45 L875.50 1409.45 L876.50 1409.45 L877.50 1409.44 L878.50 1409.44 L879.50 1409.44 L880.50 1409.44 L881.50 1409.44 L882.50 1409.44 L883.50 1409.43 L884.50 1409.43 L885.50 1409.43 L886.50 1409.43 L887.50 1409.43 L888.50 1409.43 L889.50 1409.43 L890.50 1409.42 L891.50 1409.42 L892.50 1409.42 L893.50 1409.42 L894.50 1409.42 L895.50 1409.42 L896.50 1409.42 L897.50 1409.42 L898.50 1409.42 L899.50 1409.42 L900.50 1409.42 L901.50 1409.41 L902.50 1409.41 L903.50 1409.41 L904.50 1409.41 L905.50 1409.41 L906.50 1409.41 L907.50 1409.41 L908.50 1409.41 L909.50 1409.41 L910.50 1409.41 L911.50 1409.41 L912.50 1409.41 L913.50 1409.41 L914.50 1409.41 L915.50 1409.41 L916.50 1409.41 L917.50 1409.41 L918.50 1409.41 L919.50 1409.41 L920.50 1409.41 L921.50 1409.41 L922.50 1409.41 L923.50 1409.41 L924.50 1409.40 L925.50 1409.40 L926.50 1409.40 L927.50 1409.40 L928.50 1409.40 L929.50 1409.40 L930.50 1409.40 L931.50 1409.40 L932.50 1409.40 L933.50 1409.40 L934.50 1409.40 L935.50 1409.40 L936.50 1409.40 L937.50 1409.40 L938.50 1409.40 L939.50 1409.40 L940.50 1409.40 L941.50 1409.40 L942.50 1409.40 L943.50 1409.40 L944.50 1409.40 L945.50 1409.40 L946.50 1409.40 L947.50 1409.40 L948.50 1409.40 L949.50 1409.40 L950.50 1409.40 L951.50 1409.40 L952.50 1409.40 L953.50 1409.40 L954.50 1409.40 L955.50 1409.40 L956.50 1409.40 L957.50 1409.40 L958.50 1409.40 L959.50 1409.40 L960.50 1409.40 L961.50 1409.40 L962.50 1409.40 L963.50 1409.40 L964.50 1409.40 L965.50 1409.40 L966.50 1409.40 L967.50 1409.40 L968.50 1409.40 L969.50 1409.40 L970.50 1409.40 L971.50 1409.40 L972.50 1409.40 L973.50 1409.40 L974.50 1409.40 L975.50 1409.40 L976.50 1409.40 L977.50 1409.40 L978.50 1409.40 L979.50 1409.40 L980.50 1409.40 L981.50 1409.40 L982.50 1409.40 L983.50 1409.40 L984.50 1409.40 L985.50 1409.40 L986.50 1409.40 L987.50 1409.40 L988.50 1409.40 L989.50 1409.40 L990.50 1409.40 L991.50 1409.40 L992.50 1409.40 L993.50 1409.40 L994.50 1409.40 L995.50 1409.40 L996.50 1409.40 L997.50 1409.40 L998.50 1409.40 L999.50 1409.40 L1000.50 1409.40 L1001.50 1409.40 L1002.50 1409.40 L1003.50 1409.40 L1004.50 1409.40 L1005.50 1409.40 L1006.50 1409.40 L1007.50 1409.40 L1008.50 1409.40 L1009.50 1409.40 L1010.50 1409.40 L1011.50 1409.40 L1012.50 1409.40 L1013.50 1409.40 L1014.50 1409.40 L1015.50 1409.40 L1016.50 1409.40 L1017.50 1409.40 L1018.50 1409.40 L1019.50 1409.40 L1020.50 1409.40 L1021.50 1409.40 L1022.50 1409.40 L1023.50 1409.40 L1024.50 1409.40 L1025.50 1409.40 L1026.50 1409.40 L1027.50 1409.40 L1028.50 1409.40 L1029.50 1409.40 L1030.50 1409.40 L1031.50 1409.40 L1032.50 1409.40 L1033.50 1409.40 L1034.50 1409.40 L1035.50 1409.40 L1036.50 1409.40 L1037.50 1409.40 L1038.50 1409.40 L1039.50 1409.40 L1040.50 1409.40 L1041.50 1409.40 L1042.50 1409.40 L1043.50 1409.40 L1044.50 1409.40 L1045.50 1409.40 L1046.50 1409.40 L1047.50 1409.40 L1048.50 1409.40 L1049.50 1409.40 L1050.50 1409.40 L1051.50 1409.40 L1052.50 1409.40 L1053.50 1409.40 L1054.50 1409.40 L1055.50 1409.40 L1056.50 1409.40 L1057.50 1409.40 L1058.50 1409.40 L1059.50 1409.40 L1060.50 1409.40 L1061.50 1409.40 L1062.50 1409.40 L1063.50 1409.40 L1064.50 1409.40 L1065.50 1409.40 L1066.50 1409.40 L1067.50 1409.40 L1068.50 1409.40 L1069.50 1409.40 L1070.50 1409.40 L1071.50 1409.40 L1072.50 1409.40 L1073.50 1409.40 L1074.50 1409.40 L1075.50 1409.40 L1076.50 1409.40 L1077.50 1409.40 L1078.50 1409.40 L1079.50 1409.40 L1080.50 1409.40 L1081.50 1409.40 L1082.50 1409.40 L1083.50 1409.40 L1084.50 1409.40 L1085.50 1409.40 L1086.50 1409.40 L1087.50 1409.40 L1088.50 1409.40 L1089.50 1409.40 L1090.50 1409.40 L1091.50 1409.40 L1092.50 1409.40 L1093.50 1409.40 L1094.50 1409.40 L1095.50 1409.40 L1096.50 1409.40 L1097.50 1409.40 L1098.50 1409.40 L1099.50 1409.40 L1100.50 1409.40 L1101.50 1409.40 L1102.50 1409.40 L1103.50 1409.40 L1104.50 1409.40 L1105.50 1409.40 L1106.50 1409.40 L1107.50 1409.40 L1108.50 1409.40 L1109.50 1409.40 L1110.50 1409.40 L1111.50 1409.40 L1112.50 1409.40 L1113.50 1409.40 L1113.80 1409.40" fill="none" stroke="#ff0000" stroke-width="6.4" stroke-linejoin="round"/>
<text x="0.0" y="1414.1" font-size="70" text-anchor="start" font-weight="bold" >(c)</text>
<g transform="translate(73.1 1741.8) rotate(-90)"><text x="0" y="0" font-size="53.3">m</text><text x="43.8" y="10.6" font-size="35">z</text></g>
<text x="520.5" y="2173.3" font-size="53.3" text-anchor="start" font-weight="normal" >distance (nm)</text>
<circle cx="920.1" cy="1875.6" r="12" fill="#0000ff"/>
<text x="971.1" y="1895.6" font-size="53.3" text-anchor="start" font-weight="normal" >data</text>
<line x1="889.80" y1="1950.30" x2="950.80" y2="1950.30" stroke="#ff0000" stroke-width="7.0" stroke-linecap="butt"/>
<text transform="translate(971.4 1970.0) scale(1.17 1)" font-size="53.3">fit</text>
</svg>
</body></html>
